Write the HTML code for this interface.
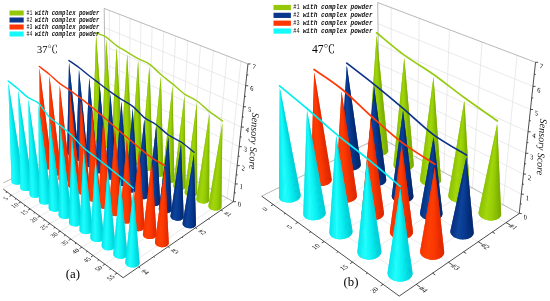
<!DOCTYPE html>
<html><head><meta charset="utf-8"><style>
html,body{margin:0;padding:0;background:#fff;}
svg{display:block;}
.tl{font-family:"Liberation Serif",serif;fill:#000;}
.ln{font-family:"Liberation Mono",monospace;fill:#111;}
.lt{font-family:"Liberation Mono",monospace;font-style:italic;font-weight:bold;fill:#111;}
.tt{font-family:"Liberation Serif","Noto Serif CJK SC",serif;fill:#000;}
.ss{font-family:"Liberation Serif",serif;font-style:italic;fill:#111;}
</style></head><body>
<svg width="550" height="301" viewBox="0 0 550 301">
<defs><clipPath id="ca"><rect x="3.3" y="0" width="259" height="301"/></clipPath></defs>
<rect width="550" height="301" fill="#fff"/>
<g clip-path="url(#ca)">
<polygon points="105.71,130.95 233.33,201.67 247.96,63.92 104.19,8.44" fill="#fff"/>
<g stroke="#dcdcdc" stroke-width="0.6"><line x1="110.26" y1="133.47" x2="109.22" y2="10.39" /><line x1="119.54" y1="138.61" x2="119.49" y2="14.35" /><line x1="129.05" y1="143.88" x2="130.06" y2="18.43" /><line x1="138.81" y1="149.29" x2="140.94" y2="22.63" /><line x1="148.82" y1="154.84" x2="152.14" y2="26.95" /><line x1="159.11" y1="160.54" x2="163.67" y2="31.4" /><line x1="169.67" y1="166.39" x2="175.56" y2="35.98" /><line x1="180.53" y1="172.41" x2="187.81" y2="40.71" /><line x1="191.69" y1="178.6" x2="200.44" y2="45.58" /><line x1="203.17" y1="184.96" x2="213.48" y2="50.61" /><line x1="214.97" y1="191.5" x2="226.94" y2="55.81" /><line x1="227.12" y1="198.23" x2="240.84" y2="61.17" /><line x1="105.51" y1="114.93" x2="235.21" y2="183.95" /><line x1="105.31" y1="98.45" x2="237.16" y2="165.63" /><line x1="105.1" y1="81.49" x2="239.17" y2="146.69" /><line x1="104.88" y1="64.03" x2="241.25" y2="127.08" /><line x1="104.66" y1="46.06" x2="243.41" y2="106.77" /><line x1="104.42" y1="27.53" x2="245.65" y2="85.74" /><line x1="110.26" y1="133.47" x2="2.68" y2="188.69" /><line x1="119.54" y1="138.61" x2="11.57" y2="195.27" /><line x1="129.05" y1="143.88" x2="20.73" y2="202.03" /><line x1="138.81" y1="149.29" x2="30.16" y2="209" /><line x1="148.82" y1="154.84" x2="39.87" y2="216.18" /><line x1="159.11" y1="160.54" x2="49.88" y2="223.57" /><line x1="169.67" y1="166.39" x2="60.19" y2="231.19" /><line x1="180.53" y1="172.41" x2="70.83" y2="239.05" /><line x1="191.69" y1="178.6" x2="81.8" y2="247.17" /><line x1="203.17" y1="184.96" x2="93.13" y2="255.54" /><line x1="214.97" y1="191.5" x2="104.84" y2="264.19" /><line x1="227.12" y1="198.23" x2="116.93" y2="273.13" /><line x1="93.6" y1="137.1" x2="221.14" y2="210.08" /><line x1="68.32" y1="149.93" x2="195.51" y2="227.77" /><line x1="41.56" y1="163.52" x2="168.08" y2="246.69" /><line x1="13.17" y1="177.93" x2="138.66" y2="266.99" /></g>
<g stroke="#9a9a9a" stroke-width="0.7"><line x1="104.19" y1="8.44" x2="247.96" y2="63.92" /><line x1="104.19" y1="8.44" x2="105.71" y2="130.95" /><line x1="105.71" y1="130.95" x2="-1.68" y2="185.47" /><line x1="105.71" y1="130.95" x2="233.33" y2="201.67" /></g>
<g stroke="#222" stroke-width="0.8" fill="none"><line x1="233.33" y1="201.67" x2="247.96" y2="63.92" /><line x1="-1.68" y1="185.47" x2="123.13" y2="277.71" /><line x1="233.33" y1="201.67" x2="123.13" y2="277.71" /><line x1="233.33" y1="201.67" x2="235.93" y2="201.67"/><line x1="234.26" y1="192.88" x2="235.76" y2="192.88"/><line x1="235.21" y1="183.95" x2="237.81" y2="183.95"/><line x1="236.18" y1="174.87" x2="237.68" y2="174.87"/><line x1="237.16" y1="165.63" x2="239.76" y2="165.63"/><line x1="238.16" y1="156.24" x2="239.66" y2="156.24"/><line x1="239.17" y1="146.69" x2="241.77" y2="146.69"/><line x1="240.2" y1="136.97" x2="241.7" y2="136.97"/><line x1="241.25" y1="127.08" x2="243.85" y2="127.08"/><line x1="242.32" y1="117.02" x2="243.82" y2="117.02"/><line x1="243.41" y1="106.77" x2="246.01" y2="106.77"/><line x1="244.52" y1="96.35" x2="246.02" y2="96.35"/><line x1="245.65" y1="85.74" x2="248.25" y2="85.74"/><line x1="246.79" y1="74.93" x2="248.29" y2="74.93"/><line x1="247.96" y1="63.92" x2="250.56" y2="63.92"/><line x1="2.68" y1="188.69" x2="0.55" y2="189.78" /><line x1="7.09" y1="191.96" x2="5.82" y2="192.62" /><line x1="11.57" y1="195.27" x2="9.44" y2="196.39" /><line x1="16.12" y1="198.63" x2="14.84" y2="199.31" /><line x1="20.73" y1="202.03" x2="18.59" y2="203.18" /><line x1="25.41" y1="205.49" x2="24.12" y2="206.19" /><line x1="30.16" y1="209" x2="28.01" y2="210.18" /><line x1="34.98" y1="212.56" x2="33.69" y2="213.28" /><line x1="39.87" y1="216.18" x2="37.71" y2="217.4" /><line x1="44.83" y1="219.85" x2="43.54" y2="220.59" /><line x1="49.88" y1="223.57" x2="47.7" y2="224.82" /><line x1="54.99" y1="227.35" x2="53.69" y2="228.12" /><line x1="60.19" y1="231.19" x2="58.01" y2="232.48" /><line x1="65.47" y1="235.09" x2="64.16" y2="235.88" /><line x1="70.83" y1="239.05" x2="68.64" y2="240.38" /><line x1="76.27" y1="243.08" x2="74.96" y2="243.89" /><line x1="81.8" y1="247.17" x2="79.6" y2="248.54" /><line x1="87.42" y1="251.32" x2="86.1" y2="252.15" /><line x1="93.13" y1="255.54" x2="90.93" y2="256.95" /><line x1="98.94" y1="259.83" x2="97.61" y2="260.69" /><line x1="104.84" y1="264.19" x2="102.62" y2="265.65" /><line x1="110.83" y1="268.62" x2="109.51" y2="269.51" /><line x1="116.93" y1="273.13" x2="114.71" y2="274.63" /><line x1="221.14" y1="210.08" x2="222.77" y2="211.02" /><line x1="208.54" y1="218.78" x2="209.54" y2="219.37" /><line x1="195.51" y1="227.77" x2="197.15" y2="228.77" /><line x1="182.03" y1="237.07" x2="183.04" y2="237.7" /><line x1="168.08" y1="246.69" x2="169.72" y2="247.77" /><line x1="153.64" y1="256.66" x2="154.64" y2="257.35" /><line x1="138.66" y1="266.99" x2="140.29" y2="268.15" /></g>
<text class="tl" transform="matrix(0.87,0.48,-0.11,0.99,239.53,204.07)" text-anchor="middle" dy="0.35em" font-size="7">0</text><text class="tl" transform="matrix(0.88,0.47,-0.11,0.99,241.41,186.35)" text-anchor="middle" dy="0.35em" font-size="7">1</text><text class="tl" transform="matrix(0.89,0.45,-0.11,0.99,243.36,168.03)" text-anchor="middle" dy="0.35em" font-size="7">2</text><text class="tl" transform="matrix(0.9,0.44,-0.11,0.99,245.37,149.09)" text-anchor="middle" dy="0.35em" font-size="7">3</text><text class="tl" transform="matrix(0.91,0.42,-0.11,0.99,247.45,129.48)" text-anchor="middle" dy="0.35em" font-size="7">4</text><text class="tl" transform="matrix(0.92,0.4,-0.11,0.99,249.61,109.17)" text-anchor="middle" dy="0.35em" font-size="7">5</text><text class="tl" transform="matrix(0.92,0.38,-0.11,0.99,251.85,88.14)" text-anchor="middle" dy="0.35em" font-size="7">6</text><text class="tl" transform="matrix(0.93,0.36,-0.11,0.99,254.16,66.32)" text-anchor="middle" dy="0.35em" font-size="7">7</text><text class="ss" transform="translate(252.2,112.6) rotate(93.1)" font-size="10">Sensory Score</text><text class="tl" transform="matrix(0.89,-0.46,0.8,0.6,5.46,198.48)" x="0" y="0" dy="0.35em" text-anchor="middle" font-size="6.5">5</text><text class="tl" transform="matrix(0.88,-0.47,0.8,0.6,14.59,205.33)" x="0" y="0" dy="0.35em" text-anchor="middle" font-size="6.5">10</text><text class="tl" transform="matrix(0.88,-0.48,0.8,0.6,23.98,212.4)" x="0" y="0" dy="0.35em" text-anchor="middle" font-size="6.5">15</text><text class="tl" transform="matrix(0.87,-0.49,0.8,0.6,33.66,219.67)" x="0" y="0" dy="0.35em" text-anchor="middle" font-size="6.5">20</text><text class="tl" transform="matrix(0.87,-0.5,0.8,0.6,43.64,227.17)" x="0" y="0" dy="0.35em" text-anchor="middle" font-size="6.5">25</text><text class="tl" transform="matrix(0.86,-0.51,0.8,0.6,53.93,234.9)" x="0" y="0" dy="0.35em" text-anchor="middle" font-size="6.5">30</text><text class="tl" transform="matrix(0.85,-0.52,0.8,0.6,64.54,242.87)" x="0" y="0" dy="0.35em" text-anchor="middle" font-size="6.5">35</text><text class="tl" transform="matrix(0.85,-0.53,0.8,0.6,75.49,251.1)" x="0" y="0" dy="0.35em" text-anchor="middle" font-size="6.5">40</text><text class="tl" transform="matrix(0.84,-0.54,0.8,0.6,86.8,259.6)" x="0" y="0" dy="0.35em" text-anchor="middle" font-size="6.5">45</text><text class="tl" transform="matrix(0.83,-0.55,0.8,0.6,98.49,268.38)" x="0" y="0" dy="0.35em" text-anchor="middle" font-size="6.5">50</text><text class="tl" transform="matrix(0.83,-0.56,0.8,0.6,110.56,277.45)" x="0" y="0" dy="0.35em" text-anchor="middle" font-size="6.5">55</text><text class="tl" transform="matrix(0.87,0.5,-0.82,0.57,225.17,212.39)" x="0" y="0" dy="0.35em" text-anchor="start" font-size="6.5">#1</text><text class="tl" transform="matrix(0.85,0.52,-0.82,0.57,199.55,230.24)" x="0" y="0" dy="0.35em" text-anchor="start" font-size="6.5">#2</text><text class="tl" transform="matrix(0.84,0.55,-0.82,0.57,172.12,249.35)" x="0" y="0" dy="0.35em" text-anchor="start" font-size="6.5">#3</text><text class="tl" transform="matrix(0.82,0.58,-0.82,0.57,142.69,269.86)" x="0" y="0" dy="0.35em" text-anchor="start" font-size="6.5">#4</text>
<polygon points="92.62,139.65 96.11,34.91 103.62,139.35 103.65,139.74 103.58,140.13 103.41,140.52 103.16,140.89 102.82,141.24 102.4,141.56 101.9,141.85 101.34,142.11 100.72,142.32 100.06,142.49 99.36,142.61 98.65,142.68 97.92,142.7 97.2,142.67 96.49,142.59 95.81,142.45 95.18,142.27 94.59,142.05 94.07,141.78 93.61,141.48 93.24,141.15 92.95,140.8 92.75,140.42 92.64,140.04" fill="#96cc06"/>
<polygon points="96.11,34.91 101.9,141.85 101.34,142.11" fill="#81b303"/>
<polygon points="96.11,34.91 101.34,142.11 100.72,142.32" fill="#87b904"/>
<polygon points="96.11,34.91 100.72,142.32 100.06,142.49" fill="#8cc004"/>
<polygon points="96.11,34.91 100.06,142.49 99.36,142.61" fill="#92c705"/>
<polygon points="96.11,34.91 99.36,142.61 98.65,142.68" fill="#97cd07"/>
<polygon points="96.11,34.91 98.65,142.68 97.92,142.7" fill="#9bd008"/>
<polygon points="96.11,34.91 97.92,142.7 97.2,142.67" fill="#9ed30a"/>
<polygon points="96.11,34.91 97.2,142.67 96.49,142.59" fill="#a2d60c"/>
<polygon points="96.11,34.91 96.49,142.59 95.81,142.45" fill="#a5d90d"/>
<polygon points="96.11,34.91 95.81,142.45 95.18,142.27" fill="#a2d70d"/>
<polygon points="96.11,34.91 95.18,142.27 94.59,142.05" fill="#9dd20b"/>
<polygon points="96.11,34.91 94.59,142.05 94.07,141.78" fill="#98cd0a"/>
<polygon points="96.11,34.91 94.07,141.78 93.61,141.48" fill="#94ca09"/>
<polygon points="96.11,34.91 93.61,141.48 93.24,141.15" fill="#91c608"/>
<polygon points="96.11,34.91 93.24,141.15 92.95,140.8" fill="#8ec407"/>
<polygon points="96.11,34.91 92.95,140.8 92.75,140.42" fill="#8cc207"/>
<polygon points="96.11,34.91 92.75,140.42 92.64,140.04" fill="#8bc106"/>
<polygon points="96.11,34.91 92.64,140.04 92.62,139.65" fill="#8ac006"/>
<polygon points="96.11,34.91 103.62,139.35 103.65,139.74" fill="#709e00"/>
<polygon points="96.11,34.91 103.65,139.74 103.58,140.13" fill="#709e00"/>
<polygon points="96.11,34.91 103.58,140.13 103.41,140.52" fill="#71a000"/>
<polygon points="96.11,34.91 103.41,140.52 103.16,140.89" fill="#73a200"/>
<polygon points="96.11,34.91 103.16,140.89 102.82,141.24" fill="#76a501"/>
<polygon points="96.11,34.91 102.82,141.24 102.4,141.56" fill="#79a901"/>
<polygon points="96.11,34.91 102.4,141.56 101.9,141.85" fill="#7dae02"/>
<polygon points="101.79,144.94 106.2,39.06 112.97,145.04 112.91,145.44 112.75,145.83 112.5,146.21 112.16,146.57 111.74,146.9 111.25,147.2 110.68,147.46 110.06,147.68 109.39,147.86 108.69,147.98 107.97,148.05 107.23,148.07 106.5,148.04 105.78,147.95 105.09,147.82 104.44,147.63 103.84,147.4 103.3,147.13 102.84,146.82 102.45,146.48 102.15,146.12 101.94,145.73 101.82,145.34" fill="#96cc06"/>
<polygon points="106.2,39.06 111.25,147.2 110.68,147.46" fill="#81b303"/>
<polygon points="106.2,39.06 110.68,147.46 110.06,147.68" fill="#86b903"/>
<polygon points="106.2,39.06 110.06,147.68 109.39,147.86" fill="#8cbf04"/>
<polygon points="106.2,39.06 109.39,147.86 108.69,147.98" fill="#91c605"/>
<polygon points="106.2,39.06 108.69,147.98 107.97,148.05" fill="#97cd06"/>
<polygon points="106.2,39.06 107.97,148.05 107.23,148.07" fill="#9ad008"/>
<polygon points="106.2,39.06 107.23,148.07 106.5,148.04" fill="#9ed30a"/>
<polygon points="106.2,39.06 106.5,148.04 105.78,147.95" fill="#a1d60c"/>
<polygon points="106.2,39.06 105.78,147.95 105.09,147.82" fill="#a5d90d"/>
<polygon points="106.2,39.06 105.09,147.82 104.44,147.63" fill="#a3d70d"/>
<polygon points="106.2,39.06 104.44,147.63 103.84,147.4" fill="#9ed20c"/>
<polygon points="106.2,39.06 103.84,147.4 103.3,147.13" fill="#99ce0a"/>
<polygon points="106.2,39.06 103.3,147.13 102.84,146.82" fill="#95ca09"/>
<polygon points="106.2,39.06 102.84,146.82 102.45,146.48" fill="#91c708"/>
<polygon points="106.2,39.06 102.45,146.48 102.15,146.12" fill="#8ec407"/>
<polygon points="106.2,39.06 102.15,146.12 101.94,145.73" fill="#8cc207"/>
<polygon points="106.2,39.06 101.94,145.73 101.82,145.34" fill="#8bc106"/>
<polygon points="106.2,39.06 101.82,145.34 101.79,144.94" fill="#8ac006"/>
<polygon points="106.2,39.06 112.97,145.04 112.91,145.44" fill="#709e00"/>
<polygon points="106.2,39.06 112.91,145.44 112.75,145.83" fill="#719f00"/>
<polygon points="106.2,39.06 112.75,145.83 112.5,146.21" fill="#73a200"/>
<polygon points="106.2,39.06 112.5,146.21 112.16,146.57" fill="#75a501"/>
<polygon points="106.2,39.06 112.16,146.57 111.74,146.9" fill="#79a801"/>
<polygon points="106.2,39.06 111.74,146.9 111.25,147.2" fill="#7dad02"/>
<polygon points="111.21,150.36 116.59,47.54 122.54,150.47 122.48,150.88 122.33,151.28 122.09,151.67 121.75,152.04 121.33,152.38 120.84,152.69 120.27,152.96 119.65,153.18 118.97,153.36 118.26,153.49 117.53,153.56 116.78,153.58 116.04,153.55 115.31,153.46 114.61,153.32 113.95,153.13 113.33,152.89 112.78,152.61 112.31,152.29 111.91,151.95 111.59,151.57 111.37,151.18 111.24,150.77" fill="#96cc06"/>
<polygon points="116.59,47.54 120.84,152.69 120.27,152.96" fill="#81b203"/>
<polygon points="116.59,47.54 120.27,152.96 119.65,153.18" fill="#86b803"/>
<polygon points="116.59,47.54 119.65,153.18 118.97,153.36" fill="#8bbf04"/>
<polygon points="116.59,47.54 118.97,153.36 118.26,153.49" fill="#91c605"/>
<polygon points="116.59,47.54 118.26,153.49 117.53,153.56" fill="#97cc06"/>
<polygon points="116.59,47.54 117.53,153.56 116.78,153.58" fill="#9acf08"/>
<polygon points="116.59,47.54 116.78,153.58 116.04,153.55" fill="#9dd30a"/>
<polygon points="116.59,47.54 116.04,153.55 115.31,153.46" fill="#a1d60b"/>
<polygon points="116.59,47.54 115.31,153.46 114.61,153.32" fill="#a4d90d"/>
<polygon points="116.59,47.54 114.61,153.32 113.95,153.13" fill="#a3d70d"/>
<polygon points="116.59,47.54 113.95,153.13 113.33,152.89" fill="#9ed30c"/>
<polygon points="116.59,47.54 113.33,152.89 112.78,152.61" fill="#99ce0a"/>
<polygon points="116.59,47.54 112.78,152.61 112.31,152.29" fill="#95ca09"/>
<polygon points="116.59,47.54 112.31,152.29 111.91,151.95" fill="#91c708"/>
<polygon points="116.59,47.54 111.91,151.95 111.59,151.57" fill="#8ec407"/>
<polygon points="116.59,47.54 111.59,151.57 111.37,151.18" fill="#8cc207"/>
<polygon points="116.59,47.54 111.37,151.18 111.24,150.77" fill="#8bc106"/>
<polygon points="116.59,47.54 111.24,150.77 111.21,150.36" fill="#8ac006"/>
<polygon points="116.59,47.54 122.54,150.47 122.48,150.88" fill="#709e00"/>
<polygon points="116.59,47.54 122.48,150.88 122.33,151.28" fill="#719f00"/>
<polygon points="116.59,47.54 122.33,151.28 122.09,151.67" fill="#73a100"/>
<polygon points="116.59,47.54 122.09,151.67 121.75,152.04" fill="#75a401"/>
<polygon points="116.59,47.54 121.75,152.04 121.33,152.38" fill="#78a801"/>
<polygon points="116.59,47.54 121.33,152.38 120.84,152.69" fill="#7cad02"/>
<polygon points="120.87,155.93 127.22,54.02 132.36,156.05 132.31,156.47 132.17,156.88 131.93,157.28 131.6,157.66 131.18,158.01 130.68,158.32 130.12,158.6 129.49,158.83 128.81,159.01 128.09,159.14 127.35,159.22 126.59,159.24 125.84,159.2 125.1,159.11 124.38,158.97 123.71,158.77 123.08,158.53 122.52,158.24 122.02,157.92 121.61,157.56 121.28,157.17 121.05,156.77 120.91,156.36" fill="#96cc06"/>
<polygon points="127.22,54.02 130.68,158.32 130.12,158.6" fill="#80b203"/>
<polygon points="127.22,54.02 130.12,158.6 129.49,158.83" fill="#85b803"/>
<polygon points="127.22,54.02 129.49,158.83 128.81,159.01" fill="#8bbe04"/>
<polygon points="127.22,54.02 128.81,159.01 128.09,159.14" fill="#90c505"/>
<polygon points="127.22,54.02 128.09,159.14 127.35,159.22" fill="#96cc06"/>
<polygon points="127.22,54.02 127.35,159.22 126.59,159.24" fill="#9acf08"/>
<polygon points="127.22,54.02 126.59,159.24 125.84,159.2" fill="#9dd20a"/>
<polygon points="127.22,54.02 125.84,159.2 125.1,159.11" fill="#a1d50b"/>
<polygon points="127.22,54.02 125.1,159.11 124.38,158.97" fill="#a4d80d"/>
<polygon points="127.22,54.02 124.38,158.97 123.71,158.77" fill="#a4d80d"/>
<polygon points="127.22,54.02 123.71,158.77 123.08,158.53" fill="#9fd30c"/>
<polygon points="127.22,54.02 123.08,158.53 122.52,158.24" fill="#9acf0a"/>
<polygon points="127.22,54.02 122.52,158.24 122.02,157.92" fill="#95cb09"/>
<polygon points="127.22,54.02 122.02,157.92 121.61,157.56" fill="#92c708"/>
<polygon points="127.22,54.02 121.61,157.56 121.28,157.17" fill="#8fc407"/>
<polygon points="127.22,54.02 121.28,157.17 121.05,156.77" fill="#8cc207"/>
<polygon points="127.22,54.02 121.05,156.77 120.91,156.36" fill="#8bc106"/>
<polygon points="127.22,54.02 120.91,156.36 120.87,155.93" fill="#8ac006"/>
<polygon points="127.22,54.02 132.36,156.05 132.31,156.47" fill="#709e00"/>
<polygon points="127.22,54.02 132.31,156.47 132.17,156.88" fill="#719f00"/>
<polygon points="127.22,54.02 132.17,156.88 131.93,157.28" fill="#73a100"/>
<polygon points="127.22,54.02 131.93,157.28 131.6,157.66" fill="#75a401"/>
<polygon points="127.22,54.02 131.6,157.66 131.18,158.01" fill="#78a801"/>
<polygon points="127.22,54.02 131.18,158.01 130.68,158.32" fill="#7cac02"/>
<polygon points="130.79,161.65 138.13,60.63 142.44,161.78 142.4,162.21 142.27,162.63 142.03,163.04 141.71,163.43 141.29,163.79 140.8,164.11 140.23,164.39 139.59,164.63 138.91,164.82 138.19,164.95 137.44,165.03 136.67,165.05 135.9,165.01 135.15,164.92 134.42,164.77 133.73,164.57 133.09,164.32 132.51,164.02 132.01,163.69 131.58,163.32 131.24,162.93 130.99,162.51 130.84,162.09" fill="#96cc06"/>
<polygon points="138.13,60.63 140.8,164.11 140.23,164.39" fill="#80b102"/>
<polygon points="138.13,60.63 140.23,164.39 139.59,164.63" fill="#85b703"/>
<polygon points="138.13,60.63 139.59,164.63 138.91,164.82" fill="#8abd04"/>
<polygon points="138.13,60.63 138.91,164.82 138.19,164.95" fill="#90c405"/>
<polygon points="138.13,60.63 138.19,164.95 137.44,165.03" fill="#96cc06"/>
<polygon points="138.13,60.63 137.44,165.03 136.67,165.05" fill="#99cf08"/>
<polygon points="138.13,60.63 136.67,165.05 135.9,165.01" fill="#9dd209"/>
<polygon points="138.13,60.63 135.9,165.01 135.15,164.92" fill="#a0d50b"/>
<polygon points="138.13,60.63 135.15,164.92 134.42,164.77" fill="#a4d80d"/>
<polygon points="138.13,60.63 134.42,164.77 133.73,164.57" fill="#a4d80e"/>
<polygon points="138.13,60.63 133.73,164.57 133.09,164.32" fill="#9fd40c"/>
<polygon points="138.13,60.63 133.09,164.32 132.51,164.02" fill="#9acf0b"/>
<polygon points="138.13,60.63 132.51,164.02 132.01,163.69" fill="#96cb09"/>
<polygon points="138.13,60.63 132.01,163.69 131.58,163.32" fill="#92c708"/>
<polygon points="138.13,60.63 131.58,163.32 131.24,162.93" fill="#8fc507"/>
<polygon points="138.13,60.63 131.24,162.93 130.99,162.51" fill="#8dc207"/>
<polygon points="138.13,60.63 130.99,162.51 130.84,162.09" fill="#8bc106"/>
<polygon points="138.13,60.63 130.84,162.09 130.79,161.65" fill="#8ac006"/>
<polygon points="138.13,60.63 142.44,161.78 142.4,162.21" fill="#709e00"/>
<polygon points="138.13,60.63 142.4,162.21 142.27,162.63" fill="#719f00"/>
<polygon points="138.13,60.63 142.27,162.63 142.03,163.04" fill="#72a100"/>
<polygon points="138.13,60.63 142.03,163.04 141.71,163.43" fill="#75a401"/>
<polygon points="138.13,60.63 141.71,163.43 141.29,163.79" fill="#78a701"/>
<polygon points="138.13,60.63 141.29,163.79 140.8,164.11" fill="#7bac02"/>
<polygon points="140.98,167.53 149.37,66.11 152.8,167.66 152.77,168.1 152.64,168.54 152.41,168.96 152.09,169.35 151.68,169.72 151.18,170.05 150.61,170.34 149.98,170.59 149.29,170.78 148.56,170.91 147.8,170.99 147.02,171.02 146.24,170.98 145.48,170.88 144.73,170.73 144.03,170.52 143.37,170.26 142.78,169.96 142.26,169.62 141.82,169.24 141.46,168.84 141.2,168.41 141.04,167.97" fill="#96cc06"/>
<polygon points="149.37,66.11 151.18,170.05 150.61,170.34" fill="#7fb002"/>
<polygon points="149.37,66.11 150.61,170.34 149.98,170.59" fill="#84b603"/>
<polygon points="149.37,66.11 149.98,170.59 149.29,170.78" fill="#89bd04"/>
<polygon points="149.37,66.11 149.29,170.78 148.56,170.91" fill="#8fc405"/>
<polygon points="149.37,66.11 148.56,170.91 147.8,170.99" fill="#95cb06"/>
<polygon points="149.37,66.11 147.8,170.99 147.02,171.02" fill="#99cf07"/>
<polygon points="149.37,66.11 147.02,171.02 146.24,170.98" fill="#9cd209"/>
<polygon points="149.37,66.11 146.24,170.98 145.48,170.88" fill="#a0d50b"/>
<polygon points="149.37,66.11 145.48,170.88 144.73,170.73" fill="#a3d80d"/>
<polygon points="149.37,66.11 144.73,170.73 144.03,170.52" fill="#a5d90e"/>
<polygon points="149.37,66.11 144.03,170.52 143.37,170.26" fill="#a0d40c"/>
<polygon points="149.37,66.11 143.37,170.26 142.78,169.96" fill="#9bcf0b"/>
<polygon points="149.37,66.11 142.78,169.96 142.26,169.62" fill="#96cb09"/>
<polygon points="149.37,66.11 142.26,169.62 141.82,169.24" fill="#92c808"/>
<polygon points="149.37,66.11 141.82,169.24 141.46,168.84" fill="#8fc507"/>
<polygon points="149.37,66.11 141.46,168.84 141.2,168.41" fill="#8dc307"/>
<polygon points="149.37,66.11 141.2,168.41 141.04,167.97" fill="#8bc106"/>
<polygon points="149.37,66.11 141.04,167.97 140.98,167.53" fill="#8ac006"/>
<polygon points="149.37,66.11 152.8,167.66 152.77,168.1" fill="#709e00"/>
<polygon points="149.37,66.11 152.77,168.1 152.64,168.54" fill="#719f00"/>
<polygon points="149.37,66.11 152.64,168.54 152.41,168.96" fill="#72a100"/>
<polygon points="149.37,66.11 152.41,168.96 152.09,169.35" fill="#74a301"/>
<polygon points="149.37,66.11 152.09,169.35 151.68,169.72" fill="#77a701"/>
<polygon points="149.37,66.11 151.68,169.72 151.18,170.05" fill="#7bab02"/>
<polygon points="151.45,173.57 151.48,173.11 160.77,76.51 163.44,173.7 163.42,174.16 163.3,174.61 163.08,175.04 162.77,175.45 162.36,175.82 161.86,176.16 161.29,176.46 160.65,176.71 159.96,176.91 159.22,177.05 158.45,177.13 157.66,177.15 156.87,177.11 156.09,177.01 155.33,176.85 154.61,176.64 153.94,176.38 153.33,176.07 152.8,175.71 152.34,175.33 151.97,174.91 151.7,174.47 151.52,174.02" fill="#96cc06"/>
<polygon points="160.77,76.51 161.86,176.16 161.29,176.46" fill="#7fb002"/>
<polygon points="160.77,76.51 161.29,176.46 160.65,176.71" fill="#84b603"/>
<polygon points="160.77,76.51 160.65,176.71 159.96,176.91" fill="#89bc04"/>
<polygon points="160.77,76.51 159.96,176.91 159.22,177.05" fill="#8fc305"/>
<polygon points="160.77,76.51 159.22,177.05 158.45,177.13" fill="#95ca06"/>
<polygon points="160.77,76.51 158.45,177.13 157.66,177.15" fill="#99ce07"/>
<polygon points="160.77,76.51 157.66,177.15 156.87,177.11" fill="#9cd109"/>
<polygon points="160.77,76.51 156.87,177.11 156.09,177.01" fill="#a0d40b"/>
<polygon points="160.77,76.51 156.09,177.01 155.33,176.85" fill="#a3d70d"/>
<polygon points="160.77,76.51 155.33,176.85 154.61,176.64" fill="#a5d90e"/>
<polygon points="160.77,76.51 154.61,176.64 153.94,176.38" fill="#a0d40c"/>
<polygon points="160.77,76.51 153.94,176.38 153.33,176.07" fill="#9bd00b"/>
<polygon points="160.77,76.51 153.33,176.07 152.8,175.71" fill="#97cc0a"/>
<polygon points="160.77,76.51 152.8,175.71 152.34,175.33" fill="#93c808"/>
<polygon points="160.77,76.51 152.34,175.33 151.97,174.91" fill="#90c508"/>
<polygon points="160.77,76.51 151.97,174.91 151.7,174.47" fill="#8dc307"/>
<polygon points="160.77,76.51 151.7,174.47 151.52,174.02" fill="#8bc106"/>
<polygon points="160.77,76.51 151.52,174.02 151.45,173.57" fill="#8ac006"/>
<polygon points="160.77,76.51 151.45,173.57 151.48,173.11" fill="#8ac006"/>
<polygon points="160.77,76.51 163.44,173.7 163.42,174.16" fill="#709e00"/>
<polygon points="160.77,76.51 163.42,174.16 163.3,174.61" fill="#719f00"/>
<polygon points="160.77,76.51 163.3,174.61 163.08,175.04" fill="#72a000"/>
<polygon points="160.77,76.51 163.08,175.04 162.77,175.45" fill="#74a301"/>
<polygon points="160.77,76.51 162.77,175.45 162.36,175.82" fill="#77a601"/>
<polygon points="160.77,76.51 162.36,175.82 161.86,176.16" fill="#7bab02"/>
<polygon points="162.21,179.77 162.23,179.31 172.46,85.93 174.38,179.92 174.38,180.38 174.27,180.84 174.05,181.29 173.74,181.71 173.33,182.1 172.84,182.45 172.26,182.75 171.62,183.01 170.92,183.21 170.18,183.35 169.4,183.44 168.6,183.46 167.8,183.42 167,183.31 166.23,183.15 165.5,182.93 164.81,182.66 164.18,182.34 163.63,181.98 163.16,181.58 162.77,181.15 162.49,180.7 162.3,180.24" fill="#96cc06"/>
<polygon points="172.46,85.93 172.84,182.45 172.26,182.75" fill="#7eaf02"/>
<polygon points="172.46,85.93 172.26,182.75 171.62,183.01" fill="#83b503"/>
<polygon points="172.46,85.93 171.62,183.01 170.92,183.21" fill="#88bb04"/>
<polygon points="172.46,85.93 170.92,183.21 170.18,183.35" fill="#8ec205"/>
<polygon points="172.46,85.93 170.18,183.35 169.4,183.44" fill="#94c906"/>
<polygon points="172.46,85.93 169.4,183.44 168.6,183.46" fill="#98ce07"/>
<polygon points="172.46,85.93 168.6,183.46 167.8,183.42" fill="#9cd109"/>
<polygon points="172.46,85.93 167.8,183.42 167,183.31" fill="#9fd40b"/>
<polygon points="172.46,85.93 167,183.31 166.23,183.15" fill="#a3d70c"/>
<polygon points="172.46,85.93 166.23,183.15 165.5,182.93" fill="#a6da0e"/>
<polygon points="172.46,85.93 165.5,182.93 164.81,182.66" fill="#a1d50c"/>
<polygon points="172.46,85.93 164.81,182.66 164.18,182.34" fill="#9cd00b"/>
<polygon points="172.46,85.93 164.18,182.34 163.63,181.98" fill="#97cc0a"/>
<polygon points="172.46,85.93 163.63,181.98 163.16,181.58" fill="#93c809"/>
<polygon points="172.46,85.93 163.16,181.58 162.77,181.15" fill="#90c508"/>
<polygon points="172.46,85.93 162.77,181.15 162.49,180.7" fill="#8dc307"/>
<polygon points="172.46,85.93 162.49,180.7 162.3,180.24" fill="#8bc106"/>
<polygon points="172.46,85.93 162.3,180.24 162.21,179.77" fill="#8ac006"/>
<polygon points="172.46,85.93 162.21,179.77 162.23,179.31" fill="#8ac006"/>
<polygon points="172.46,85.93 174.38,179.92 174.38,180.38" fill="#709e00"/>
<polygon points="172.46,85.93 174.38,180.38 174.27,180.84" fill="#709f00"/>
<polygon points="172.46,85.93 174.27,180.84 174.05,181.29" fill="#72a000"/>
<polygon points="172.46,85.93 174.05,181.29 173.74,181.71" fill="#74a301"/>
<polygon points="172.46,85.93 173.74,181.71 173.33,182.1" fill="#77a601"/>
<polygon points="172.46,85.93 173.33,182.1 172.84,182.45" fill="#7aaa02"/>
<polygon points="173.28,186.16 173.29,185.68 184.41,96.05 185.63,186.31 185.64,186.79 185.54,187.26 185.33,187.72 185.02,188.15 184.62,188.55 184.13,188.91 183.55,189.22 182.91,189.48 182.2,189.69 181.45,189.84 180.66,189.92 179.85,189.94 179.04,189.9 178.23,189.8 177.44,189.63 176.69,189.41 175.99,189.13 175.34,188.8 174.77,188.42 174.28,188.01 173.88,187.57 173.58,187.11 173.38,186.64" fill="#96cc06"/>
<polygon points="184.41,96.05 184.13,188.91 183.55,189.22" fill="#7eaf02"/>
<polygon points="184.41,96.05 183.55,189.22 182.91,189.48" fill="#83b403"/>
<polygon points="184.41,96.05 182.91,189.48 182.2,189.69" fill="#88bb04"/>
<polygon points="184.41,96.05 182.2,189.69 181.45,189.84" fill="#8dc105"/>
<polygon points="184.41,96.05 181.45,189.84 180.66,189.92" fill="#93c906"/>
<polygon points="184.41,96.05 180.66,189.92 179.85,189.94" fill="#98ce07"/>
<polygon points="184.41,96.05 179.85,189.94 179.04,189.9" fill="#9bd109"/>
<polygon points="184.41,96.05 179.04,189.9 178.23,189.8" fill="#9fd40a"/>
<polygon points="184.41,96.05 178.23,189.8 177.44,189.63" fill="#a2d70c"/>
<polygon points="184.41,96.05 177.44,189.63 176.69,189.41" fill="#a6da0e"/>
<polygon points="184.41,96.05 176.69,189.41 175.99,189.13" fill="#a1d50d"/>
<polygon points="184.41,96.05 175.99,189.13 175.34,188.8" fill="#9cd10b"/>
<polygon points="184.41,96.05 175.34,188.8 174.77,188.42" fill="#97cc0a"/>
<polygon points="184.41,96.05 174.77,188.42 174.28,188.01" fill="#93c909"/>
<polygon points="184.41,96.05 174.28,188.01 173.88,187.57" fill="#90c608"/>
<polygon points="184.41,96.05 173.88,187.57 173.58,187.11" fill="#8dc307"/>
<polygon points="184.41,96.05 173.58,187.11 173.38,186.64" fill="#8cc106"/>
<polygon points="184.41,96.05 173.38,186.64 173.28,186.16" fill="#8ac006"/>
<polygon points="184.41,96.05 173.28,186.16 173.29,185.68" fill="#8ac006"/>
<polygon points="184.41,96.05 185.63,186.31 185.64,186.79" fill="#709e00"/>
<polygon points="184.41,96.05 185.64,186.79 185.54,187.26" fill="#709e00"/>
<polygon points="184.41,96.05 185.54,187.26 185.33,187.72" fill="#72a000"/>
<polygon points="184.41,96.05 185.33,187.72 185.02,188.15" fill="#74a201"/>
<polygon points="184.41,96.05 185.02,188.15 184.62,188.55" fill="#76a601"/>
<polygon points="184.41,96.05 184.62,188.55 184.13,188.91" fill="#7aaa02"/>
<polygon points="184.66,192.23 196.86,103.03 197.23,193.38 197.14,193.86 196.94,194.33 196.64,194.77 196.24,195.18 195.75,195.55 195.17,195.88 194.52,196.15 193.81,196.36 193.05,196.51 192.25,196.6 191.43,196.62 190.6,196.58 189.78,196.47 188.97,196.3 188.21,196.06 187.49,195.78 186.83,195.44 186.24,195.05 185.73,194.63 185.31,194.18 184.99,193.71 184.78,193.22 184.67,192.72" fill="#96cc06"/>
<polygon points="196.86,103.03 195.75,195.55 195.17,195.88" fill="#7dae02"/>
<polygon points="196.86,103.03 195.17,195.88 194.52,196.15" fill="#82b403"/>
<polygon points="196.86,103.03 194.52,196.15 193.81,196.36" fill="#87ba04"/>
<polygon points="196.86,103.03 193.81,196.36 193.05,196.51" fill="#8dc105"/>
<polygon points="196.86,103.03 193.05,196.51 192.25,196.6" fill="#93c805"/>
<polygon points="196.86,103.03 192.25,196.6 191.43,196.62" fill="#98cd07"/>
<polygon points="196.86,103.03 191.43,196.62 190.6,196.58" fill="#9bd009"/>
<polygon points="196.86,103.03 190.6,196.58 189.78,196.47" fill="#9fd30a"/>
<polygon points="196.86,103.03 189.78,196.47 188.97,196.3" fill="#a2d60c"/>
<polygon points="196.86,103.03 188.97,196.3 188.21,196.06" fill="#a5d90e"/>
<polygon points="196.86,103.03 188.21,196.06 187.49,195.78" fill="#a2d60d"/>
<polygon points="196.86,103.03 187.49,195.78 186.83,195.44" fill="#9dd10b"/>
<polygon points="196.86,103.03 186.83,195.44 186.24,195.05" fill="#98cd0a"/>
<polygon points="196.86,103.03 186.24,195.05 185.73,194.63" fill="#94c909"/>
<polygon points="196.86,103.03 185.73,194.63 185.31,194.18" fill="#90c608"/>
<polygon points="196.86,103.03 185.31,194.18 184.99,193.71" fill="#8ec307"/>
<polygon points="196.86,103.03 184.99,193.71 184.78,193.22" fill="#8cc206"/>
<polygon points="196.86,103.03 184.78,193.22 184.67,192.72" fill="#8ac006"/>
<polygon points="196.86,103.03 184.67,192.72 184.66,192.23" fill="#8ac006"/>
<polygon points="196.86,103.03 197.23,193.38 197.14,193.86" fill="#709e00"/>
<polygon points="196.86,103.03 197.14,193.86 196.94,194.33" fill="#71a000"/>
<polygon points="196.86,103.03 196.94,194.33 196.64,194.77" fill="#73a201"/>
<polygon points="196.86,103.03 196.64,194.77 196.24,195.18" fill="#76a501"/>
<polygon points="196.86,103.03 196.24,195.18 195.75,195.55" fill="#79a901"/>
<polygon points="196.37,198.97 209.4,113.66 209.15,200.16 209.07,200.66 208.88,201.14 208.59,201.59 208.19,202.02 207.7,202.4 207.13,202.73 206.48,203.01 205.76,203.23 204.99,203.38 204.18,203.47 203.35,203.49 202.5,203.45 201.67,203.34 200.85,203.16 200.06,202.92 199.32,202.62 198.64,202.27 198.04,201.88 197.51,201.45 197.08,200.98 196.74,200.49 196.51,199.99 196.39,199.48" fill="#96cc06"/>
<polygon points="209.4,113.66 207.7,202.4 207.13,202.73" fill="#7eb002"/>
<polygon points="209.4,113.66 207.13,202.73 206.48,203.01" fill="#83b503"/>
<polygon points="209.4,113.66 206.48,203.01 205.76,203.23" fill="#88bb04"/>
<polygon points="209.4,113.66 205.76,203.23 204.99,203.38" fill="#8dc205"/>
<polygon points="209.4,113.66 204.99,203.38 204.18,203.47" fill="#93c906"/>
<polygon points="209.4,113.66 204.18,203.47 203.35,203.49" fill="#98ce07"/>
<polygon points="209.4,113.66 203.35,203.49 202.5,203.45" fill="#9bd109"/>
<polygon points="209.4,113.66 202.5,203.45 201.67,203.34" fill="#9fd40a"/>
<polygon points="209.4,113.66 201.67,203.34 200.85,203.16" fill="#a2d70c"/>
<polygon points="209.4,113.66 200.85,203.16 200.06,202.92" fill="#a5d90e"/>
<polygon points="209.4,113.66 200.06,202.92 199.32,202.62" fill="#a2d60d"/>
<polygon points="209.4,113.66 199.32,202.62 198.64,202.27" fill="#9dd10b"/>
<polygon points="209.4,113.66 198.64,202.27 198.04,201.88" fill="#98cd0a"/>
<polygon points="209.4,113.66 198.04,201.88 197.51,201.45" fill="#94c909"/>
<polygon points="209.4,113.66 197.51,201.45 197.08,200.98" fill="#91c608"/>
<polygon points="209.4,113.66 197.08,200.98 196.74,200.49" fill="#8ec407"/>
<polygon points="209.4,113.66 196.74,200.49 196.51,199.99" fill="#8cc207"/>
<polygon points="209.4,113.66 196.51,199.99 196.39,199.48" fill="#8bc106"/>
<polygon points="209.4,113.66 196.39,199.48 196.37,198.97" fill="#8ac006"/>
<polygon points="209.4,113.66 209.15,200.16 209.07,200.66" fill="#72a100"/>
<polygon points="209.4,113.66 209.07,200.66 208.88,201.14" fill="#73a200"/>
<polygon points="209.4,113.66 208.88,201.14 208.59,201.59" fill="#75a401"/>
<polygon points="209.4,113.66 208.59,201.59 208.19,202.02" fill="#77a701"/>
<polygon points="209.4,113.66 208.19,202.02 207.7,202.4" fill="#7bab02"/>
<polygon points="208.42,205.91 208.5,205.4 222.38,123.04 221.43,207.14 221.37,207.65 221.19,208.15 220.9,208.62 220.51,209.05 220.02,209.44 219.44,209.79 218.79,210.07 218.06,210.3 217.29,210.46 216.47,210.55 215.62,210.57 214.77,210.52 213.91,210.41 213.07,210.23 212.27,209.98 211.51,209.67 210.82,209.31 210.19,208.91 209.65,208.46 209.19,207.98 208.84,207.48 208.59,206.96 208.45,206.44" fill="#96cc06"/>
<polygon points="222.38,123.04 220.02,209.44 219.44,209.79" fill="#82b403"/>
<polygon points="222.38,123.04 219.44,209.79 218.79,210.07" fill="#86b904"/>
<polygon points="222.38,123.04 218.79,210.07 218.06,210.3" fill="#8bbf04"/>
<polygon points="222.38,123.04 218.06,210.3 217.29,210.46" fill="#90c505"/>
<polygon points="222.38,123.04 217.29,210.46 216.47,210.55" fill="#95cb06"/>
<polygon points="222.38,123.04 216.47,210.55 215.62,210.57" fill="#99cf07"/>
<polygon points="222.38,123.04 215.62,210.57 214.77,210.52" fill="#9cd109"/>
<polygon points="222.38,123.04 214.77,210.52 213.91,210.41" fill="#9fd40b"/>
<polygon points="222.38,123.04 213.91,210.41 213.07,210.23" fill="#a3d70c"/>
<polygon points="222.38,123.04 213.07,210.23 212.27,209.98" fill="#a6da0e"/>
<polygon points="222.38,123.04 212.27,209.98 211.51,209.67" fill="#a1d60d"/>
<polygon points="222.38,123.04 211.51,209.67 210.82,209.31" fill="#9cd10b"/>
<polygon points="222.38,123.04 210.82,209.31 210.19,208.91" fill="#98cd0a"/>
<polygon points="222.38,123.04 210.19,208.91 209.65,208.46" fill="#94c909"/>
<polygon points="222.38,123.04 209.65,208.46 209.19,207.98" fill="#91c608"/>
<polygon points="222.38,123.04 209.19,207.98 208.84,207.48" fill="#8ec407"/>
<polygon points="222.38,123.04 208.84,207.48 208.59,206.96" fill="#8cc207"/>
<polygon points="222.38,123.04 208.59,206.96 208.45,206.44" fill="#8bc106"/>
<polygon points="222.38,123.04 208.45,206.44 208.42,205.91" fill="#8ac006"/>
<polygon points="222.38,123.04 208.42,205.91 208.5,205.4" fill="#8ac006"/>
<polygon points="222.38,123.04 221.43,207.14 221.37,207.65" fill="#77a601"/>
<polygon points="222.38,123.04 221.37,207.65 221.19,208.15" fill="#78a701"/>
<polygon points="222.38,123.04 221.19,208.15 220.9,208.62" fill="#79a901"/>
<polygon points="222.38,123.04 220.9,208.62 220.51,209.05" fill="#7bac02"/>
<polygon points="222.38,123.04 220.51,209.05 220.02,209.44" fill="#7eaf02"/>
<path d="M96.08,32.99 C97.76,33.68 102.76,35.03 106.18,37.13 C109.6,39.23 113.07,43.11 116.58,45.6 C120.09,48.09 123.64,49.89 127.23,52.07 C130.83,54.24 134.47,56.65 138.16,58.66 C141.86,60.67 145.64,61.48 149.42,64.12 C153.2,66.76 156.98,71.21 160.84,74.51 C164.69,77.81 168.61,80.67 172.55,83.93 C176.5,87.18 180.45,91.2 184.52,94.04 C188.59,96.89 192.82,98.07 196.99,101 C201.16,103.93 205.3,108.3 209.56,111.63 C213.82,114.96 220.4,119.44 222.56,121" fill="none" stroke="#96cc14" stroke-width="1.45" stroke-linejoin="round" stroke-linecap="round"/>
<polygon points="67.16,153.05 69.02,62.52 78.48,152.33 78.49,152.74 78.39,153.15 78.2,153.56 77.92,153.95 77.54,154.32 77.09,154.67 76.56,154.98 75.97,155.25 75.32,155.47 74.63,155.65 73.91,155.78 73.17,155.85 72.42,155.87 71.68,155.84 70.96,155.75 70.27,155.61 69.63,155.42 69.04,155.18 68.52,154.9 68.07,154.58 67.71,154.23 67.43,153.85 67.25,153.45" fill="#083a90"/>
<polygon points="69.02,62.52 76.56,154.98 75.97,155.25" fill="#052e79"/>
<polygon points="69.02,62.52 75.97,155.25 75.32,155.47" fill="#06317f"/>
<polygon points="69.02,62.52 75.32,155.47 74.63,155.65" fill="#073586"/>
<polygon points="69.02,62.52 74.63,155.65 73.91,155.78" fill="#08388d"/>
<polygon points="69.02,62.52 73.91,155.78 73.17,155.85" fill="#093c92"/>
<polygon points="69.02,62.52 73.17,155.85 72.42,155.87" fill="#0b3f95"/>
<polygon points="69.02,62.52 72.42,155.87 71.68,155.84" fill="#0c4299"/>
<polygon points="69.02,62.52 71.68,155.84 70.96,155.75" fill="#0e459c"/>
<polygon points="69.02,62.52 70.96,155.75 70.27,155.61" fill="#1048a0"/>
<polygon points="69.02,62.52 70.27,155.61 69.63,155.42" fill="#0f449a"/>
<polygon points="69.02,62.52 69.63,155.42 69.04,155.18" fill="#0d3f95"/>
<polygon points="69.02,62.52 69.04,155.18 68.52,154.9" fill="#0c3b8f"/>
<polygon points="69.02,62.52 68.52,154.9 68.07,154.58" fill="#0b388b"/>
<polygon points="69.02,62.52 68.07,154.58 67.71,154.23" fill="#0a3587"/>
<polygon points="69.02,62.52 67.71,154.23 67.43,153.85" fill="#093384"/>
<polygon points="69.02,62.52 67.43,153.85 67.25,153.45" fill="#083182"/>
<polygon points="69.02,62.52 67.25,153.45 67.16,153.05" fill="#083080"/>
<polygon points="69.02,62.52 78.48,152.33 78.49,152.74" fill="#022262"/>
<polygon points="69.02,62.52 78.49,152.74 78.39,153.15" fill="#022262"/>
<polygon points="69.02,62.52 78.39,153.15 78.2,153.56" fill="#022364"/>
<polygon points="69.02,62.52 78.2,153.56 77.92,153.95" fill="#032466"/>
<polygon points="69.02,62.52 77.92,153.95 77.54,154.32" fill="#03266a"/>
<polygon points="69.02,62.52 77.54,154.32 77.09,154.67" fill="#04286e"/>
<polygon points="69.02,62.52 77.09,154.67 76.56,154.98" fill="#042b73"/>
<polygon points="76.27,158.67 76.27,158.25 78.97,69.41 87.74,157.94 87.75,158.36 87.66,158.79 87.47,159.2 87.19,159.61 86.83,159.99 86.37,160.34 85.85,160.66 85.25,160.93 84.6,161.17 83.9,161.35 83.17,161.48 82.42,161.56 81.66,161.58 80.91,161.54 80.18,161.45 79.48,161.3 78.82,161.11 78.22,160.86 77.69,160.57 77.23,160.24 76.85,159.88 76.56,159.5 76.37,159.09" fill="#083a90"/>
<polygon points="78.97,69.41 85.85,160.66 85.25,160.93" fill="#052d78"/>
<polygon points="78.97,69.41 85.25,160.93 84.6,161.17" fill="#06317e"/>
<polygon points="78.97,69.41 84.6,161.17 83.9,161.35" fill="#073485"/>
<polygon points="78.97,69.41 83.9,161.35 83.17,161.48" fill="#08388c"/>
<polygon points="78.97,69.41 83.17,161.48 82.42,161.56" fill="#093b92"/>
<polygon points="78.97,69.41 82.42,161.56 81.66,161.58" fill="#0b3f95"/>
<polygon points="78.97,69.41 81.66,161.58 80.91,161.54" fill="#0c4299"/>
<polygon points="78.97,69.41 80.91,161.54 80.18,161.45" fill="#0e459c"/>
<polygon points="78.97,69.41 80.18,161.45 79.48,161.3" fill="#10489f"/>
<polygon points="78.97,69.41 79.48,161.3 78.82,161.11" fill="#0f449b"/>
<polygon points="78.97,69.41 78.82,161.11 78.22,160.86" fill="#0d4095"/>
<polygon points="78.97,69.41 78.22,160.86 77.69,160.57" fill="#0c3c90"/>
<polygon points="78.97,69.41 77.69,160.57 77.23,160.24" fill="#0b388b"/>
<polygon points="78.97,69.41 77.23,160.24 76.85,159.88" fill="#0a3587"/>
<polygon points="78.97,69.41 76.85,159.88 76.56,159.5" fill="#093384"/>
<polygon points="78.97,69.41 76.56,159.5 76.37,159.09" fill="#083182"/>
<polygon points="78.97,69.41 76.37,159.09 76.27,158.67" fill="#083080"/>
<polygon points="78.97,69.41 76.27,158.67 76.27,158.25" fill="#083080"/>
<polygon points="78.97,69.41 87.74,157.94 87.75,158.36" fill="#022262"/>
<polygon points="78.97,69.41 87.75,158.36 87.66,158.79" fill="#022262"/>
<polygon points="78.97,69.41 87.66,158.79 87.47,159.2" fill="#022364"/>
<polygon points="78.97,69.41 87.47,159.2 87.19,159.61" fill="#032466"/>
<polygon points="78.97,69.41 87.19,159.61 86.83,159.99" fill="#032669"/>
<polygon points="78.97,69.41 86.83,159.99 86.37,160.34" fill="#03286d"/>
<polygon points="78.97,69.41 86.37,160.34 85.85,160.66" fill="#042b72"/>
<polygon points="85.61,164.01 89.21,77.71 97.24,163.7 97.26,164.14 97.18,164.57 97,165 96.72,165.41 96.36,165.8 95.91,166.16 95.38,166.49 94.78,166.77 94.12,167.01 93.42,167.2 92.68,167.33 91.93,167.41 91.16,167.43 90.4,167.4 89.65,167.3 88.94,167.15 88.27,166.95 87.65,166.7 87.1,166.4 86.63,166.06 86.24,165.69 85.94,165.3 85.73,164.88 85.62,164.45" fill="#083a90"/>
<polygon points="89.21,77.71 95.38,166.49 94.78,166.77" fill="#052d78"/>
<polygon points="89.21,77.71 94.78,166.77 94.12,167.01" fill="#06307e"/>
<polygon points="89.21,77.71 94.12,167.01 93.42,167.2" fill="#063484"/>
<polygon points="89.21,77.71 93.42,167.2 92.68,167.33" fill="#07388c"/>
<polygon points="89.21,77.71 92.68,167.33 91.93,167.41" fill="#093b91"/>
<polygon points="89.21,77.71 91.93,167.41 91.16,167.43" fill="#0a3e95"/>
<polygon points="89.21,77.71 91.16,167.43 90.4,167.4" fill="#0c4198"/>
<polygon points="89.21,77.71 90.4,167.4 89.65,167.3" fill="#0e449c"/>
<polygon points="89.21,77.71 89.65,167.3 88.94,167.15" fill="#10479f"/>
<polygon points="89.21,77.71 88.94,167.15 88.27,166.95" fill="#0f459b"/>
<polygon points="89.21,77.71 88.27,166.95 87.65,166.7" fill="#0d4095"/>
<polygon points="89.21,77.71 87.65,166.7 87.1,166.4" fill="#0c3c90"/>
<polygon points="89.21,77.71 87.1,166.4 86.63,166.06" fill="#0b398b"/>
<polygon points="89.21,77.71 86.63,166.06 86.24,165.69" fill="#0a3688"/>
<polygon points="89.21,77.71 86.24,165.69 85.94,165.3" fill="#093384"/>
<polygon points="89.21,77.71 85.94,165.3 85.73,164.88" fill="#093282"/>
<polygon points="89.21,77.71 85.73,164.88 85.62,164.45" fill="#083081"/>
<polygon points="89.21,77.71 85.62,164.45 85.61,164.01" fill="#083080"/>
<polygon points="89.21,77.71 97.24,163.7 97.26,164.14" fill="#022262"/>
<polygon points="89.21,77.71 97.26,164.14 97.18,164.57" fill="#022262"/>
<polygon points="89.21,77.71 97.18,164.57 97,165" fill="#022364"/>
<polygon points="89.21,77.71 97,165 96.72,165.41" fill="#032466"/>
<polygon points="89.21,77.71 96.72,165.41 96.36,165.8" fill="#032669"/>
<polygon points="89.21,77.71 96.36,165.8 95.91,166.16" fill="#03286d"/>
<polygon points="89.21,77.71 95.91,166.16 95.38,166.49" fill="#042a72"/>
<polygon points="95.22,169.94 99.68,85.66 107,169.62 107.03,170.07 106.95,170.51 106.78,170.95 106.51,171.38 106.15,171.78 105.7,172.15 105.17,172.48 104.57,172.77 103.91,173.02 103.2,173.21 102.46,173.35 101.69,173.43 100.91,173.45 100.14,173.41 99.38,173.31 98.65,173.16 97.97,172.95 97.34,172.69 96.78,172.39 96.29,172.04 95.89,171.66 95.57,171.25 95.35,170.83 95.23,170.38" fill="#083a90"/>
<polygon points="99.68,85.66 105.17,172.48 104.57,172.77" fill="#052d77"/>
<polygon points="99.68,85.66 104.57,172.77 103.91,173.02" fill="#06307d"/>
<polygon points="99.68,85.66 103.91,173.02 103.2,173.21" fill="#063484"/>
<polygon points="99.68,85.66 103.2,173.21 102.46,173.35" fill="#07378b"/>
<polygon points="99.68,85.66 102.46,173.35 101.69,173.43" fill="#093b91"/>
<polygon points="99.68,85.66 101.69,173.43 100.91,173.45" fill="#0a3e95"/>
<polygon points="99.68,85.66 100.91,173.45 100.14,173.41" fill="#0c4198"/>
<polygon points="99.68,85.66 100.14,173.41 99.38,173.31" fill="#0e449b"/>
<polygon points="99.68,85.66 99.38,173.31 98.65,173.16" fill="#0f479f"/>
<polygon points="99.68,85.66 98.65,173.16 97.97,172.95" fill="#0f459c"/>
<polygon points="99.68,85.66 97.97,172.95 97.34,172.69" fill="#0e4196"/>
<polygon points="99.68,85.66 97.34,172.69 96.78,172.39" fill="#0c3c91"/>
<polygon points="99.68,85.66 96.78,172.39 96.29,172.04" fill="#0b398c"/>
<polygon points="99.68,85.66 96.29,172.04 95.89,171.66" fill="#0a3688"/>
<polygon points="99.68,85.66 95.89,171.66 95.57,171.25" fill="#093385"/>
<polygon points="99.68,85.66 95.57,171.25 95.35,170.83" fill="#093282"/>
<polygon points="99.68,85.66 95.35,170.83 95.23,170.38" fill="#083181"/>
<polygon points="99.68,85.66 95.23,170.38 95.22,169.94" fill="#083080"/>
<polygon points="99.68,85.66 107,169.62 107.03,170.07" fill="#022262"/>
<polygon points="99.68,85.66 107.03,170.07 106.95,170.51" fill="#022262"/>
<polygon points="99.68,85.66 106.95,170.51 106.78,170.95" fill="#022364"/>
<polygon points="99.68,85.66 106.78,170.95 106.51,171.38" fill="#022466"/>
<polygon points="99.68,85.66 106.51,171.38 106.15,171.78" fill="#032669"/>
<polygon points="99.68,85.66 106.15,171.78 105.7,172.15" fill="#03286d"/>
<polygon points="99.68,85.66 105.7,172.15 105.17,172.48" fill="#042a71"/>
<polygon points="105.08,176.02 110.41,93.77 117.07,176.16 117,176.62 116.84,177.07 116.57,177.51 116.22,177.92 115.77,178.3 115.24,178.64 114.64,178.94 113.97,179.19 113.26,179.39 112.51,179.53 111.73,179.61 110.94,179.64 110.15,179.6 109.38,179.5 108.64,179.34 107.94,179.12 107.3,178.86 106.72,178.54 106.22,178.19 105.8,177.8 105.47,177.38 105.24,176.94 105.11,176.48" fill="#083a90"/>
<polygon points="110.41,93.77 115.24,178.64 114.64,178.94" fill="#052d76"/>
<polygon points="110.41,93.77 114.64,178.94 113.97,179.19" fill="#05307d"/>
<polygon points="110.41,93.77 113.97,179.19 113.26,179.39" fill="#063383"/>
<polygon points="110.41,93.77 113.26,179.39 112.51,179.53" fill="#07378a"/>
<polygon points="110.41,93.77 112.51,179.53 111.73,179.61" fill="#083b91"/>
<polygon points="110.41,93.77 111.73,179.61 110.94,179.64" fill="#0a3e94"/>
<polygon points="110.41,93.77 110.94,179.64 110.15,179.6" fill="#0c4198"/>
<polygon points="110.41,93.77 110.15,179.6 109.38,179.5" fill="#0e449b"/>
<polygon points="110.41,93.77 109.38,179.5 108.64,179.34" fill="#0f479f"/>
<polygon points="110.41,93.77 108.64,179.34 107.94,179.12" fill="#0f459d"/>
<polygon points="110.41,93.77 107.94,179.12 107.3,178.86" fill="#0e4197"/>
<polygon points="110.41,93.77 107.3,178.86 106.72,178.54" fill="#0c3d91"/>
<polygon points="110.41,93.77 106.72,178.54 106.22,178.19" fill="#0b398c"/>
<polygon points="110.41,93.77 106.22,178.19 105.8,177.8" fill="#0a3688"/>
<polygon points="110.41,93.77 105.8,177.8 105.47,177.38" fill="#093485"/>
<polygon points="110.41,93.77 105.47,177.38 105.24,176.94" fill="#093282"/>
<polygon points="110.41,93.77 105.24,176.94 105.11,176.48" fill="#083181"/>
<polygon points="110.41,93.77 105.11,176.48 105.08,176.02" fill="#083080"/>
<polygon points="110.41,93.77 117.07,176.16 117,176.62" fill="#022262"/>
<polygon points="110.41,93.77 117,176.62 116.84,177.07" fill="#022363"/>
<polygon points="110.41,93.77 116.84,177.07 116.57,177.51" fill="#022465"/>
<polygon points="110.41,93.77 116.57,177.51 116.22,177.92" fill="#032568"/>
<polygon points="110.41,93.77 116.22,177.92 115.77,178.3" fill="#03276c"/>
<polygon points="110.41,93.77 115.77,178.3 115.24,178.64" fill="#042a71"/>
<polygon points="115.23,182.28 121.41,101.31 127.39,182.43 127.33,182.9 127.18,183.36 126.92,183.81 126.56,184.23 126.12,184.62 125.59,184.98 124.98,185.28 124.32,185.54 123.6,185.75 122.84,185.89 122.05,185.97 121.25,186 120.45,185.96 119.66,185.85 118.91,185.69 118.2,185.47 117.54,185.19 116.94,184.87 116.43,184.51 115.99,184.1 115.65,183.67 115.41,183.22 115.27,182.75" fill="#083a90"/>
<polygon points="121.41,101.31 125.59,184.98 124.98,185.28" fill="#052c76"/>
<polygon points="121.41,101.31 124.98,185.28 124.32,185.54" fill="#05307c"/>
<polygon points="121.41,101.31 124.32,185.54 123.6,185.75" fill="#063382"/>
<polygon points="121.41,101.31 123.6,185.75 122.84,185.89" fill="#073789"/>
<polygon points="121.41,101.31 122.84,185.89 122.05,185.97" fill="#083a90"/>
<polygon points="121.41,101.31 122.05,185.97 121.25,186" fill="#0a3d94"/>
<polygon points="121.41,101.31 121.25,186 120.45,185.96" fill="#0c4097"/>
<polygon points="121.41,101.31 120.45,185.96 119.66,185.85" fill="#0d439b"/>
<polygon points="121.41,101.31 119.66,185.85 118.91,185.69" fill="#0f469e"/>
<polygon points="121.41,101.31 118.91,185.69 118.2,185.47" fill="#0f469d"/>
<polygon points="121.41,101.31 118.2,185.47 117.54,185.19" fill="#0e4197"/>
<polygon points="121.41,101.31 117.54,185.19 116.94,184.87" fill="#0c3d92"/>
<polygon points="121.41,101.31 116.94,184.87 116.43,184.51" fill="#0b3a8d"/>
<polygon points="121.41,101.31 116.43,184.51 115.99,184.1" fill="#0a3689"/>
<polygon points="121.41,101.31 115.99,184.1 115.65,183.67" fill="#093485"/>
<polygon points="121.41,101.31 115.65,183.67 115.41,183.22" fill="#093283"/>
<polygon points="121.41,101.31 115.41,183.22 115.27,182.75" fill="#083181"/>
<polygon points="121.41,101.31 115.27,182.75 115.23,182.28" fill="#083080"/>
<polygon points="121.41,101.31 127.39,182.43 127.33,182.9" fill="#022262"/>
<polygon points="121.41,101.31 127.33,182.9 127.18,183.36" fill="#022363"/>
<polygon points="121.41,101.31 127.18,183.36 126.92,183.81" fill="#022465"/>
<polygon points="121.41,101.31 126.92,183.81 126.56,184.23" fill="#032568"/>
<polygon points="121.41,101.31 126.56,184.23 126.12,184.62" fill="#03276c"/>
<polygon points="121.41,101.31 126.12,184.62 125.59,184.98" fill="#042a71"/>
<polygon points="125.66,188.72 132.71,108.38 138,188.87 137.96,189.36 137.81,189.83 137.56,190.29 137.21,190.73 136.76,191.13 136.23,191.49 135.63,191.81 134.96,192.07 134.23,192.28 133.46,192.43 132.66,192.52 131.85,192.54 131.04,192.5 130.24,192.39 129.47,192.22 128.74,191.99 128.07,191.71 127.46,191.38 126.92,191 126.48,190.59 126.12,190.15 125.86,189.68 125.71,189.2" fill="#083a90"/>
<polygon points="132.71,108.38 136.23,191.49 135.63,191.81" fill="#052c75"/>
<polygon points="132.71,108.38 135.63,191.81 134.96,192.07" fill="#052f7b"/>
<polygon points="132.71,108.38 134.96,192.07 134.23,192.28" fill="#063382"/>
<polygon points="132.71,108.38 134.23,192.28 133.46,192.43" fill="#073689"/>
<polygon points="132.71,108.38 133.46,192.43 132.66,192.52" fill="#083a90"/>
<polygon points="132.71,108.38 132.66,192.52 131.85,192.54" fill="#0a3d93"/>
<polygon points="132.71,108.38 131.85,192.54 131.04,192.5" fill="#0b4097"/>
<polygon points="132.71,108.38 131.04,192.5 130.24,192.39" fill="#0d439a"/>
<polygon points="132.71,108.38 130.24,192.39 129.47,192.22" fill="#0f469e"/>
<polygon points="132.71,108.38 129.47,192.22 128.74,191.99" fill="#0f469e"/>
<polygon points="132.71,108.38 128.74,191.99 128.07,191.71" fill="#0e4298"/>
<polygon points="132.71,108.38 128.07,191.71 127.46,191.38" fill="#0d3e92"/>
<polygon points="132.71,108.38 127.46,191.38 126.92,191" fill="#0b3a8d"/>
<polygon points="132.71,108.38 126.92,191 126.48,190.59" fill="#0a3789"/>
<polygon points="132.71,108.38 126.48,190.59 126.12,190.15" fill="#093486"/>
<polygon points="132.71,108.38 126.12,190.15 125.86,189.68" fill="#093283"/>
<polygon points="132.71,108.38 125.86,189.68 125.71,189.2" fill="#083181"/>
<polygon points="132.71,108.38 125.71,189.2 125.66,188.72" fill="#083080"/>
<polygon points="132.71,108.38 138,188.87 137.96,189.36" fill="#022262"/>
<polygon points="132.71,108.38 137.96,189.36 137.81,189.83" fill="#022363"/>
<polygon points="132.71,108.38 137.81,189.83 137.56,190.29" fill="#022465"/>
<polygon points="132.71,108.38 137.56,190.29 137.21,190.73" fill="#032568"/>
<polygon points="132.71,108.38 137.21,190.73 136.76,191.13" fill="#03276b"/>
<polygon points="132.71,108.38 136.76,191.13 136.23,191.49" fill="#042970"/>
<polygon points="136.39,195.34 136.44,194.84 144.26,119.58 148.92,195.5 148.89,196 148.75,196.49 148.51,196.96 148.16,197.41 147.72,197.82 147.19,198.2 146.58,198.52 145.91,198.79 145.17,199.01 144.4,199.16 143.59,199.25 142.77,199.27 141.94,199.23 141.13,199.12 140.34,198.94 139.6,198.71 138.91,198.42 138.28,198.08 137.73,197.69 137.26,197.27 136.89,196.81 136.62,196.33 136.45,195.84" fill="#083a90"/>
<polygon points="144.26,119.58 147.19,198.2 146.58,198.52" fill="#042c75"/>
<polygon points="144.26,119.58 146.58,198.52 145.91,198.79" fill="#052f7b"/>
<polygon points="144.26,119.58 145.91,198.79 145.17,199.01" fill="#063281"/>
<polygon points="144.26,119.58 145.17,199.01 144.4,199.16" fill="#073688"/>
<polygon points="144.26,119.58 144.4,199.16 143.59,199.25" fill="#083a8f"/>
<polygon points="144.26,119.58 143.59,199.25 142.77,199.27" fill="#0a3d93"/>
<polygon points="144.26,119.58 142.77,199.27 141.94,199.23" fill="#0b4097"/>
<polygon points="144.26,119.58 141.94,199.23 141.13,199.12" fill="#0d439a"/>
<polygon points="144.26,119.58 141.13,199.12 140.34,198.94" fill="#0f469e"/>
<polygon points="144.26,119.58 140.34,198.94 139.6,198.71" fill="#10479e"/>
<polygon points="144.26,119.58 139.6,198.71 138.91,198.42" fill="#0e4298"/>
<polygon points="144.26,119.58 138.91,198.42 138.28,198.08" fill="#0d3e93"/>
<polygon points="144.26,119.58 138.28,198.08 137.73,197.69" fill="#0b3a8e"/>
<polygon points="144.26,119.58 137.73,197.69 137.26,197.27" fill="#0a3789"/>
<polygon points="144.26,119.58 137.26,197.27 136.89,196.81" fill="#093486"/>
<polygon points="144.26,119.58 136.89,196.81 136.62,196.33" fill="#093283"/>
<polygon points="144.26,119.58 136.62,196.33 136.45,195.84" fill="#083181"/>
<polygon points="144.26,119.58 136.45,195.84 136.39,195.34" fill="#083080"/>
<polygon points="144.26,119.58 136.39,195.34 136.44,194.84" fill="#083080"/>
<polygon points="144.26,119.58 148.92,195.5 148.89,196" fill="#022262"/>
<polygon points="144.26,119.58 148.89,196 148.75,196.49" fill="#022263"/>
<polygon points="144.26,119.58 148.75,196.49 148.51,196.96" fill="#022365"/>
<polygon points="144.26,119.58 148.51,196.96 148.16,197.41" fill="#032567"/>
<polygon points="144.26,119.58 148.16,197.41 147.72,197.82" fill="#03276b"/>
<polygon points="144.26,119.58 147.72,197.82 147.19,198.2" fill="#04296f"/>
<polygon points="147.44,202.15 147.47,201.64 156.19,126.77 160.16,202.33 160.14,202.84 160.01,203.34 159.78,203.83 159.44,204.29 159,204.72 158.47,205.1 157.86,205.43 157.18,205.71 156.44,205.93 155.65,206.09 154.84,206.18 154,206.2 153.16,206.16 152.34,206.04 151.53,205.87 150.77,205.62 150.06,205.33 149.42,204.97 148.85,204.58 148.37,204.14 147.98,203.67 147.69,203.18 147.51,202.67" fill="#083a90"/>
<polygon points="156.19,126.77 158.47,205.1 157.86,205.43" fill="#042b74"/>
<polygon points="156.19,126.77 157.86,205.43 157.18,205.71" fill="#052e7a"/>
<polygon points="156.19,126.77 157.18,205.71 156.44,205.93" fill="#063280"/>
<polygon points="156.19,126.77 156.44,205.93 155.65,206.09" fill="#073587"/>
<polygon points="156.19,126.77 155.65,206.09 154.84,206.18" fill="#08398e"/>
<polygon points="156.19,126.77 154.84,206.18 154,206.2" fill="#093c93"/>
<polygon points="156.19,126.77 154,206.2 153.16,206.16" fill="#0b3f96"/>
<polygon points="156.19,126.77 153.16,206.16 152.34,206.04" fill="#0d439a"/>
<polygon points="156.19,126.77 152.34,206.04 151.53,205.87" fill="#0f469d"/>
<polygon points="156.19,126.77 151.53,205.87 150.77,205.62" fill="#10479f"/>
<polygon points="156.19,126.77 150.77,205.62 150.06,205.33" fill="#0e4399"/>
<polygon points="156.19,126.77 150.06,205.33 149.42,204.97" fill="#0d3e93"/>
<polygon points="156.19,126.77 149.42,204.97 148.85,204.58" fill="#0c3b8e"/>
<polygon points="156.19,126.77 148.85,204.58 148.37,204.14" fill="#0a378a"/>
<polygon points="156.19,126.77 148.37,204.14 147.98,203.67" fill="#0a3586"/>
<polygon points="156.19,126.77 147.98,203.67 147.69,203.18" fill="#093383"/>
<polygon points="156.19,126.77 147.69,203.18 147.51,202.67" fill="#083181"/>
<polygon points="156.19,126.77 147.51,202.67 147.44,202.15" fill="#083080"/>
<polygon points="156.19,126.77 147.44,202.15 147.47,201.64" fill="#083080"/>
<polygon points="156.19,126.77 160.16,202.33 160.14,202.84" fill="#022262"/>
<polygon points="156.19,126.77 160.14,202.84 160.01,203.34" fill="#022263"/>
<polygon points="156.19,126.77 160.01,203.34 159.78,203.83" fill="#022364"/>
<polygon points="156.19,126.77 159.78,203.83 159.44,204.29" fill="#032567"/>
<polygon points="156.19,126.77 159.44,204.29 159,204.72" fill="#03266b"/>
<polygon points="156.19,126.77 159,204.72 158.47,205.1" fill="#04296f"/>
<polygon points="158.81,209.17 158.84,208.64 168.37,136.99 171.74,209.35 171.73,209.88 171.61,210.4 171.38,210.9 171.05,211.37 170.61,211.81 170.08,212.21 169.47,212.55 168.79,212.84 168.04,213.07 167.25,213.23 166.42,213.32 165.57,213.34 164.72,213.3 163.88,213.18 163.06,212.99 162.28,212.75 161.55,212.44 160.89,212.07 160.3,211.66 159.8,211.21 159.4,210.73 159.1,210.22 158.9,209.7" fill="#083a90"/>
<polygon points="168.37,136.99 170.08,212.21 169.47,212.55" fill="#042b73"/>
<polygon points="168.37,136.99 169.47,212.55 168.79,212.84" fill="#052e79"/>
<polygon points="168.37,136.99 168.79,212.84 168.04,213.07" fill="#063180"/>
<polygon points="168.37,136.99 168.04,213.07 167.25,213.23" fill="#073586"/>
<polygon points="168.37,136.99 167.25,213.23 166.42,213.32" fill="#08398e"/>
<polygon points="168.37,136.99 166.42,213.32 165.57,213.34" fill="#093c92"/>
<polygon points="168.37,136.99 165.57,213.34 164.72,213.3" fill="#0b3f96"/>
<polygon points="168.37,136.99 164.72,213.3 163.88,213.18" fill="#0d4299"/>
<polygon points="168.37,136.99 163.88,213.18 163.06,212.99" fill="#0e459d"/>
<polygon points="168.37,136.99 163.06,212.99 162.28,212.75" fill="#1048a0"/>
<polygon points="168.37,136.99 162.28,212.75 161.55,212.44" fill="#0e439a"/>
<polygon points="168.37,136.99 161.55,212.44 160.89,212.07" fill="#0d3f94"/>
<polygon points="168.37,136.99 160.89,212.07 160.3,211.66" fill="#0c3b8f"/>
<polygon points="168.37,136.99 160.3,211.66 159.8,211.21" fill="#0b388a"/>
<polygon points="168.37,136.99 159.8,211.21 159.4,210.73" fill="#0a3587"/>
<polygon points="168.37,136.99 159.4,210.73 159.1,210.22" fill="#093384"/>
<polygon points="168.37,136.99 159.1,210.22 158.9,209.7" fill="#083182"/>
<polygon points="168.37,136.99 158.9,209.7 158.81,209.17" fill="#083080"/>
<polygon points="168.37,136.99 158.81,209.17 158.84,208.64" fill="#083080"/>
<polygon points="168.37,136.99 171.74,209.35 171.73,209.88" fill="#022262"/>
<polygon points="168.37,136.99 171.73,209.88 171.61,210.4" fill="#022263"/>
<polygon points="168.37,136.99 171.61,210.4 171.38,210.9" fill="#022364"/>
<polygon points="168.37,136.99 171.38,210.9 171.05,211.37" fill="#032467"/>
<polygon points="168.37,136.99 171.05,211.37 170.61,211.81" fill="#03266a"/>
<polygon points="168.37,136.99 170.61,211.81 170.08,212.21" fill="#04286e"/>
<polygon points="170.53,216.4 170.54,215.86 181.03,144.04 183.67,216.59 183.67,217.14 183.56,217.67 183.34,218.19 183.01,218.67 182.58,219.12 182.05,219.53 181.44,219.89 180.75,220.18 180,220.41 179.2,220.58 178.36,220.68 177.5,220.7 176.63,220.65 175.77,220.53 174.93,220.34 174.14,220.08 173.39,219.76 172.71,219.39 172.1,218.97 171.59,218.5 171.16,218.01 170.84,217.48 170.63,216.95" fill="#083a90"/>
<polygon points="181.03,144.04 182.05,219.53 181.44,219.89" fill="#042b73"/>
<polygon points="181.03,144.04 181.44,219.89 180.75,220.18" fill="#052e79"/>
<polygon points="181.03,144.04 180.75,220.18 180,220.41" fill="#06317f"/>
<polygon points="181.03,144.04 180,220.41 179.2,220.58" fill="#073586"/>
<polygon points="181.03,144.04 179.2,220.58 178.36,220.68" fill="#08388d"/>
<polygon points="181.03,144.04 178.36,220.68 177.5,220.7" fill="#093c92"/>
<polygon points="181.03,144.04 177.5,220.7 176.63,220.65" fill="#0b3f95"/>
<polygon points="181.03,144.04 176.63,220.65 175.77,220.53" fill="#0c4299"/>
<polygon points="181.03,144.04 175.77,220.53 174.93,220.34" fill="#0e459c"/>
<polygon points="181.03,144.04 174.93,220.34 174.14,220.08" fill="#1048a0"/>
<polygon points="181.03,144.04 174.14,220.08 173.39,219.76" fill="#0f449a"/>
<polygon points="181.03,144.04 173.39,219.76 172.71,219.39" fill="#0d3f94"/>
<polygon points="181.03,144.04 172.71,219.39 172.1,218.97" fill="#0c3b8f"/>
<polygon points="181.03,144.04 172.1,218.97 171.59,218.5" fill="#0b388b"/>
<polygon points="181.03,144.04 171.59,218.5 171.16,218.01" fill="#0a3587"/>
<polygon points="181.03,144.04 171.16,218.01 170.84,217.48" fill="#093384"/>
<polygon points="181.03,144.04 170.84,217.48 170.63,216.95" fill="#083182"/>
<polygon points="181.03,144.04 170.63,216.95 170.53,216.4" fill="#083080"/>
<polygon points="181.03,144.04 170.53,216.4 170.54,215.86" fill="#083080"/>
<polygon points="181.03,144.04 183.67,216.59 183.67,217.14" fill="#022262"/>
<polygon points="181.03,144.04 183.67,217.14 183.56,217.67" fill="#022262"/>
<polygon points="181.03,144.04 183.56,217.67 183.34,218.19" fill="#022364"/>
<polygon points="181.03,144.04 183.34,218.19 183.01,218.67" fill="#032466"/>
<polygon points="181.03,144.04 183.01,218.67 182.58,219.12" fill="#03266a"/>
<polygon points="181.03,144.04 182.58,219.12 182.05,219.53" fill="#04286e"/>
<polygon points="182.61,223.29 193.9,154.32 195.96,224.05 195.97,224.62 195.87,225.17 195.66,225.7 195.34,226.2 194.91,226.66 194.39,227.08 193.78,227.45 193.08,227.75 192.33,227.99 191.51,228.16 190.66,228.26 189.79,228.28 188.91,228.23 188.03,228.11 187.18,227.91 186.36,227.65 185.59,227.32 184.89,226.93 184.27,226.5 183.73,226.02 183.29,225.51 182.95,224.97 182.72,224.41 182.61,223.85" fill="#083a90"/>
<polygon points="193.9,154.32 194.39,227.08 193.78,227.45" fill="#042a72"/>
<polygon points="193.9,154.32 193.78,227.45 193.08,227.75" fill="#052d78"/>
<polygon points="193.9,154.32 193.08,227.75 192.33,227.99" fill="#06317e"/>
<polygon points="193.9,154.32 192.33,227.99 191.51,228.16" fill="#073485"/>
<polygon points="193.9,154.32 191.51,228.16 190.66,228.26" fill="#07388c"/>
<polygon points="193.9,154.32 190.66,228.26 189.79,228.28" fill="#093b92"/>
<polygon points="193.9,154.32 189.79,228.28 188.91,228.23" fill="#0b3e95"/>
<polygon points="193.9,154.32 188.91,228.23 188.03,228.11" fill="#0c4299"/>
<polygon points="193.9,154.32 188.03,228.11 187.18,227.91" fill="#0e459c"/>
<polygon points="193.9,154.32 187.18,227.91 186.36,227.65" fill="#10479f"/>
<polygon points="193.9,154.32 186.36,227.65 185.59,227.32" fill="#0f449b"/>
<polygon points="193.9,154.32 185.59,227.32 184.89,226.93" fill="#0d4095"/>
<polygon points="193.9,154.32 184.89,226.93 184.27,226.5" fill="#0c3c90"/>
<polygon points="193.9,154.32 184.27,226.5 183.73,226.02" fill="#0b388b"/>
<polygon points="193.9,154.32 183.73,226.02 183.29,225.51" fill="#0a3587"/>
<polygon points="193.9,154.32 183.29,225.51 182.95,224.97" fill="#093384"/>
<polygon points="193.9,154.32 182.95,224.97 182.72,224.41" fill="#083182"/>
<polygon points="193.9,154.32 182.72,224.41 182.61,223.85" fill="#083080"/>
<polygon points="193.9,154.32 182.61,223.85 182.61,223.29" fill="#083080"/>
<polygon points="193.9,154.32 195.96,224.05 195.97,224.62" fill="#022262"/>
<polygon points="193.9,154.32 195.97,224.62 195.87,225.17" fill="#022262"/>
<polygon points="193.9,154.32 195.87,225.17 195.66,225.7" fill="#022364"/>
<polygon points="193.9,154.32 195.66,225.7 195.34,226.2" fill="#032466"/>
<polygon points="193.9,154.32 195.34,226.2 194.91,226.66" fill="#032669"/>
<polygon points="193.9,154.32 194.91,226.66 194.39,227.08" fill="#03286d"/>
<path d="M68.94,60.61 C70.6,61.76 75.54,64.96 78.91,67.49 C82.28,70.02 85.7,73.08 89.16,75.78 C92.61,78.49 96.1,81.05 99.64,83.72 C103.18,86.4 106.76,89.22 110.39,91.83 C114.02,94.43 117.69,96.92 121.41,99.35 C125.13,101.78 128.92,103.36 132.74,106.4 C136.55,109.45 140.38,114.54 144.3,117.6 C148.22,120.66 152.23,121.88 156.26,124.78 C160.28,127.67 164.3,132.11 168.45,134.98 C172.6,137.86 176.88,139.13 181.14,142.02 C185.4,144.9 191.88,150.58 194.03,152.3" fill="none" stroke="#0a328a" stroke-width="1.45" stroke-linejoin="round" stroke-linecap="round"/>
<polygon points="39.44,68.28 51.86,166.07 51.83,166.51 51.71,166.95 51.49,167.38 51.17,167.8 50.76,168.19 50.28,168.55 49.72,168.88 49.09,169.17 48.41,169.41 47.69,169.6 46.94,169.73 46.17,169.81 45.4,169.83 44.64,169.79 43.91,169.7 43.21,169.55 42.56,169.34 41.97,169.09 41.45,168.79 41.01,168.45 40.66,168.08 40.39,167.68 40.23,167.26 40.17,166.82" fill="#fa3802"/>
<polygon points="39.44,68.28 49.72,168.88 49.09,169.17" fill="#e72e01"/>
<polygon points="39.44,68.28 49.09,169.17 48.41,169.41" fill="#ec3101"/>
<polygon points="39.44,68.28 48.41,169.41 47.69,169.6" fill="#f13302"/>
<polygon points="39.44,68.28 47.69,169.6 46.94,169.73" fill="#f73602"/>
<polygon points="39.44,68.28 46.94,169.73 46.17,169.81" fill="#fa3902"/>
<polygon points="39.44,68.28 46.17,169.81 45.4,169.83" fill="#fb3b03"/>
<polygon points="39.44,68.28 45.4,169.83 44.64,169.79" fill="#fd3d04"/>
<polygon points="39.44,68.28 44.64,169.79 43.91,169.7" fill="#fe3f05"/>
<polygon points="39.44,68.28 43.91,169.7 43.21,169.55" fill="#fe4106"/>
<polygon points="39.44,68.28 43.21,169.55 42.56,169.34" fill="#fe4106"/>
<polygon points="39.44,68.28 42.56,169.34 41.97,169.09" fill="#fc3f06"/>
<polygon points="39.44,68.28 41.97,169.09 41.45,168.79" fill="#fb3d05"/>
<polygon points="39.44,68.28 41.45,168.79 41.01,168.45" fill="#f93c05"/>
<polygon points="39.44,68.28 41.01,168.45 40.66,168.08" fill="#f83a05"/>
<polygon points="39.44,68.28 40.66,168.08 40.39,167.68" fill="#f73a05"/>
<polygon points="39.44,68.28 40.39,167.68 40.23,167.26" fill="#f73904"/>
<polygon points="39.44,68.28 40.23,167.26 40.17,166.82" fill="#f63804"/>
<polygon points="39.44,68.28 51.86,166.07 51.83,166.51" fill="#d42400"/>
<polygon points="39.44,68.28 51.83,166.51 51.71,166.95" fill="#d52400"/>
<polygon points="39.44,68.28 51.71,166.95 51.49,167.38" fill="#d62500"/>
<polygon points="39.44,68.28 51.49,167.38 51.17,167.8" fill="#d82600"/>
<polygon points="39.44,68.28 51.17,167.8 50.76,168.19" fill="#db2800"/>
<polygon points="39.44,68.28 50.76,168.19 50.28,168.55" fill="#de2901"/>
<polygon points="39.44,68.28 50.28,168.55 49.72,168.88" fill="#e22b01"/>
<polygon points="49.18,172.81 49.41,76.06 61.02,172.04 61.01,172.49 60.89,172.94 60.67,173.38 60.36,173.81 59.96,174.21 59.47,174.59 58.91,174.92 58.28,175.22 57.59,175.46 56.87,175.66 56.11,175.8 55.33,175.88 54.55,175.9 53.78,175.86 53.03,175.76 52.32,175.61 51.66,175.4 51.05,175.14 50.52,174.83 50.07,174.48 49.7,174.1 49.43,173.68 49.26,173.25" fill="#fa3802"/>
<polygon points="49.41,76.06 58.91,174.92 58.28,175.22" fill="#e72e01"/>
<polygon points="49.41,76.06 58.28,175.22 57.59,175.46" fill="#ed3101"/>
<polygon points="49.41,76.06 57.59,175.46 56.87,175.66" fill="#f23402"/>
<polygon points="49.41,76.06 56.87,175.66 56.11,175.8" fill="#f83702"/>
<polygon points="49.41,76.06 56.11,175.8 55.33,175.88" fill="#fb3a03"/>
<polygon points="49.41,76.06 55.33,175.88 54.55,175.9" fill="#fc3c04"/>
<polygon points="49.41,76.06 54.55,175.9 53.78,175.86" fill="#fd3e04"/>
<polygon points="49.41,76.06 53.78,175.86 53.03,175.76" fill="#fe4005"/>
<polygon points="49.41,76.06 53.03,175.76 52.32,175.61" fill="#ff4206"/>
<polygon points="49.41,76.06 52.32,175.61 51.66,175.4" fill="#fd3f06"/>
<polygon points="49.41,76.06 51.66,175.4 51.05,175.14" fill="#fb3d05"/>
<polygon points="49.41,76.06 51.05,175.14 50.52,174.83" fill="#f93b05"/>
<polygon points="49.41,76.06 50.52,174.83 50.07,174.48" fill="#f73a05"/>
<polygon points="49.41,76.06 50.07,174.48 49.7,174.1" fill="#f63804"/>
<polygon points="49.41,76.06 49.7,174.1 49.43,173.68" fill="#f53704"/>
<polygon points="49.41,76.06 49.43,173.68 49.26,173.25" fill="#f53704"/>
<polygon points="49.41,76.06 49.26,173.25 49.18,172.81" fill="#f43604"/>
<polygon points="49.41,76.06 61.02,172.04 61.01,172.49" fill="#d42400"/>
<polygon points="49.41,76.06 61.01,172.49 60.89,172.94" fill="#d52400"/>
<polygon points="49.41,76.06 60.89,172.94 60.67,173.38" fill="#d62500"/>
<polygon points="49.41,76.06 60.67,173.38 60.36,173.81" fill="#d82600"/>
<polygon points="49.41,76.06 60.36,173.81 59.96,174.21" fill="#db2800"/>
<polygon points="49.41,76.06 59.96,174.21 59.47,174.59" fill="#de2a01"/>
<polygon points="49.41,76.06 59.47,174.59 58.91,174.92" fill="#e32c01"/>
<polygon points="58.45,178.96 59.7,85.15 70.44,178.17 70.43,178.63 70.33,179.1 70.12,179.55 69.81,179.99 69.41,180.41 68.92,180.79 68.36,181.14 67.73,181.44 67.04,181.69 66.3,181.89 65.53,182.03 64.75,182.11 63.96,182.14 63.17,182.1 62.41,181.99 61.69,181.83 61.01,181.62 60.39,181.35 59.85,181.03 59.38,180.68 59,180.28 58.72,179.86 58.53,179.41" fill="#fa3802"/>
<polygon points="59.7,85.15 68.36,181.14 67.73,181.44" fill="#e72e01"/>
<polygon points="59.7,85.15 67.73,181.44 67.04,181.69" fill="#ec3101"/>
<polygon points="59.7,85.15 67.04,181.69 66.3,181.89" fill="#f23402"/>
<polygon points="59.7,85.15 66.3,181.89 65.53,182.03" fill="#f83702"/>
<polygon points="59.7,85.15 65.53,182.03 64.75,182.11" fill="#fb3903"/>
<polygon points="59.7,85.15 64.75,182.11 63.96,182.14" fill="#fc3c03"/>
<polygon points="59.7,85.15 63.96,182.14 63.17,182.1" fill="#fd3e04"/>
<polygon points="59.7,85.15 63.17,182.1 62.41,181.99" fill="#fe4005"/>
<polygon points="59.7,85.15 62.41,181.99 61.69,181.83" fill="#ff4206"/>
<polygon points="59.7,85.15 61.69,181.83 61.01,181.62" fill="#fd4006"/>
<polygon points="59.7,85.15 61.01,181.62 60.39,181.35" fill="#fb3e05"/>
<polygon points="59.7,85.15 60.39,181.35 59.85,181.03" fill="#f93c05"/>
<polygon points="59.7,85.15 59.85,181.03 59.38,180.68" fill="#f83a05"/>
<polygon points="59.7,85.15 59.38,180.68 59,180.28" fill="#f63804"/>
<polygon points="59.7,85.15 59,180.28 58.72,179.86" fill="#f53704"/>
<polygon points="59.7,85.15 58.72,179.86 58.53,179.41" fill="#f53704"/>
<polygon points="59.7,85.15 58.53,179.41 58.45,178.96" fill="#f43604"/>
<polygon points="59.7,85.15 70.44,178.17 70.43,178.63" fill="#d42400"/>
<polygon points="59.7,85.15 70.43,178.63 70.33,179.1" fill="#d42400"/>
<polygon points="59.7,85.15 70.33,179.1 70.12,179.55" fill="#d62500"/>
<polygon points="59.7,85.15 70.12,179.55 69.81,179.99" fill="#d82600"/>
<polygon points="59.7,85.15 69.81,179.99 69.41,180.41" fill="#db2700"/>
<polygon points="59.7,85.15 69.41,180.41 68.92,180.79" fill="#de2901"/>
<polygon points="59.7,85.15 68.92,180.79 68.36,181.14" fill="#e22c01"/>
<polygon points="67.97,185.28 67.98,184.8 70.13,92.19 80.12,184.48 80.13,184.95 80.03,185.43 79.82,185.9 79.52,186.35 79.12,186.77 78.64,187.17 78.07,187.52 77.44,187.83 76.74,188.09 76,188.3 75.23,188.44 74.43,188.53 73.63,188.55 72.83,188.51 72.06,188.4 71.32,188.24 70.63,188.02 70,187.74 69.44,187.41 68.96,187.05 68.56,186.64 68.27,186.21 68.07,185.75" fill="#fa3802"/>
<polygon points="70.13,92.19 78.07,187.52 77.44,187.83" fill="#e72e01"/>
<polygon points="70.13,92.19 77.44,187.83 76.74,188.09" fill="#ec3001"/>
<polygon points="70.13,92.19 76.74,188.09 76,188.3" fill="#f13302"/>
<polygon points="70.13,92.19 76,188.3 75.23,188.44" fill="#f73702"/>
<polygon points="70.13,92.19 75.23,188.44 74.43,188.53" fill="#fb3902"/>
<polygon points="70.13,92.19 74.43,188.53 73.63,188.55" fill="#fc3b03"/>
<polygon points="70.13,92.19 73.63,188.55 72.83,188.51" fill="#fd3e04"/>
<polygon points="70.13,92.19 72.83,188.51 72.06,188.4" fill="#fe4005"/>
<polygon points="70.13,92.19 72.06,188.4 71.32,188.24" fill="#ff4206"/>
<polygon points="70.13,92.19 71.32,188.24 70.63,188.02" fill="#fd4006"/>
<polygon points="70.13,92.19 70.63,188.02 70,187.74" fill="#fb3e05"/>
<polygon points="70.13,92.19 70,187.74 69.44,187.41" fill="#f93c05"/>
<polygon points="70.13,92.19 69.44,187.41 68.96,187.05" fill="#f83a05"/>
<polygon points="70.13,92.19 68.96,187.05 68.56,186.64" fill="#f63904"/>
<polygon points="70.13,92.19 68.56,186.64 68.27,186.21" fill="#f53704"/>
<polygon points="70.13,92.19 68.27,186.21 68.07,185.75" fill="#f53704"/>
<polygon points="70.13,92.19 68.07,185.75 67.97,185.28" fill="#f43604"/>
<polygon points="70.13,92.19 67.97,185.28 67.98,184.8" fill="#f43604"/>
<polygon points="70.13,92.19 80.12,184.48 80.13,184.95" fill="#d42400"/>
<polygon points="70.13,92.19 80.13,184.95 80.03,185.43" fill="#d42400"/>
<polygon points="70.13,92.19 80.03,185.43 79.82,185.9" fill="#d62500"/>
<polygon points="70.13,92.19 79.82,185.9 79.52,186.35" fill="#d82600"/>
<polygon points="70.13,92.19 79.52,186.35 79.12,186.77" fill="#da2700"/>
<polygon points="70.13,92.19 79.12,186.77 78.64,187.17" fill="#de2901"/>
<polygon points="70.13,92.19 78.64,187.17 78.07,187.52" fill="#e22b01"/>
<polygon points="77.77,191.29 80.89,100.23 90.09,190.96 90.1,191.45 90.01,191.94 89.81,192.42 89.51,192.88 89.12,193.32 88.63,193.73 88.07,194.09 87.43,194.41 86.73,194.68 85.98,194.89 85.2,195.04 84.39,195.13 83.58,195.15 82.77,195.1 81.98,195 81.23,194.83 80.52,194.6 79.88,194.31 79.3,193.98 78.81,193.6 78.4,193.18 78.09,192.74 77.88,192.27 77.77,191.78" fill="#fa3802"/>
<polygon points="80.89,100.23 88.07,194.09 87.43,194.41" fill="#e62e01"/>
<polygon points="80.89,100.23 87.43,194.41 86.73,194.68" fill="#eb3001"/>
<polygon points="80.89,100.23 86.73,194.68 85.98,194.89" fill="#f13302"/>
<polygon points="80.89,100.23 85.98,194.89 85.2,195.04" fill="#f73602"/>
<polygon points="80.89,100.23 85.2,195.04 84.39,195.13" fill="#fa3902"/>
<polygon points="80.89,100.23 84.39,195.13 83.58,195.15" fill="#fc3b03"/>
<polygon points="80.89,100.23 83.58,195.15 82.77,195.1" fill="#fd3d04"/>
<polygon points="80.89,100.23 82.77,195.1 81.98,195" fill="#fe4005"/>
<polygon points="80.89,100.23 81.98,195 81.23,194.83" fill="#ff4206"/>
<polygon points="80.89,100.23 81.23,194.83 80.52,194.6" fill="#fd4006"/>
<polygon points="80.89,100.23 80.52,194.6 79.88,194.31" fill="#fb3e05"/>
<polygon points="80.89,100.23 79.88,194.31 79.3,193.98" fill="#f93c05"/>
<polygon points="80.89,100.23 79.3,193.98 78.81,193.6" fill="#f83a05"/>
<polygon points="80.89,100.23 78.81,193.6 78.4,193.18" fill="#f63904"/>
<polygon points="80.89,100.23 78.4,193.18 78.09,192.74" fill="#f53804"/>
<polygon points="80.89,100.23 78.09,192.74 77.88,192.27" fill="#f53704"/>
<polygon points="80.89,100.23 77.88,192.27 77.77,191.78" fill="#f43604"/>
<polygon points="80.89,100.23 77.77,191.78 77.77,191.29" fill="#f43604"/>
<polygon points="80.89,100.23 90.09,190.96 90.1,191.45" fill="#d42400"/>
<polygon points="80.89,100.23 90.1,191.45 90.01,191.94" fill="#d42400"/>
<polygon points="80.89,100.23 90.01,191.94 89.81,192.42" fill="#d52500"/>
<polygon points="80.89,100.23 89.81,192.42 89.51,192.88" fill="#d72600"/>
<polygon points="80.89,100.23 89.51,192.88 89.12,193.32" fill="#da2700"/>
<polygon points="80.89,100.23 89.12,193.32 88.63,193.73" fill="#dd2900"/>
<polygon points="80.89,100.23 88.63,193.73 88.07,194.09" fill="#e12b01"/>
<polygon points="87.84,197.97 91.95,108.97 100.33,197.63 100.36,198.14 100.28,198.64 100.09,199.14 99.79,199.61 99.4,200.06 98.92,200.48 98.35,200.85 97.71,201.18 97.01,201.46 96.26,201.67 95.46,201.83 94.65,201.92 93.82,201.94 93,201.89 92.2,201.78 91.43,201.61 90.71,201.37 90.04,201.08 89.45,200.73 88.94,200.34 88.52,199.92 88.19,199.46 87.97,198.97 87.85,198.48" fill="#fa3802"/>
<polygon points="91.95,108.97 98.35,200.85 97.71,201.18" fill="#e62d01"/>
<polygon points="91.95,108.97 97.71,201.18 97.01,201.46" fill="#eb3001"/>
<polygon points="91.95,108.97 97.01,201.46 96.26,201.67" fill="#f03301"/>
<polygon points="91.95,108.97 96.26,201.67 95.46,201.83" fill="#f63602"/>
<polygon points="91.95,108.97 95.46,201.83 94.65,201.92" fill="#fa3902"/>
<polygon points="91.95,108.97 94.65,201.92 93.82,201.94" fill="#fb3b03"/>
<polygon points="91.95,108.97 93.82,201.94 93,201.89" fill="#fd3d04"/>
<polygon points="91.95,108.97 93,201.89 92.2,201.78" fill="#fe3f05"/>
<polygon points="91.95,108.97 92.2,201.78 91.43,201.61" fill="#ff4106"/>
<polygon points="91.95,108.97 91.43,201.61 90.71,201.37" fill="#fd4006"/>
<polygon points="91.95,108.97 90.71,201.37 90.04,201.08" fill="#fb3e05"/>
<polygon points="91.95,108.97 90.04,201.08 89.45,200.73" fill="#fa3c05"/>
<polygon points="91.95,108.97 89.45,200.73 88.94,200.34" fill="#f83a05"/>
<polygon points="91.95,108.97 88.94,200.34 88.52,199.92" fill="#f73904"/>
<polygon points="91.95,108.97 88.52,199.92 88.19,199.46" fill="#f63804"/>
<polygon points="91.95,108.97 88.19,199.46 87.97,198.97" fill="#f53704"/>
<polygon points="91.95,108.97 87.97,198.97 87.85,198.48" fill="#f43604"/>
<polygon points="91.95,108.97 87.85,198.48 87.84,197.97" fill="#f43604"/>
<polygon points="91.95,108.97 100.33,197.63 100.36,198.14" fill="#d42400"/>
<polygon points="91.95,108.97 100.36,198.14 100.28,198.64" fill="#d42400"/>
<polygon points="91.95,108.97 100.28,198.64 100.09,199.14" fill="#d52500"/>
<polygon points="91.95,108.97 100.09,199.14 99.79,199.61" fill="#d72600"/>
<polygon points="91.95,108.97 99.79,199.61 99.4,200.06" fill="#da2700"/>
<polygon points="91.95,108.97 99.4,200.06 98.92,200.48" fill="#dd2900"/>
<polygon points="91.95,108.97 98.92,200.48 98.35,200.85" fill="#e12b01"/>
<polygon points="98.21,204.85 103.31,118.6 110.88,204.5 110.92,205.02 110.85,205.54 110.67,206.05 110.38,206.54 109.99,207 109.51,207.43 108.94,207.82 108.3,208.15 107.59,208.44 106.83,208.66 106.03,208.82 105.2,208.91 104.37,208.93 103.53,208.88 102.71,208.77 101.93,208.59 101.19,208.35 100.51,208.04 99.9,207.69 99.38,207.29 98.94,206.85 98.6,206.37 98.36,205.88 98.23,205.36" fill="#fa3802"/>
<polygon points="103.31,118.6 108.94,207.82 108.3,208.15" fill="#e52d01"/>
<polygon points="103.31,118.6 108.3,208.15 107.59,208.44" fill="#ea3001"/>
<polygon points="103.31,118.6 107.59,208.44 106.83,208.66" fill="#f03301"/>
<polygon points="103.31,118.6 106.83,208.66 106.03,208.82" fill="#f63602"/>
<polygon points="103.31,118.6 106.03,208.82 105.2,208.91" fill="#fa3902"/>
<polygon points="103.31,118.6 105.2,208.91 104.37,208.93" fill="#fb3b03"/>
<polygon points="103.31,118.6 104.37,208.93 103.53,208.88" fill="#fc3d04"/>
<polygon points="103.31,118.6 103.53,208.88 102.71,208.77" fill="#fe3f05"/>
<polygon points="103.31,118.6 102.71,208.77 101.93,208.59" fill="#ff4106"/>
<polygon points="103.31,118.6 101.93,208.59 101.19,208.35" fill="#fe4106"/>
<polygon points="103.31,118.6 101.19,208.35 100.51,208.04" fill="#fc3e05"/>
<polygon points="103.31,118.6 100.51,208.04 99.9,207.69" fill="#fa3c05"/>
<polygon points="103.31,118.6 99.9,207.69 99.38,207.29" fill="#f83b05"/>
<polygon points="103.31,118.6 99.38,207.29 98.94,206.85" fill="#f73904"/>
<polygon points="103.31,118.6 98.94,206.85 98.6,206.37" fill="#f63804"/>
<polygon points="103.31,118.6 98.6,206.37 98.36,205.88" fill="#f53704"/>
<polygon points="103.31,118.6 98.36,205.88 98.23,205.36" fill="#f43604"/>
<polygon points="103.31,118.6 98.23,205.36 98.21,204.85" fill="#f43604"/>
<polygon points="103.31,118.6 110.88,204.5 110.92,205.02" fill="#d42400"/>
<polygon points="103.31,118.6 110.92,205.02 110.85,205.54" fill="#d42400"/>
<polygon points="103.31,118.6 110.85,205.54 110.67,206.05" fill="#d52500"/>
<polygon points="103.31,118.6 110.67,206.05 110.38,206.54" fill="#d72600"/>
<polygon points="103.31,118.6 110.38,206.54 109.99,207" fill="#d92700"/>
<polygon points="103.31,118.6 109.99,207 109.51,207.43" fill="#dd2900"/>
<polygon points="103.31,118.6 109.51,207.43 108.94,207.82" fill="#e12b01"/>
<polygon points="108.88,211.92 114.97,128.84 121.8,212.11 121.73,212.64 121.56,213.17 121.28,213.67 120.9,214.15 120.42,214.59 119.85,214.99 119.21,215.33 118.49,215.62 117.72,215.85 116.91,216.01 116.08,216.11 115.23,216.13 114.38,216.08 113.55,215.96 112.75,215.78 111.99,215.53 111.29,215.22 110.67,214.85 110.12,214.44 109.67,213.98 109.31,213.5 109.06,212.98 108.92,212.46" fill="#fa3802"/>
<polygon points="114.97,128.84 119.85,214.99 119.21,215.33" fill="#e52d01"/>
<polygon points="114.97,128.84 119.21,215.33 118.49,215.62" fill="#ea2f01"/>
<polygon points="114.97,128.84 118.49,215.62 117.72,215.85" fill="#ef3201"/>
<polygon points="114.97,128.84 117.72,215.85 116.91,216.01" fill="#f53502"/>
<polygon points="114.97,128.84 116.91,216.01 116.08,216.11" fill="#fa3802"/>
<polygon points="114.97,128.84 116.08,216.11 115.23,216.13" fill="#fb3b03"/>
<polygon points="114.97,128.84 115.23,216.13 114.38,216.08" fill="#fc3d04"/>
<polygon points="114.97,128.84 114.38,216.08 113.55,215.96" fill="#fd3f05"/>
<polygon points="114.97,128.84 113.55,215.96 112.75,215.78" fill="#fe4106"/>
<polygon points="114.97,128.84 112.75,215.78 111.99,215.53" fill="#fe4106"/>
<polygon points="114.97,128.84 111.99,215.53 111.29,215.22" fill="#fc3f05"/>
<polygon points="114.97,128.84 111.29,215.22 110.67,214.85" fill="#fa3d05"/>
<polygon points="114.97,128.84 110.67,214.85 110.12,214.44" fill="#f83b05"/>
<polygon points="114.97,128.84 110.12,214.44 109.67,213.98" fill="#f73905"/>
<polygon points="114.97,128.84 109.67,213.98 109.31,213.5" fill="#f63804"/>
<polygon points="114.97,128.84 109.31,213.5 109.06,212.98" fill="#f53704"/>
<polygon points="114.97,128.84 109.06,212.98 108.92,212.46" fill="#f43604"/>
<polygon points="114.97,128.84 108.92,212.46 108.88,211.92" fill="#f43604"/>
<polygon points="114.97,128.84 121.8,212.11 121.73,212.64" fill="#d42400"/>
<polygon points="114.97,128.84 121.73,212.64 121.56,213.17" fill="#d52500"/>
<polygon points="114.97,128.84 121.56,213.17 121.28,213.67" fill="#d72500"/>
<polygon points="114.97,128.84 121.28,213.67 120.9,214.15" fill="#d92700"/>
<polygon points="114.97,128.84 120.9,214.15 120.42,214.59" fill="#dc2800"/>
<polygon points="114.97,128.84 120.42,214.59 119.85,214.99" fill="#e02a01"/>
<polygon points="119.88,219.22 126.93,139.26 133,219.41 132.95,219.96 132.79,220.5 132.51,221.02 132.14,221.51 131.66,221.97 131.09,222.37 130.44,222.73 129.73,223.03 128.95,223.27 128.13,223.43 127.28,223.53 126.42,223.55 125.56,223.5 124.71,223.38 123.89,223.19 123.12,222.93 122.4,222.61 121.76,222.23 121.2,221.81 120.72,221.34 120.35,220.84 120.08,220.31 119.93,219.77" fill="#fa3802"/>
<polygon points="126.93,139.26 131.09,222.37 130.44,222.73" fill="#e42d01"/>
<polygon points="126.93,139.26 130.44,222.73 129.73,223.03" fill="#e92f01"/>
<polygon points="126.93,139.26 129.73,223.03 128.95,223.27" fill="#ef3201"/>
<polygon points="126.93,139.26 128.95,223.27 128.13,223.43" fill="#f43502"/>
<polygon points="126.93,139.26 128.13,223.43 127.28,223.53" fill="#fa3802"/>
<polygon points="126.93,139.26 127.28,223.53 126.42,223.55" fill="#fb3a03"/>
<polygon points="126.93,139.26 126.42,223.55 125.56,223.5" fill="#fc3c04"/>
<polygon points="126.93,139.26 125.56,223.5 124.71,223.38" fill="#fd3f05"/>
<polygon points="126.93,139.26 124.71,223.38 123.89,223.19" fill="#fe4106"/>
<polygon points="126.93,139.26 123.89,223.19 123.12,222.93" fill="#fe4106"/>
<polygon points="126.93,139.26 123.12,222.93 122.4,222.61" fill="#fc3f05"/>
<polygon points="126.93,139.26 122.4,222.61 121.76,222.23" fill="#fa3d05"/>
<polygon points="126.93,139.26 121.76,222.23 121.2,221.81" fill="#f83b05"/>
<polygon points="126.93,139.26 121.2,221.81 120.72,221.34" fill="#f73905"/>
<polygon points="126.93,139.26 120.72,221.34 120.35,220.84" fill="#f63804"/>
<polygon points="126.93,139.26 120.35,220.84 120.08,220.31" fill="#f53704"/>
<polygon points="126.93,139.26 120.08,220.31 119.93,219.77" fill="#f43604"/>
<polygon points="126.93,139.26 119.93,219.77 119.88,219.22" fill="#f43604"/>
<polygon points="126.93,139.26 133,219.41 132.95,219.96" fill="#d42400"/>
<polygon points="126.93,139.26 132.95,219.96 132.79,220.5" fill="#d52500"/>
<polygon points="126.93,139.26 132.79,220.5 132.51,221.02" fill="#d72500"/>
<polygon points="126.93,139.26 132.51,221.02 132.14,221.51" fill="#d92700"/>
<polygon points="126.93,139.26 132.14,221.51 131.66,221.97" fill="#dc2800"/>
<polygon points="126.93,139.26 131.66,221.97 131.09,222.37" fill="#e02a01"/>
<polygon points="131.21,226.73 131.27,226.17 139.21,149.58 144.55,226.94 144.51,227.51 144.36,228.06 144.09,228.6 143.72,229.1 143.25,229.57 142.68,229.99 142.03,230.36 141.31,230.67 140.52,230.91 139.69,231.08 138.83,231.18 137.96,231.2 137.08,231.15 136.22,231.03 135.38,230.83 134.59,230.56 133.86,230.23 133.19,229.84 132.61,229.4 132.12,228.92 131.73,228.4 131.45,227.86 131.27,227.3" fill="#fa3802"/>
<polygon points="139.21,149.58 142.68,229.99 142.03,230.36" fill="#e42c01"/>
<polygon points="139.21,149.58 142.03,230.36 141.31,230.67" fill="#e92f01"/>
<polygon points="139.21,149.58 141.31,230.67 140.52,230.91" fill="#ee3201"/>
<polygon points="139.21,149.58 140.52,230.91 139.69,231.08" fill="#f43502"/>
<polygon points="139.21,149.58 139.69,231.08 138.83,231.18" fill="#fa3802"/>
<polygon points="139.21,149.58 138.83,231.18 137.96,231.2" fill="#fb3a03"/>
<polygon points="139.21,149.58 137.96,231.2 137.08,231.15" fill="#fc3c04"/>
<polygon points="139.21,149.58 137.08,231.15 136.22,231.03" fill="#fd3e05"/>
<polygon points="139.21,149.58 136.22,231.03 135.38,230.83" fill="#fe4105"/>
<polygon points="139.21,149.58 135.38,230.83 134.59,230.56" fill="#fe4106"/>
<polygon points="139.21,149.58 134.59,230.56 133.86,230.23" fill="#fc3f06"/>
<polygon points="139.21,149.58 133.86,230.23 133.19,229.84" fill="#fa3d05"/>
<polygon points="139.21,149.58 133.19,229.84 132.61,229.4" fill="#f93b05"/>
<polygon points="139.21,149.58 132.61,229.4 132.12,228.92" fill="#f73905"/>
<polygon points="139.21,149.58 132.12,228.92 131.73,228.4" fill="#f63804"/>
<polygon points="139.21,149.58 131.73,228.4 131.45,227.86" fill="#f53704"/>
<polygon points="139.21,149.58 131.45,227.86 131.27,227.3" fill="#f43604"/>
<polygon points="139.21,149.58 131.27,227.3 131.21,226.73" fill="#f43604"/>
<polygon points="139.21,149.58 131.21,226.73 131.27,226.17" fill="#f43604"/>
<polygon points="139.21,149.58 144.55,226.94 144.51,227.51" fill="#d42400"/>
<polygon points="139.21,149.58 144.51,227.51 144.36,228.06" fill="#d52400"/>
<polygon points="139.21,149.58 144.36,228.06 144.09,228.6" fill="#d62500"/>
<polygon points="139.21,149.58 144.09,228.6 143.72,229.1" fill="#d92600"/>
<polygon points="139.21,149.58 143.72,229.1 143.25,229.57" fill="#dc2800"/>
<polygon points="139.21,149.58 143.25,229.57 142.68,229.99" fill="#df2a01"/>
<polygon points="142.9,234.48 142.95,233.9 151.83,159.77 156.46,234.7 156.43,235.28 156.29,235.86 156.03,236.41 155.67,236.93 155.2,237.41 154.63,237.85 153.98,238.23 153.25,238.54 152.46,238.79 151.62,238.97 150.75,239.07 149.86,239.09 148.97,239.04 148.08,238.91 147.23,238.71 146.42,238.43 145.67,238.09 144.99,237.69 144.38,237.24 143.88,236.74 143.47,236.2 143.17,235.64 142.98,235.07" fill="#fa3802"/>
<polygon points="151.83,159.77 154.63,237.85 153.98,238.23" fill="#e32c01"/>
<polygon points="151.83,159.77 153.98,238.23 153.25,238.54" fill="#e82e01"/>
<polygon points="151.83,159.77 153.25,238.54 152.46,238.79" fill="#ed3101"/>
<polygon points="151.83,159.77 152.46,238.79 151.62,238.97" fill="#f33402"/>
<polygon points="151.83,159.77 151.62,238.97 150.75,239.07" fill="#f93702"/>
<polygon points="151.83,159.77 150.75,239.07 149.86,239.09" fill="#fb3a03"/>
<polygon points="151.83,159.77 149.86,239.09 148.97,239.04" fill="#fc3c04"/>
<polygon points="151.83,159.77 148.97,239.04 148.08,238.91" fill="#fd3e04"/>
<polygon points="151.83,159.77 148.08,238.91 147.23,238.71" fill="#fe4005"/>
<polygon points="151.83,159.77 147.23,238.71 146.42,238.43" fill="#ff4206"/>
<polygon points="151.83,159.77 146.42,238.43 145.67,238.09" fill="#fc3f06"/>
<polygon points="151.83,159.77 145.67,238.09 144.99,237.69" fill="#fb3d05"/>
<polygon points="151.83,159.77 144.99,237.69 144.38,237.24" fill="#f93b05"/>
<polygon points="151.83,159.77 144.38,237.24 143.88,236.74" fill="#f73a05"/>
<polygon points="151.83,159.77 143.88,236.74 143.47,236.2" fill="#f63804"/>
<polygon points="151.83,159.77 143.47,236.2 143.17,235.64" fill="#f53704"/>
<polygon points="151.83,159.77 143.17,235.64 142.98,235.07" fill="#f43604"/>
<polygon points="151.83,159.77 142.98,235.07 142.9,234.48" fill="#f43604"/>
<polygon points="151.83,159.77 142.9,234.48 142.95,233.9" fill="#f43604"/>
<polygon points="151.83,159.77 156.46,234.7 156.43,235.28" fill="#d42400"/>
<polygon points="151.83,159.77 156.43,235.28 156.29,235.86" fill="#d52400"/>
<polygon points="151.83,159.77 156.29,235.86 156.03,236.41" fill="#d62500"/>
<polygon points="151.83,159.77 156.03,236.41 155.67,236.93" fill="#d82600"/>
<polygon points="151.83,159.77 155.67,236.93 155.2,237.41" fill="#db2800"/>
<polygon points="151.83,159.77 155.2,237.41 154.63,237.85" fill="#df2a01"/>
<polygon points="154.96,242.48 154.99,241.88 164.92,167.55 168.75,242.71 168.73,243.31 168.6,243.9 168.35,244.47 167.99,245.01 167.53,245.51 166.96,245.95 166.31,246.34 165.58,246.67 164.78,246.93 163.93,247.11 163.05,247.21 162.14,247.24 161.23,247.18 160.33,247.05 159.46,246.84 158.63,246.55 157.86,246.2 157.15,245.79 156.53,245.32 156,244.8 155.58,244.25 155.26,243.68 155.05,243.08" fill="#fa3802"/>
<polygon points="164.92,167.55 166.96,245.95 166.31,246.34" fill="#e32c01"/>
<polygon points="164.92,167.55 166.31,246.34 165.58,246.67" fill="#e72e01"/>
<polygon points="164.92,167.55 165.58,246.67 164.78,246.93" fill="#ed3101"/>
<polygon points="164.92,167.55 164.78,246.93 163.93,247.11" fill="#f23402"/>
<polygon points="164.92,167.55 163.93,247.11 163.05,247.21" fill="#f83702"/>
<polygon points="164.92,167.55 163.05,247.21 162.14,247.24" fill="#fb3a03"/>
<polygon points="164.92,167.55 162.14,247.24 161.23,247.18" fill="#fc3c03"/>
<polygon points="164.92,167.55 161.23,247.18 160.33,247.05" fill="#fd3e04"/>
<polygon points="164.92,167.55 160.33,247.05 159.46,246.84" fill="#fe4005"/>
<polygon points="164.92,167.55 159.46,246.84 158.63,246.55" fill="#ff4206"/>
<polygon points="164.92,167.55 158.63,246.55 157.86,246.2" fill="#fd4006"/>
<polygon points="164.92,167.55 157.86,246.2 157.15,245.79" fill="#fb3d05"/>
<polygon points="164.92,167.55 157.15,245.79 156.53,245.32" fill="#f93b05"/>
<polygon points="164.92,167.55 156.53,245.32 156,244.8" fill="#f73a05"/>
<polygon points="164.92,167.55 156,244.8 155.58,244.25" fill="#f63804"/>
<polygon points="164.92,167.55 155.58,244.25 155.26,243.68" fill="#f53704"/>
<polygon points="164.92,167.55 155.26,243.68 155.05,243.08" fill="#f53704"/>
<polygon points="164.92,167.55 155.05,243.08 154.96,242.48" fill="#f43604"/>
<polygon points="164.92,167.55 154.96,242.48 154.99,241.88" fill="#f43604"/>
<polygon points="164.92,167.55 168.75,242.71 168.73,243.31" fill="#d42400"/>
<polygon points="164.92,167.55 168.73,243.31 168.6,243.9" fill="#d52400"/>
<polygon points="164.92,167.55 168.6,243.9 168.35,244.47" fill="#d62500"/>
<polygon points="164.92,167.55 168.35,244.47 167.99,245.01" fill="#d82600"/>
<polygon points="164.92,167.55 167.99,245.01 167.53,245.51" fill="#db2800"/>
<polygon points="164.92,167.55 167.53,245.51 166.96,245.95" fill="#de2901"/>
<path d="M39.32,66.51 C40.98,67.81 45.92,71.47 49.31,74.28 C52.69,77.09 56.15,80.68 59.61,83.37 C63.06,86.05 66.52,87.88 70.06,90.39 C73.59,92.9 77.19,95.62 80.83,98.41 C84.47,101.21 88.16,104.09 91.91,107.15 C95.65,110.21 99.44,113.46 103.29,116.77 C107.13,120.07 111.02,123.56 114.97,127 C118.91,130.44 122.9,133.96 126.94,137.42 C130.99,140.87 135.09,144.32 139.24,147.73 C143.4,151.15 147.59,154.92 151.88,157.91 C156.18,160.9 162.81,164.38 164.99,165.67" fill="none" stroke="#ff3808" stroke-width="1.45" stroke-linejoin="round" stroke-linecap="round"/>
<polygon points="8.3,82.55 23.55,180.2 23.6,180.65 23.55,181.12 23.39,181.59 23.13,182.05 22.78,182.49 22.34,182.91 21.82,183.29 21.22,183.64 20.55,183.95 19.84,184.2 19.08,184.4 18.3,184.55 17.51,184.63 16.71,184.65 15.94,184.61 15.18,184.51 14.48,184.35 13.82,184.13 13.23,183.86 12.72,183.54 12.28,183.18 11.94,182.78 11.7,182.35 11.56,181.91 11.52,181.44" fill="#0af0f2"/>
<polygon points="8.3,82.55 21.22,183.64 20.55,183.95" fill="#04d5dd"/>
<polygon points="8.3,82.55 20.55,183.95 19.84,184.2" fill="#06dbe1"/>
<polygon points="8.3,82.55 19.84,184.2 19.08,184.4" fill="#07e0e6"/>
<polygon points="8.3,82.55 19.08,184.4 18.3,184.55" fill="#08e6ea"/>
<polygon points="8.3,82.55 18.3,184.55 17.51,184.63" fill="#09edef"/>
<polygon points="8.3,82.55 17.51,184.63 16.71,184.65" fill="#0cf1f3"/>
<polygon points="8.3,82.55 16.71,184.65 15.94,184.61" fill="#12f4f5"/>
<polygon points="8.3,82.55 15.94,184.61 15.18,184.51" fill="#17f6f7"/>
<polygon points="8.3,82.55 15.18,184.51 14.48,184.35" fill="#1bf9fa"/>
<polygon points="8.3,82.55 14.48,184.35 13.82,184.13" fill="#20fbfb"/>
<polygon points="8.3,82.55 13.82,184.13 13.23,183.86" fill="#24fdfd"/>
<polygon points="8.3,82.55 13.23,183.86 12.72,183.54" fill="#27ffff"/>
<polygon points="8.3,82.55 12.72,183.54 12.28,183.18" fill="#25fdfd"/>
<polygon points="8.3,82.55 12.28,183.18 11.94,182.78" fill="#23fafb"/>
<polygon points="8.3,82.55 11.94,182.78 11.7,182.35" fill="#21f8fa"/>
<polygon points="8.3,82.55 11.7,182.35 11.56,181.91" fill="#1ff7f9"/>
<polygon points="8.3,82.55 11.56,181.91 11.52,181.44" fill="#1ff6f8"/>
<polygon points="8.3,82.55 23.55,180.2 23.6,180.65" fill="#00c0cc"/>
<polygon points="8.3,82.55 23.6,180.65 23.55,181.12" fill="#00c0cc"/>
<polygon points="8.3,82.55 23.55,181.12 23.39,181.59" fill="#00c1cd"/>
<polygon points="8.3,82.55 23.39,181.59 23.13,182.05" fill="#01c3ce"/>
<polygon points="8.3,82.55 23.13,182.05 22.78,182.49" fill="#01c5d0"/>
<polygon points="8.3,82.55 22.78,182.49 22.34,182.91" fill="#02c8d2"/>
<polygon points="8.3,82.55 22.34,182.91 21.82,183.29" fill="#02ccd5"/>
<polygon points="8.3,82.55 21.82,183.29 21.22,183.64" fill="#03d0d9"/>
<polygon points="18.16,90.41 32.59,186.54 32.65,187.01 32.61,187.49 32.46,187.97 32.21,188.44 31.86,188.9 31.42,189.33 30.89,189.72 30.29,190.08 29.62,190.4 28.9,190.66 28.14,190.86 27.35,191.01 26.55,191.1 25.74,191.12 24.95,191.08 24.19,190.97 23.47,190.8 22.8,190.58 22.19,190.3 21.66,189.97 21.22,189.6 20.87,189.19 20.61,188.75 20.46,188.29 20.41,187.82" fill="#0af0f2"/>
<polygon points="18.16,90.41 30.29,190.08 29.62,190.4" fill="#05d6de"/>
<polygon points="18.16,90.41 29.62,190.4 28.9,190.66" fill="#06dce2"/>
<polygon points="18.16,90.41 28.9,190.66 28.14,190.86" fill="#07e2e7"/>
<polygon points="18.16,90.41 28.14,190.86 27.35,191.01" fill="#08e9ec"/>
<polygon points="18.16,90.41 27.35,191.01 26.55,191.1" fill="#0aeff1"/>
<polygon points="18.16,90.41 26.55,191.1 25.74,191.12" fill="#0ff2f4"/>
<polygon points="18.16,90.41 25.74,191.12 24.95,191.08" fill="#14f5f7"/>
<polygon points="18.16,90.41 24.95,191.08 24.19,190.97" fill="#1af8f9"/>
<polygon points="18.16,90.41 24.19,190.97 23.47,190.8" fill="#1ffafb"/>
<polygon points="18.16,90.41 23.47,190.8 22.8,190.58" fill="#24fdfd"/>
<polygon points="18.16,90.41 22.8,190.58 22.19,190.3" fill="#28ffff"/>
<polygon points="18.16,90.41 22.19,190.3 21.66,189.97" fill="#24fbfc"/>
<polygon points="18.16,90.41 21.66,189.97 21.22,189.6" fill="#20f8f9"/>
<polygon points="18.16,90.41 21.22,189.6 20.87,189.19" fill="#1df5f7"/>
<polygon points="18.16,90.41 20.87,189.19 20.61,188.75" fill="#1bf3f6"/>
<polygon points="18.16,90.41 20.61,188.75 20.46,188.29" fill="#19f2f5"/>
<polygon points="18.16,90.41 20.46,188.29 20.41,187.82" fill="#19f1f4"/>
<polygon points="18.16,90.41 32.59,186.54 32.65,187.01" fill="#00c0cc"/>
<polygon points="18.16,90.41 32.65,187.01 32.61,187.49" fill="#00c0cc"/>
<polygon points="18.16,90.41 32.61,187.49 32.46,187.97" fill="#00c1cd"/>
<polygon points="18.16,90.41 32.46,187.97 32.21,188.44" fill="#01c3ce"/>
<polygon points="18.16,90.41 32.21,188.44 31.86,188.9" fill="#01c5d0"/>
<polygon points="18.16,90.41 31.86,188.9 31.42,189.33" fill="#02c8d3"/>
<polygon points="18.16,90.41 31.42,189.33 30.89,189.72" fill="#03ccd6"/>
<polygon points="18.16,90.41 30.89,189.72 30.29,190.08" fill="#04d1d9"/>
<polygon points="28.36,99.33 41.96,193.55 41.92,194.05 41.78,194.54 41.54,195.02 41.19,195.49 40.76,195.93 40.23,196.34 39.63,196.71 38.96,197.03 38.23,197.3 37.46,197.51 36.66,197.66 35.85,197.75 35.03,197.77 34.23,197.73 33.45,197.62 32.71,197.45 32.03,197.22 31.41,196.93 30.87,196.59 30.41,196.21 30.05,195.79 29.78,195.34 29.62,194.87 29.56,194.38" fill="#0af0f2"/>
<polygon points="28.36,99.33 39.63,196.71 38.96,197.03" fill="#05d8df"/>
<polygon points="28.36,99.33 38.96,197.03 38.23,197.3" fill="#06dee4"/>
<polygon points="28.36,99.33 38.23,197.3 37.46,197.51" fill="#08e4e9"/>
<polygon points="28.36,99.33 37.46,197.51 36.66,197.66" fill="#09ebee"/>
<polygon points="28.36,99.33 36.66,197.66 35.85,197.75" fill="#0cf1f3"/>
<polygon points="28.36,99.33 35.85,197.75 35.03,197.77" fill="#12f4f5"/>
<polygon points="28.36,99.33 35.03,197.77 34.23,197.73" fill="#18f7f8"/>
<polygon points="28.36,99.33 34.23,197.73 33.45,197.62" fill="#1efafb"/>
<polygon points="28.36,99.33 33.45,197.62 32.71,197.45" fill="#23fdfd"/>
<polygon points="28.36,99.33 32.71,197.45 32.03,197.22" fill="#27ffff"/>
<polygon points="28.36,99.33 32.03,197.22 31.41,196.93" fill="#22fafb"/>
<polygon points="28.36,99.33 31.41,196.93 30.87,196.59" fill="#1ef6f8"/>
<polygon points="28.36,99.33 30.87,196.59 30.41,196.21" fill="#1af2f5"/>
<polygon points="28.36,99.33 30.41,196.21 30.05,195.79" fill="#17eff3"/>
<polygon points="28.36,99.33 30.05,195.79 29.78,195.34" fill="#14edf1"/>
<polygon points="28.36,99.33 29.78,195.34 29.62,194.87" fill="#13ecf0"/>
<polygon points="28.36,99.33 29.62,194.87 29.56,194.38" fill="#12ebef"/>
<polygon points="28.36,99.33 41.96,193.55 41.92,194.05" fill="#00c0cc"/>
<polygon points="28.36,99.33 41.92,194.05 41.78,194.54" fill="#00c1cd"/>
<polygon points="28.36,99.33 41.78,194.54 41.54,195.02" fill="#01c3ce"/>
<polygon points="28.36,99.33 41.54,195.02 41.19,195.49" fill="#01c5d0"/>
<polygon points="28.36,99.33 41.19,195.49 40.76,195.93" fill="#02c9d3"/>
<polygon points="28.36,99.33 40.76,195.93 40.23,196.34" fill="#03cdd6"/>
<polygon points="28.36,99.33 40.23,196.34 39.63,196.71" fill="#04d2da"/>
<polygon points="38.56,104.89 51.54,200.28 51.51,200.79 51.38,201.3 51.14,201.79 50.8,202.27 50.37,202.73 49.84,203.15 49.24,203.53 48.56,203.86 47.83,204.14 47.05,204.35 46.25,204.51 45.42,204.6 44.59,204.62 43.78,204.57 42.98,204.46 42.23,204.29 41.53,204.05 40.9,203.75 40.34,203.41 39.87,203.01 39.49,202.58 39.21,202.12 39.04,201.63 38.97,201.13" fill="#0af0f2"/>
<polygon points="38.56,104.89 49.24,203.53 48.56,203.86" fill="#05d8df"/>
<polygon points="38.56,104.89 48.56,203.86 47.83,204.14" fill="#06dfe4"/>
<polygon points="38.56,104.89 47.83,204.14 47.05,204.35" fill="#08e6ea"/>
<polygon points="38.56,104.89 47.05,204.35 46.25,204.51" fill="#09edf0"/>
<polygon points="38.56,104.89 46.25,204.51 45.42,204.6" fill="#0ef2f4"/>
<polygon points="38.56,104.89 45.42,204.6 44.59,204.62" fill="#14f5f6"/>
<polygon points="38.56,104.89 44.59,204.62 43.78,204.57" fill="#1bf8f9"/>
<polygon points="38.56,104.89 43.78,204.57 42.98,204.46" fill="#21fbfc"/>
<polygon points="38.56,104.89 42.98,204.46 42.23,204.29" fill="#27fefe"/>
<polygon points="38.56,104.89 42.23,204.29 41.53,204.05" fill="#23fbfc"/>
<polygon points="38.56,104.89 41.53,204.05 40.9,203.75" fill="#1ef6f8"/>
<polygon points="38.56,104.89 40.9,203.75 40.34,203.41" fill="#19f1f4"/>
<polygon points="38.56,104.89 40.34,203.41 39.87,203.01" fill="#15edf1"/>
<polygon points="38.56,104.89 39.87,203.01 39.49,202.58" fill="#11eaef"/>
<polygon points="38.56,104.89 39.49,202.58 39.21,202.12" fill="#0ee8ed"/>
<polygon points="38.56,104.89 39.21,202.12 39.04,201.63" fill="#0de6eb"/>
<polygon points="38.56,104.89 39.04,201.63 38.97,201.13" fill="#0ce5eb"/>
<polygon points="38.56,104.89 51.54,200.28 51.51,200.79" fill="#00c0cc"/>
<polygon points="38.56,104.89 51.51,200.79 51.38,201.3" fill="#00c1cd"/>
<polygon points="38.56,104.89 51.38,201.3 51.14,201.79" fill="#01c3ce"/>
<polygon points="38.56,104.89 51.14,201.79 50.8,202.27" fill="#01c5d0"/>
<polygon points="38.56,104.89 50.8,202.27 50.37,202.73" fill="#02c9d3"/>
<polygon points="38.56,104.89 50.37,202.73 49.84,203.15" fill="#03cdd7"/>
<polygon points="38.56,104.89 49.84,203.15 49.24,203.53" fill="#04d3db"/>
<polygon points="48.66,208.07 49.61,118.89 61.4,207.21 61.39,207.73 61.26,208.25 61.03,208.77 60.69,209.26 60.26,209.73 59.74,210.16 59.13,210.55 58.45,210.89 57.72,211.17 56.93,211.4 56.11,211.56 55.28,211.65 54.44,211.67 53.61,211.62 52.8,211.51 52.03,211.33 51.32,211.08 50.67,210.78 50.1,210.42 49.61,210.01 49.22,209.57 48.92,209.09 48.74,208.59" fill="#0af0f2"/>
<polygon points="49.61,118.89 59.13,210.55 58.45,210.89" fill="#05d9df"/>
<polygon points="49.61,118.89 58.45,210.89 57.72,211.17" fill="#07dfe5"/>
<polygon points="49.61,118.89 57.72,211.17 56.93,211.4" fill="#08e6ea"/>
<polygon points="49.61,118.89 56.93,211.4 56.11,211.56" fill="#0aeef0"/>
<polygon points="49.61,118.89 56.11,211.56 55.28,211.65" fill="#0ff2f4"/>
<polygon points="49.61,118.89 55.28,211.65 54.44,211.67" fill="#15f6f7"/>
<polygon points="49.61,118.89 54.44,211.67 53.61,211.62" fill="#1cf9fa"/>
<polygon points="49.61,118.89 53.61,211.62 52.8,211.51" fill="#22fcfd"/>
<polygon points="49.61,118.89 52.8,211.51 52.03,211.33" fill="#27ffff"/>
<polygon points="49.61,118.89 52.03,211.33 51.32,211.08" fill="#21f9fa"/>
<polygon points="49.61,118.89 51.32,211.08 50.67,210.78" fill="#1cf4f6"/>
<polygon points="49.61,118.89 50.67,210.78 50.1,210.42" fill="#16eff2"/>
<polygon points="49.61,118.89 50.1,210.42 49.61,210.01" fill="#12ebef"/>
<polygon points="49.61,118.89 49.61,210.01 49.22,209.57" fill="#0ee8ed"/>
<polygon points="49.61,118.89 49.22,209.57 48.92,209.09" fill="#0be5ea"/>
<polygon points="49.61,118.89 48.92,209.09 48.74,208.59" fill="#09e3e9"/>
<polygon points="49.61,118.89 48.74,208.59 48.66,208.07" fill="#08e2e8"/>
<polygon points="49.61,118.89 61.4,207.21 61.39,207.73" fill="#00c0cc"/>
<polygon points="49.61,118.89 61.39,207.73 61.26,208.25" fill="#00c1cd"/>
<polygon points="49.61,118.89 61.26,208.25 61.03,208.77" fill="#01c2ce"/>
<polygon points="49.61,118.89 61.03,208.77 60.69,209.26" fill="#01c5d0"/>
<polygon points="49.61,118.89 60.69,209.26 60.26,209.73" fill="#02c9d3"/>
<polygon points="49.61,118.89 60.26,209.73 59.74,210.16" fill="#03cdd6"/>
<polygon points="49.61,118.89 59.74,210.16 59.13,210.55" fill="#04d3db"/>
<polygon points="58.63,215.23 60.55,127.26 71.56,214.34 71.55,214.88 71.44,215.42 71.21,215.95 70.88,216.45 70.45,216.94 69.93,217.38 69.32,217.78 68.64,218.13 67.9,218.42 67.11,218.66 66.28,218.82 65.43,218.91 64.58,218.94 63.73,218.89 62.91,218.77 62.13,218.58 61.4,218.33 60.74,218.01 60.15,217.65 59.64,217.23 59.23,216.77 58.93,216.28 58.72,215.76" fill="#0af0f2"/>
<polygon points="60.55,127.26 69.32,217.78 68.64,218.13" fill="#05d8df"/>
<polygon points="60.55,127.26 68.64,218.13 67.9,218.42" fill="#06dfe4"/>
<polygon points="60.55,127.26 67.9,218.42 67.11,218.66" fill="#08e6ea"/>
<polygon points="60.55,127.26 67.11,218.66 66.28,218.82" fill="#09edf0"/>
<polygon points="60.55,127.26 66.28,218.82 65.43,218.91" fill="#0ef2f4"/>
<polygon points="60.55,127.26 65.43,218.91 64.58,218.94" fill="#15f5f7"/>
<polygon points="60.55,127.26 64.58,218.94 63.73,218.89" fill="#1bf9f9"/>
<polygon points="60.55,127.26 63.73,218.89 62.91,218.77" fill="#22fcfc"/>
<polygon points="60.55,127.26 62.91,218.77 62.13,218.58" fill="#28ffff"/>
<polygon points="60.55,127.26 62.13,218.58 61.4,218.33" fill="#22f9fb"/>
<polygon points="60.55,127.26 61.4,218.33 60.74,218.01" fill="#1cf4f6"/>
<polygon points="60.55,127.26 60.74,218.01 60.15,217.65" fill="#17f0f3"/>
<polygon points="60.55,127.26 60.15,217.65 59.64,217.23" fill="#12ebef"/>
<polygon points="60.55,127.26 59.64,217.23 59.23,216.77" fill="#0fe8ed"/>
<polygon points="60.55,127.26 59.23,216.77 58.93,216.28" fill="#0ce5eb"/>
<polygon points="60.55,127.26 58.93,216.28 58.72,215.76" fill="#0ae3e9"/>
<polygon points="60.55,127.26 58.72,215.76 58.63,215.23" fill="#08e2e8"/>
<polygon points="60.55,127.26 71.56,214.34 71.55,214.88" fill="#00c0cc"/>
<polygon points="60.55,127.26 71.55,214.88 71.44,215.42" fill="#00c1cc"/>
<polygon points="60.55,127.26 71.44,215.42 71.21,215.95" fill="#00c2ce"/>
<polygon points="60.55,127.26 71.21,215.95 70.88,216.45" fill="#01c5d0"/>
<polygon points="60.55,127.26 70.88,216.45 70.45,216.94" fill="#02c8d3"/>
<polygon points="60.55,127.26 70.45,216.94 69.93,217.38" fill="#03cdd6"/>
<polygon points="60.55,127.26 69.93,217.38 69.32,217.78" fill="#04d2da"/>
<polygon points="68.91,222.6 68.92,222.05 71.86,137.12 82.02,221.69 82.03,222.25 81.92,222.8 81.71,223.35 81.38,223.87 80.95,224.36 80.43,224.82 79.82,225.24 79.14,225.6 78.39,225.9 77.59,226.13 76.75,226.3 75.9,226.4 75.03,226.42 74.17,226.37 73.33,226.25 72.54,226.06 71.79,225.79 71.11,225.47 70.5,225.09 69.98,224.66 69.55,224.19 69.23,223.68 69.02,223.15" fill="#0af0f2"/>
<polygon points="71.86,137.12 79.82,225.24 79.14,225.6" fill="#05d7de"/>
<polygon points="71.86,137.12 79.14,225.6 78.39,225.9" fill="#06dee4"/>
<polygon points="71.86,137.12 78.39,225.9 77.59,226.13" fill="#08e5e9"/>
<polygon points="71.86,137.12 77.59,226.13 76.75,226.3" fill="#09ecef"/>
<polygon points="71.86,137.12 76.75,226.3 75.9,226.4" fill="#0df2f4"/>
<polygon points="71.86,137.12 75.9,226.4 75.03,226.42" fill="#14f5f6"/>
<polygon points="71.86,137.12 75.03,226.42 74.17,226.37" fill="#1bf8f9"/>
<polygon points="71.86,137.12 74.17,226.37 73.33,226.25" fill="#21fcfc"/>
<polygon points="71.86,137.12 73.33,226.25 72.54,226.06" fill="#27ffff"/>
<polygon points="71.86,137.12 72.54,226.06 71.79,225.79" fill="#22fafb"/>
<polygon points="71.86,137.12 71.79,225.79 71.11,225.47" fill="#1df5f7"/>
<polygon points="71.86,137.12 71.11,225.47 70.5,225.09" fill="#17f0f3"/>
<polygon points="71.86,137.12 70.5,225.09 69.98,224.66" fill="#13ecf0"/>
<polygon points="71.86,137.12 69.98,224.66 69.55,224.19" fill="#0fe8ed"/>
<polygon points="71.86,137.12 69.55,224.19 69.23,223.68" fill="#0ce6eb"/>
<polygon points="71.86,137.12 69.23,223.68 69.02,223.15" fill="#0ae4e9"/>
<polygon points="71.86,137.12 69.02,223.15 68.91,222.6" fill="#08e2e8"/>
<polygon points="71.86,137.12 68.91,222.6 68.92,222.05" fill="#08e2e8"/>
<polygon points="71.86,137.12 82.02,221.69 82.03,222.25" fill="#00c0cc"/>
<polygon points="71.86,137.12 82.03,222.25 81.92,222.8" fill="#00c0cc"/>
<polygon points="71.86,137.12 81.92,222.8 81.71,223.35" fill="#00c2ce"/>
<polygon points="71.86,137.12 81.71,223.35 81.38,223.87" fill="#01c4d0"/>
<polygon points="71.86,137.12 81.38,223.87 80.95,224.36" fill="#02c8d2"/>
<polygon points="71.86,137.12 80.95,224.36 80.43,224.82" fill="#03ccd6"/>
<polygon points="71.86,137.12 80.43,224.82 79.82,225.24" fill="#04d1da"/>
<polygon points="79.51,229.63 83.56,149.36 92.81,229.27 92.83,229.84 92.73,230.41 92.52,230.97 92.2,231.51 91.78,232.02 91.26,232.49 90.65,232.92 89.96,233.29 89.21,233.6 88.4,233.85 87.56,234.02 86.68,234.12 85.81,234.14 84.93,234.09 84.08,233.96 83.26,233.76 82.5,233.49 81.8,233.16 81.17,232.77 80.64,232.32 80.2,231.84 79.86,231.31 79.63,230.77 79.51,230.2" fill="#0af0f2"/>
<polygon points="83.56,149.36 90.65,232.92 89.96,233.29" fill="#05d7de"/>
<polygon points="83.56,149.36 89.96,233.29 89.21,233.6" fill="#06dde3"/>
<polygon points="83.56,149.36 89.21,233.6 88.4,233.85" fill="#08e4e9"/>
<polygon points="83.56,149.36 88.4,233.85 87.56,234.02" fill="#09ecef"/>
<polygon points="83.56,149.36 87.56,234.02 86.68,234.12" fill="#0df1f3"/>
<polygon points="83.56,149.36 86.68,234.12 85.81,234.14" fill="#13f5f6"/>
<polygon points="83.56,149.36 85.81,234.14 84.93,234.09" fill="#1af8f9"/>
<polygon points="83.56,149.36 84.93,234.09 84.08,233.96" fill="#20fbfc"/>
<polygon points="83.56,149.36 84.08,233.96 83.26,233.76" fill="#27fefe"/>
<polygon points="83.56,149.36 83.26,233.76 82.5,233.49" fill="#23fafb"/>
<polygon points="83.56,149.36 82.5,233.49 81.8,233.16" fill="#1df5f7"/>
<polygon points="83.56,149.36 81.8,233.16 81.17,232.77" fill="#18f0f3"/>
<polygon points="83.56,149.36 81.17,232.77 80.64,232.32" fill="#13ecf0"/>
<polygon points="83.56,149.36 80.64,232.32 80.2,231.84" fill="#0fe9ed"/>
<polygon points="83.56,149.36 80.2,231.84 79.86,231.31" fill="#0ce6eb"/>
<polygon points="83.56,149.36 79.86,231.31 79.63,230.77" fill="#0ae4e9"/>
<polygon points="83.56,149.36 79.63,230.77 79.51,230.2" fill="#08e2e8"/>
<polygon points="83.56,149.36 79.51,230.2 79.51,229.63" fill="#08e2e8"/>
<polygon points="83.56,149.36 92.81,229.27 92.83,229.84" fill="#00c0cc"/>
<polygon points="83.56,149.36 92.83,229.84 92.73,230.41" fill="#00c0cc"/>
<polygon points="83.56,149.36 92.73,230.41 92.52,230.97" fill="#00c2cd"/>
<polygon points="83.56,149.36 92.52,230.97 92.2,231.51" fill="#01c4cf"/>
<polygon points="83.56,149.36 92.2,231.51 91.78,232.02" fill="#02c8d2"/>
<polygon points="83.56,149.36 91.78,232.02 91.26,232.49" fill="#02ccd5"/>
<polygon points="83.56,149.36 91.26,232.49 90.65,232.92" fill="#04d1d9"/>
<polygon points="90.42,237.45 95.45,158.65 103.94,237.09 103.97,237.67 103.88,238.26 103.68,238.84 103.37,239.4 102.95,239.92 102.43,240.41 101.82,240.85 101.13,241.23 100.37,241.55 99.55,241.8 98.7,241.98 97.81,242.08 96.92,242.1 96.03,242.05 95.16,241.92 94.33,241.71 93.55,241.43 92.83,241.09 92.19,240.69 91.63,240.23 91.17,239.73 90.82,239.19 90.57,238.62 90.44,238.04" fill="#0af0f2"/>
<polygon points="95.45,158.65 101.82,240.85 101.13,241.23" fill="#05d6dd"/>
<polygon points="95.45,158.65 101.13,241.23 100.37,241.55" fill="#06dde3"/>
<polygon points="95.45,158.65 100.37,241.55 99.55,241.8" fill="#07e3e8"/>
<polygon points="95.45,158.65 99.55,241.8 98.7,241.98" fill="#09ebee"/>
<polygon points="95.45,158.65 98.7,241.98 97.81,242.08" fill="#0cf1f3"/>
<polygon points="95.45,158.65 97.81,242.08 96.92,242.1" fill="#13f4f6"/>
<polygon points="95.45,158.65 96.92,242.1 96.03,242.05" fill="#19f8f9"/>
<polygon points="95.45,158.65 96.03,242.05 95.16,241.92" fill="#20fbfb"/>
<polygon points="95.45,158.65 95.16,241.92 94.33,241.71" fill="#26fefe"/>
<polygon points="95.45,158.65 94.33,241.71 93.55,241.43" fill="#24fbfc"/>
<polygon points="95.45,158.65 93.55,241.43 92.83,241.09" fill="#1ef6f8"/>
<polygon points="95.45,158.65 92.83,241.09 92.19,240.69" fill="#18f1f4"/>
<polygon points="95.45,158.65 92.19,240.69 91.63,240.23" fill="#14edf0"/>
<polygon points="95.45,158.65 91.63,240.23 91.17,239.73" fill="#10e9ee"/>
<polygon points="95.45,158.65 91.17,239.73 90.82,239.19" fill="#0ce6eb"/>
<polygon points="95.45,158.65 90.82,239.19 90.57,238.62" fill="#0ae4ea"/>
<polygon points="95.45,158.65 90.57,238.62 90.44,238.04" fill="#09e3e8"/>
<polygon points="95.45,158.65 90.44,238.04 90.42,237.45" fill="#08e2e8"/>
<polygon points="95.45,158.65 103.94,237.09 103.97,237.67" fill="#00c0cc"/>
<polygon points="95.45,158.65 103.97,237.67 103.88,238.26" fill="#00c0cc"/>
<polygon points="95.45,158.65 103.88,238.26 103.68,238.84" fill="#00c2cd"/>
<polygon points="95.45,158.65 103.68,238.84 103.37,239.4" fill="#01c4cf"/>
<polygon points="95.45,158.65 103.37,239.4 102.95,239.92" fill="#01c7d2"/>
<polygon points="95.45,158.65 102.95,239.92 102.43,240.41" fill="#02cbd5"/>
<polygon points="95.45,158.65 102.43,240.41 101.82,240.85" fill="#03d0d9"/>
<polygon points="101.69,245.52 107.71,168.31 115.41,245.15 115.46,245.75 115.38,246.36 115.19,246.96 114.89,247.53 114.47,248.07 113.96,248.58 113.35,249.03 112.65,249.42 111.89,249.75 111.06,250.01 110.2,250.19 109.3,250.3 108.39,250.32 107.49,250.27 106.6,250.13 105.75,249.92 104.95,249.63 104.21,249.27 103.55,248.86 102.97,248.38 102.5,247.87 102.12,247.31 101.86,246.73 101.72,246.13" fill="#0af0f2"/>
<polygon points="107.71,168.31 113.35,249.03 112.65,249.42" fill="#04d5dd"/>
<polygon points="107.71,168.31 112.65,249.42 111.89,249.75" fill="#06dce2"/>
<polygon points="107.71,168.31 111.89,249.75 111.06,250.01" fill="#07e3e7"/>
<polygon points="107.71,168.31 111.06,250.01 110.2,250.19" fill="#09eaed"/>
<polygon points="107.71,168.31 110.2,250.19 109.3,250.3" fill="#0bf1f3"/>
<polygon points="107.71,168.31 109.3,250.3 108.39,250.32" fill="#12f4f5"/>
<polygon points="107.71,168.31 108.39,250.32 107.49,250.27" fill="#19f7f8"/>
<polygon points="107.71,168.31 107.49,250.27 106.6,250.13" fill="#1ffbfb"/>
<polygon points="107.71,168.31 106.6,250.13 105.75,249.92" fill="#25fefe"/>
<polygon points="107.71,168.31 105.75,249.92 104.95,249.63" fill="#24fcfc"/>
<polygon points="107.71,168.31 104.95,249.63 104.21,249.27" fill="#1ef6f8"/>
<polygon points="107.71,168.31 104.21,249.27 103.55,248.86" fill="#19f1f4"/>
<polygon points="107.71,168.31 103.55,248.86 102.97,248.38" fill="#14edf1"/>
<polygon points="107.71,168.31 102.97,248.38 102.5,247.87" fill="#10e9ee"/>
<polygon points="107.71,168.31 102.5,247.87 102.12,247.31" fill="#0de6eb"/>
<polygon points="107.71,168.31 102.12,247.31 101.86,246.73" fill="#0ae4ea"/>
<polygon points="107.71,168.31 101.86,246.73 101.72,246.13" fill="#09e3e9"/>
<polygon points="107.71,168.31 101.72,246.13 101.69,245.52" fill="#08e2e8"/>
<polygon points="107.71,168.31 115.41,245.15 115.46,245.75" fill="#00c0cc"/>
<polygon points="107.71,168.31 115.46,245.75 115.38,246.36" fill="#00c0cc"/>
<polygon points="107.71,168.31 115.38,246.36 115.19,246.96" fill="#00c1cd"/>
<polygon points="107.71,168.31 115.19,246.96 114.89,247.53" fill="#01c4cf"/>
<polygon points="107.71,168.31 114.89,247.53 114.47,248.07" fill="#01c7d1"/>
<polygon points="107.71,168.31 114.47,248.07 113.96,248.58" fill="#02cbd5"/>
<polygon points="107.71,168.31 113.96,248.58 113.35,249.03" fill="#03d0d8"/>
<polygon points="113.32,253.85 120.34,178.51 127.32,254.1 127.26,254.72 127.08,255.34 126.78,255.93 126.37,256.49 125.86,257.01 125.25,257.47 124.55,257.88 123.78,258.22 122.95,258.49 122.07,258.68 121.16,258.78 120.24,258.81 119.32,258.75 118.42,258.61 117.55,258.39 116.72,258.09 115.96,257.73 115.28,257.29 114.69,256.81 114.19,256.27 113.8,255.7 113.52,255.1 113.36,254.48" fill="#0af0f2"/>
<polygon points="120.34,178.51 125.25,257.47 124.55,257.88" fill="#04d5dc"/>
<polygon points="120.34,178.51 124.55,257.88 123.78,258.22" fill="#06dbe1"/>
<polygon points="120.34,178.51 123.78,258.22 122.95,258.49" fill="#07e2e7"/>
<polygon points="120.34,178.51 122.95,258.49 122.07,258.68" fill="#09e9ed"/>
<polygon points="120.34,178.51 122.07,258.68 121.16,258.78" fill="#0bf0f2"/>
<polygon points="120.34,178.51 121.16,258.78 120.24,258.81" fill="#11f4f5"/>
<polygon points="120.34,178.51 120.24,258.81 119.32,258.75" fill="#18f7f8"/>
<polygon points="120.34,178.51 119.32,258.75 118.42,258.61" fill="#1efafb"/>
<polygon points="120.34,178.51 118.42,258.61 117.55,258.39" fill="#25fdfe"/>
<polygon points="120.34,178.51 117.55,258.39 116.72,258.09" fill="#25fcfd"/>
<polygon points="120.34,178.51 116.72,258.09 115.96,257.73" fill="#1ff7f9"/>
<polygon points="120.34,178.51 115.96,257.73 115.28,257.29" fill="#1af2f5"/>
<polygon points="120.34,178.51 115.28,257.29 114.69,256.81" fill="#15eef1"/>
<polygon points="120.34,178.51 114.69,256.81 114.19,256.27" fill="#11eaee"/>
<polygon points="120.34,178.51 114.19,256.27 113.8,255.7" fill="#0de7ec"/>
<polygon points="120.34,178.51 113.8,255.7 113.52,255.1" fill="#0be4ea"/>
<polygon points="120.34,178.51 113.52,255.1 113.36,254.48" fill="#09e3e9"/>
<polygon points="120.34,178.51 113.36,254.48 113.32,253.85" fill="#08e2e8"/>
<polygon points="120.34,178.51 127.32,254.1 127.26,254.72" fill="#00c0cc"/>
<polygon points="120.34,178.51 127.26,254.72 127.08,255.34" fill="#00c1cd"/>
<polygon points="120.34,178.51 127.08,255.34 126.78,255.93" fill="#01c3cf"/>
<polygon points="120.34,178.51 126.78,255.93 126.37,256.49" fill="#01c6d1"/>
<polygon points="120.34,178.51 126.37,256.49 125.86,257.01" fill="#02cad4"/>
<polygon points="120.34,178.51 125.86,257.01 125.25,257.47" fill="#03cfd8"/>
<polygon points="125.32,262.45 125.39,261.81 133.35,189.87 139.57,262.71 139.52,263.36 139.35,263.99 139.07,264.61 138.66,265.18 138.15,265.72 137.54,266.2 136.84,266.62 136.07,266.97 135.23,267.24 134.34,267.44 133.42,267.55 132.48,267.58 131.54,267.52 130.62,267.37 129.73,267.14 128.89,266.83 128.11,266.46 127.4,266.01 126.79,265.51 126.27,264.95 125.86,264.36 125.56,263.74 125.38,263.1" fill="#0af0f2"/>
<polygon points="133.35,189.87 137.54,266.2 136.84,266.62" fill="#04d4dc"/>
<polygon points="133.35,189.87 136.84,266.62 136.07,266.97" fill="#05dae1"/>
<polygon points="133.35,189.87 136.07,266.97 135.23,267.24" fill="#07e1e6"/>
<polygon points="133.35,189.87 135.23,267.24 134.34,267.44" fill="#08e8ec"/>
<polygon points="133.35,189.87 134.34,267.44 133.42,267.55" fill="#0af0f2"/>
<polygon points="133.35,189.87 133.42,267.55 132.48,267.58" fill="#10f3f5"/>
<polygon points="133.35,189.87 132.48,267.58 131.54,267.52" fill="#17f7f8"/>
<polygon points="133.35,189.87 131.54,267.52 130.62,267.37" fill="#1efafa"/>
<polygon points="133.35,189.87 130.62,267.37 129.73,267.14" fill="#24fdfd"/>
<polygon points="133.35,189.87 129.73,267.14 128.89,266.83" fill="#26fdfd"/>
<polygon points="133.35,189.87 128.89,266.83 128.11,266.46" fill="#20f8f9"/>
<polygon points="133.35,189.87 128.11,266.46 127.4,266.01" fill="#1af2f5"/>
<polygon points="133.35,189.87 127.4,266.01 126.79,265.51" fill="#15eef2"/>
<polygon points="133.35,189.87 126.79,265.51 126.27,264.95" fill="#11eaee"/>
<polygon points="133.35,189.87 126.27,264.95 125.86,264.36" fill="#0ee7ec"/>
<polygon points="133.35,189.87 125.86,264.36 125.56,263.74" fill="#0be5ea"/>
<polygon points="133.35,189.87 125.56,263.74 125.38,263.1" fill="#09e3e9"/>
<polygon points="133.35,189.87 125.38,263.1 125.32,262.45" fill="#08e2e8"/>
<polygon points="133.35,189.87 125.32,262.45 125.39,261.81" fill="#08e2e8"/>
<polygon points="133.35,189.87 139.57,262.71 139.52,263.36" fill="#00c0cc"/>
<polygon points="133.35,189.87 139.52,263.36 139.35,263.99" fill="#00c1cd"/>
<polygon points="133.35,189.87 139.35,263.99 139.07,264.61" fill="#01c3ce"/>
<polygon points="133.35,189.87 139.07,264.61 138.66,265.18" fill="#01c6d1"/>
<polygon points="133.35,189.87 138.66,265.18 138.15,265.72" fill="#02cad4"/>
<polygon points="133.35,189.87 138.15,265.72 137.54,266.2" fill="#03cfd8"/>
<path d="M8.15,80.95 C9.8,82.25 14.68,86 18.02,88.79 C21.37,91.59 24.83,95.3 28.23,97.7 C31.63,100.11 34.9,99.99 38.45,103.25 C42,106.5 45.84,113.53 49.51,117.25 C53.18,120.98 56.75,122.58 60.47,125.61 C64.18,128.65 67.95,131.78 71.79,135.46 C75.63,139.14 79.56,144.11 83.5,147.7 C87.44,151.29 91.39,153.83 95.42,156.98 C99.45,160.14 103.54,163.32 107.69,166.63 C111.85,169.94 116.07,173.23 120.34,176.83 C124.62,180.42 131.2,186.29 133.37,188.18" fill="none" stroke="#00eef0" stroke-width="1.45" stroke-linejoin="round" stroke-linecap="round"/>
</g>
<g>
<polygon points="379.6,137.33 519.21,213.56 535.54,62.3 377.68,2.55" fill="#fff"/>
<g stroke="#dcdcdc" stroke-width="0.6"><line x1="391.66" y1="143.92" x2="391.08" y2="7.63" /><line x1="416.92" y1="157.71" x2="419.28" y2="18.3" /><line x1="443.81" y1="172.39" x2="449.51" y2="29.74" /><line x1="472.47" y1="188.04" x2="482" y2="42.04" /><line x1="503.1" y1="204.76" x2="517" y2="55.28" /><line x1="379.35" y1="119.75" x2="521.31" y2="194.16" /><line x1="379.09" y1="101.66" x2="523.47" y2="174.1" /><line x1="378.83" y1="83.02" x2="525.71" y2="153.32" /><line x1="378.55" y1="63.82" x2="528.04" y2="131.8" /><line x1="378.27" y1="44.03" x2="530.44" y2="109.48" /><line x1="377.98" y1="23.61" x2="532.94" y2="86.33" /><line x1="391.66" y1="143.92" x2="273.35" y2="204.61" /><line x1="416.92" y1="157.71" x2="297.88" y2="222.42" /><line x1="443.81" y1="172.39" x2="324.2" y2="241.54" /><line x1="472.47" y1="188.04" x2="352.52" y2="262.11" /><line x1="503.1" y1="204.76" x2="383.07" y2="284.3" /><line x1="366.36" y1="143.94" x2="506.02" y2="222.64" /><line x1="338.7" y1="157.74" x2="478.22" y2="241.76" /><line x1="309.33" y1="172.39" x2="448.38" y2="262.29" /><line x1="278.09" y1="187.98" x2="416.27" y2="284.38" /></g>
<g stroke="#9a9a9a" stroke-width="0.7"><line x1="377.68" y1="2.55" x2="535.54" y2="62.3" /><line x1="377.68" y1="2.55" x2="379.6" y2="137.33" /><line x1="379.6" y1="137.33" x2="261.71" y2="196.15" /><line x1="379.6" y1="137.33" x2="519.21" y2="213.56" /></g>
<g stroke="#222" stroke-width="0.8" fill="none"><line x1="519.21" y1="213.56" x2="535.54" y2="62.3" /><line x1="261.71" y1="196.15" x2="399.27" y2="296.07" /><line x1="519.21" y1="213.56" x2="399.27" y2="296.07" /><line x1="519.21" y1="213.56" x2="521.81" y2="213.56"/><line x1="520.25" y1="203.94" x2="521.75" y2="203.94"/><line x1="521.31" y1="194.16" x2="523.91" y2="194.16"/><line x1="522.38" y1="184.22" x2="523.88" y2="184.22"/><line x1="523.47" y1="174.1" x2="526.07" y2="174.1"/><line x1="524.58" y1="163.8" x2="526.08" y2="163.8"/><line x1="525.71" y1="153.32" x2="528.31" y2="153.32"/><line x1="526.87" y1="142.65" x2="528.37" y2="142.65"/><line x1="528.04" y1="131.8" x2="530.64" y2="131.8"/><line x1="529.23" y1="120.74" x2="530.73" y2="120.74"/><line x1="530.44" y1="109.48" x2="533.04" y2="109.48"/><line x1="531.68" y1="98.01" x2="533.18" y2="98.01"/><line x1="532.94" y1="86.33" x2="535.54" y2="86.33"/><line x1="534.23" y1="74.43" x2="535.73" y2="74.43"/><line x1="535.54" y1="62.3" x2="538.14" y2="62.3"/><line x1="273.35" y1="204.61" x2="271.01" y2="205.81" /><line x1="285.4" y1="213.36" x2="283.99" y2="214.11" /><line x1="297.88" y1="222.42" x2="295.51" y2="223.71" /><line x1="310.8" y1="231.81" x2="309.37" y2="232.61" /><line x1="324.2" y1="241.54" x2="321.8" y2="242.92" /><line x1="338.09" y1="251.63" x2="336.65" y2="252.49" /><line x1="352.52" y1="262.11" x2="350.1" y2="263.6" /><line x1="367.5" y1="272.99" x2="366.05" y2="273.92" /><line x1="383.07" y1="284.3" x2="380.64" y2="285.91" /><line x1="506.02" y1="222.64" x2="510.31" y2="225.06" /><line x1="492.36" y1="232.03" x2="495" y2="233.57" /><line x1="478.22" y1="241.76" x2="482.53" y2="244.36" /><line x1="463.57" y1="251.84" x2="466.22" y2="253.49" /><line x1="448.38" y1="262.29" x2="452.7" y2="265.08" /><line x1="432.62" y1="273.13" x2="435.28" y2="274.91" /><line x1="416.27" y1="284.38" x2="420.59" y2="287.4" /></g>
<text class="tl" transform="matrix(0.88,0.48,-0.11,0.99,525.21,217.16)" text-anchor="middle" dy="0.35em" font-size="7">0</text><text class="tl" transform="matrix(0.89,0.46,-0.11,0.99,527.31,197.76)" text-anchor="middle" dy="0.35em" font-size="7">1</text><text class="tl" transform="matrix(0.89,0.45,-0.11,0.99,529.47,177.7)" text-anchor="middle" dy="0.35em" font-size="7">2</text><text class="tl" transform="matrix(0.9,0.43,-0.11,0.99,531.71,156.92)" text-anchor="middle" dy="0.35em" font-size="7">3</text><text class="tl" transform="matrix(0.91,0.41,-0.11,0.99,534.04,135.4)" text-anchor="middle" dy="0.35em" font-size="7">4</text><text class="tl" transform="matrix(0.92,0.4,-0.11,0.99,536.44,113.08)" text-anchor="middle" dy="0.35em" font-size="7">5</text><text class="tl" transform="matrix(0.93,0.38,-0.11,0.99,538.94,89.93)" text-anchor="middle" dy="0.35em" font-size="7">6</text><text class="tl" transform="matrix(0.94,0.35,-0.11,0.99,541.54,65.9)" text-anchor="middle" dy="0.35em" font-size="7">7</text><text class="ss" transform="translate(540.2,118.6) rotate(93.5)" font-size="10">Sensory Score</text><text class="tl" transform="matrix(0.89,-0.46,0.8,0.6,264.92,208.94)" x="0" y="0" dy="0.35em" text-anchor="middle" font-size="7">0</text><text class="tl" transform="matrix(0.88,-0.48,0.8,0.6,289.35,227.06)" x="0" y="0" dy="0.35em" text-anchor="middle" font-size="7">5</text><text class="tl" transform="matrix(0.87,-0.5,0.8,0.6,315.59,246.52)" x="0" y="0" dy="0.35em" text-anchor="middle" font-size="7">10</text><text class="tl" transform="matrix(0.85,-0.53,0.8,0.6,343.84,267.47)" x="0" y="0" dy="0.35em" text-anchor="middle" font-size="7">15</text><text class="tl" transform="matrix(0.83,-0.55,0.8,0.6,374.34,290.09)" x="0" y="0" dy="0.35em" text-anchor="middle" font-size="7">20</text><text class="tl" transform="matrix(0.87,0.49,-0.82,0.57,510.11,224.94)" x="0" y="0" dy="0.35em" text-anchor="start" font-size="7.4">#1</text><text class="tl" transform="matrix(0.86,0.52,-0.82,0.57,482.33,244.24)" x="0" y="0" dy="0.35em" text-anchor="start" font-size="7.4">#2</text><text class="tl" transform="matrix(0.84,0.54,-0.82,0.57,452.5,264.96)" x="0" y="0" dy="0.35em" text-anchor="start" font-size="7.4">#3</text><text class="tl" transform="matrix(0.82,0.57,-0.82,0.57,420.39,287.26)" x="0" y="0" dy="0.35em" text-anchor="start" font-size="7.4">#4</text>
<polygon points="368.58,150.65 376.63,35.28 388.17,150.1 388.23,150.79 388.12,151.48 387.84,152.16 387.39,152.82 386.79,153.44 386.05,154.02 385.17,154.54 384.17,154.99 383.07,155.38 381.89,155.68 380.65,155.9 379.37,156.03 378.07,156.06 376.77,156.01 375.51,155.86 374.29,155.63 373.15,155.31 372.1,154.91 371.16,154.44 370.35,153.9 369.68,153.32 369.16,152.69 368.8,152.03 368.61,151.34" fill="#96cc06"/>
<polygon points="376.63,35.28 385.17,154.54 384.17,154.99" fill="#81b303"/>
<polygon points="376.63,35.28 384.17,154.99 383.07,155.38" fill="#86b904"/>
<polygon points="376.63,35.28 383.07,155.38 381.89,155.68" fill="#8cc004"/>
<polygon points="376.63,35.28 381.89,155.68 380.65,155.9" fill="#92c705"/>
<polygon points="376.63,35.28 380.65,155.9 379.37,156.03" fill="#97cd06"/>
<polygon points="376.63,35.28 379.37,156.03 378.07,156.06" fill="#9ad008"/>
<polygon points="376.63,35.28 378.07,156.06 376.77,156.01" fill="#9ed30a"/>
<polygon points="376.63,35.28 376.77,156.01 375.51,155.86" fill="#a1d60c"/>
<polygon points="376.63,35.28 375.51,155.86 374.29,155.63" fill="#a5d90d"/>
<polygon points="376.63,35.28 374.29,155.63 373.15,155.31" fill="#a2d70d"/>
<polygon points="376.63,35.28 373.15,155.31 372.1,154.91" fill="#9dd20b"/>
<polygon points="376.63,35.28 372.1,154.91 371.16,154.44" fill="#98cd0a"/>
<polygon points="376.63,35.28 371.16,154.44 370.35,153.9" fill="#94ca09"/>
<polygon points="376.63,35.28 370.35,153.9 369.68,153.32" fill="#91c608"/>
<polygon points="376.63,35.28 369.68,153.32 369.16,152.69" fill="#8ec407"/>
<polygon points="376.63,35.28 369.16,152.69 368.8,152.03" fill="#8cc207"/>
<polygon points="376.63,35.28 368.8,152.03 368.61,151.34" fill="#8bc106"/>
<polygon points="376.63,35.28 368.61,151.34 368.58,150.65" fill="#8ac006"/>
<polygon points="376.63,35.28 388.17,150.1 388.23,150.79" fill="#709e00"/>
<polygon points="376.63,35.28 388.23,150.79 388.12,151.48" fill="#709e00"/>
<polygon points="376.63,35.28 388.12,151.48 387.84,152.16" fill="#719f00"/>
<polygon points="376.63,35.28 387.84,152.16 387.39,152.82" fill="#73a200"/>
<polygon points="376.63,35.28 387.39,152.82 386.79,153.44" fill="#75a501"/>
<polygon points="376.63,35.28 386.79,153.44 386.05,154.02" fill="#79a901"/>
<polygon points="376.63,35.28 386.05,154.02 385.17,154.54" fill="#7dad02"/>
<polygon points="393.49,164.86 404.25,57.7 413.78,165.02 413.7,165.75 413.45,166.47 413.03,167.17 412.45,167.83 411.71,168.44 410.83,169 409.83,169.48 408.72,169.89 407.51,170.21 406.24,170.45 404.92,170.58 403.58,170.62 402.24,170.56 400.93,170.4 399.66,170.15 398.47,169.81 397.36,169.39 396.37,168.89 395.5,168.32 394.77,167.69 394.2,167.02 393.79,166.32 393.55,165.6" fill="#96cc06"/>
<polygon points="404.25,57.7 410.83,169 409.83,169.48" fill="#80b203"/>
<polygon points="404.25,57.7 409.83,169.48 408.72,169.89" fill="#85b803"/>
<polygon points="404.25,57.7 408.72,169.89 407.51,170.21" fill="#8bbe04"/>
<polygon points="404.25,57.7 407.51,170.21 406.24,170.45" fill="#90c505"/>
<polygon points="404.25,57.7 406.24,170.45 404.92,170.58" fill="#96cc06"/>
<polygon points="404.25,57.7 404.92,170.58 403.58,170.62" fill="#9acf08"/>
<polygon points="404.25,57.7 403.58,170.62 402.24,170.56" fill="#9dd20a"/>
<polygon points="404.25,57.7 402.24,170.56 400.93,170.4" fill="#a1d50b"/>
<polygon points="404.25,57.7 400.93,170.4 399.66,170.15" fill="#a4d80d"/>
<polygon points="404.25,57.7 399.66,170.15 398.47,169.81" fill="#a4d80d"/>
<polygon points="404.25,57.7 398.47,169.81 397.36,169.39" fill="#9ed30c"/>
<polygon points="404.25,57.7 397.36,169.39 396.37,168.89" fill="#9ace0a"/>
<polygon points="404.25,57.7 396.37,168.89 395.5,168.32" fill="#95ca09"/>
<polygon points="404.25,57.7 395.5,168.32 394.77,167.69" fill="#92c708"/>
<polygon points="404.25,57.7 394.77,167.69 394.2,167.02" fill="#8fc407"/>
<polygon points="404.25,57.7 394.2,167.02 393.79,166.32" fill="#8cc207"/>
<polygon points="404.25,57.7 393.79,166.32 393.55,165.6" fill="#8bc106"/>
<polygon points="404.25,57.7 393.55,165.6 393.49,164.86" fill="#8ac006"/>
<polygon points="404.25,57.7 413.78,165.02 413.7,165.75" fill="#709e00"/>
<polygon points="404.25,57.7 413.7,165.75 413.45,166.47" fill="#719f00"/>
<polygon points="404.25,57.7 413.45,166.47 413.03,167.17" fill="#73a100"/>
<polygon points="404.25,57.7 413.03,167.17 412.45,167.83" fill="#75a401"/>
<polygon points="404.25,57.7 412.45,167.83 411.71,168.44" fill="#78a801"/>
<polygon points="404.25,57.7 411.71,168.44 410.83,169" fill="#7cac02"/>
<polygon points="420.02,180 420.09,179.22 433.47,77.07 440.99,180.17 440.95,180.95 440.74,181.72 440.34,182.46 439.78,183.17 439.06,183.82 438.18,184.41 437.17,184.93 436.05,185.36 434.82,185.71 433.52,185.95 432.17,186.1 430.79,186.14 429.4,186.07 428.03,185.91 426.71,185.64 425.45,185.27 424.28,184.82 423.23,184.29 422.3,183.68 421.51,183.02 420.88,182.3 420.42,181.55 420.13,180.78" fill="#96cc06"/>
<polygon points="433.47,77.07 438.18,184.41 437.17,184.93" fill="#7fb002"/>
<polygon points="433.47,77.07 437.17,184.93 436.05,185.36" fill="#84b603"/>
<polygon points="433.47,77.07 436.05,185.36 434.82,185.71" fill="#89bc04"/>
<polygon points="433.47,77.07 434.82,185.71 433.52,185.95" fill="#8fc305"/>
<polygon points="433.47,77.07 433.52,185.95 432.17,186.1" fill="#95cb06"/>
<polygon points="433.47,77.07 432.17,186.1 430.79,186.14" fill="#99ce07"/>
<polygon points="433.47,77.07 430.79,186.14 429.4,186.07" fill="#9cd209"/>
<polygon points="433.47,77.07 429.4,186.07 428.03,185.91" fill="#a0d50b"/>
<polygon points="433.47,77.07 428.03,185.91 426.71,185.64" fill="#a3d80d"/>
<polygon points="433.47,77.07 426.71,185.64 425.45,185.27" fill="#a5d90e"/>
<polygon points="433.47,77.07 425.45,185.27 424.28,184.82" fill="#a0d40c"/>
<polygon points="433.47,77.07 424.28,184.82 423.23,184.29" fill="#9bcf0b"/>
<polygon points="433.47,77.07 423.23,184.29 422.3,183.68" fill="#96cb09"/>
<polygon points="433.47,77.07 422.3,183.68 421.51,183.02" fill="#92c808"/>
<polygon points="433.47,77.07 421.51,183.02 420.88,182.3" fill="#8fc507"/>
<polygon points="433.47,77.07 420.88,182.3 420.42,181.55" fill="#8dc307"/>
<polygon points="433.47,77.07 420.42,181.55 420.13,180.78" fill="#8bc106"/>
<polygon points="433.47,77.07 420.13,180.78 420.02,180" fill="#8ac006"/>
<polygon points="433.47,77.07 420.02,180 420.09,179.22" fill="#8ac006"/>
<polygon points="433.47,77.07 440.99,180.17 440.95,180.95" fill="#709e00"/>
<polygon points="433.47,77.07 440.95,180.95 440.74,181.72" fill="#719f00"/>
<polygon points="433.47,77.07 440.74,181.72 440.34,182.46" fill="#72a000"/>
<polygon points="433.47,77.07 440.34,182.46 439.78,183.17" fill="#74a301"/>
<polygon points="433.47,77.07 439.78,183.17 439.06,183.82" fill="#77a701"/>
<polygon points="433.47,77.07 439.06,183.82 438.18,184.41" fill="#7bab02"/>
<polygon points="448.34,196.15 448.36,195.32 464.37,100.43 470.03,196.34 470.04,197.17 469.87,197.99 469.51,198.79 468.97,199.54 468.26,200.24 467.39,200.87 466.38,201.42 465.24,201.89 464,202.25 462.67,202.52 461.27,202.67 459.85,202.71 458.41,202.64 456.98,202.46 455.59,202.18 454.27,201.79 453.04,201.3 451.91,200.73 450.91,200.09 450.06,199.37 449.36,198.61 448.84,197.81 448.5,196.98" fill="#96cc06"/>
<polygon points="464.37,100.43 467.39,200.87 466.38,201.42" fill="#7eaf02"/>
<polygon points="464.37,100.43 466.38,201.42 465.24,201.89" fill="#83b403"/>
<polygon points="464.37,100.43 465.24,201.89 464,202.25" fill="#88bb04"/>
<polygon points="464.37,100.43 464,202.25 462.67,202.52" fill="#8dc205"/>
<polygon points="464.37,100.43 462.67,202.52 461.27,202.67" fill="#93c906"/>
<polygon points="464.37,100.43 461.27,202.67 459.85,202.71" fill="#98ce07"/>
<polygon points="464.37,100.43 459.85,202.71 458.41,202.64" fill="#9bd109"/>
<polygon points="464.37,100.43 458.41,202.64 456.98,202.46" fill="#9fd40b"/>
<polygon points="464.37,100.43 456.98,202.46 455.59,202.18" fill="#a2d70c"/>
<polygon points="464.37,100.43 455.59,202.18 454.27,201.79" fill="#a6da0e"/>
<polygon points="464.37,100.43 454.27,201.79 453.04,201.3" fill="#a1d50d"/>
<polygon points="464.37,100.43 453.04,201.3 451.91,200.73" fill="#9cd10b"/>
<polygon points="464.37,100.43 451.91,200.73 450.91,200.09" fill="#97cc0a"/>
<polygon points="464.37,100.43 450.91,200.09 450.06,199.37" fill="#93c909"/>
<polygon points="464.37,100.43 450.06,199.37 449.36,198.61" fill="#90c508"/>
<polygon points="464.37,100.43 449.36,198.61 448.84,197.81" fill="#8dc307"/>
<polygon points="464.37,100.43 448.84,197.81 448.5,196.98" fill="#8bc106"/>
<polygon points="464.37,100.43 448.5,196.98 448.34,196.15" fill="#8ac006"/>
<polygon points="464.37,100.43 448.34,196.15 448.36,195.32" fill="#8ac006"/>
<polygon points="464.37,100.43 470.03,196.34 470.04,197.17" fill="#709e00"/>
<polygon points="464.37,100.43 470.04,197.17 469.87,197.99" fill="#709e00"/>
<polygon points="464.37,100.43 469.87,197.99 469.51,198.79" fill="#72a000"/>
<polygon points="464.37,100.43 469.51,198.79 468.97,199.54" fill="#74a201"/>
<polygon points="464.37,100.43 468.97,199.54 468.26,200.24" fill="#76a601"/>
<polygon points="464.37,100.43 468.26,200.24 467.39,200.87" fill="#7aaa02"/>
<polygon points="478.6,212.54 478.77,211.67 497.23,123.67 501.17,214.53 501.04,215.41 500.72,216.26 500.21,217.07 499.52,217.81 498.66,218.49 497.64,219.08 496.49,219.58 495.23,219.97 493.87,220.25 492.43,220.41 490.96,220.46 489.46,220.39 487.97,220.19 486.52,219.88 485.12,219.47 483.81,218.95 482.61,218.34 481.54,217.64 480.61,216.88 479.84,216.06 479.25,215.2 478.84,214.32 478.62,213.43" fill="#96cc06"/>
<polygon points="497.23,123.67 498.66,218.49 497.64,219.08" fill="#7dad02"/>
<polygon points="497.23,123.67 497.64,219.08 496.49,219.58" fill="#81b303"/>
<polygon points="497.23,123.67 496.49,219.58 495.23,219.97" fill="#86b904"/>
<polygon points="497.23,123.67 495.23,219.97 493.87,220.25" fill="#8cc004"/>
<polygon points="497.23,123.67 493.87,220.25 492.43,220.41" fill="#92c705"/>
<polygon points="497.23,123.67 492.43,220.41 490.96,220.46" fill="#97cd07"/>
<polygon points="497.23,123.67 490.96,220.46 489.46,220.39" fill="#9bd008"/>
<polygon points="497.23,123.67 489.46,220.39 487.97,220.19" fill="#9ed30a"/>
<polygon points="497.23,123.67 487.97,220.19 486.52,219.88" fill="#a2d60c"/>
<polygon points="497.23,123.67 486.52,219.88 485.12,219.47" fill="#a5d90d"/>
<polygon points="497.23,123.67 485.12,219.47 483.81,218.95" fill="#a2d70d"/>
<polygon points="497.23,123.67 483.81,218.95 482.61,218.34" fill="#9dd20b"/>
<polygon points="497.23,123.67 482.61,218.34 481.54,217.64" fill="#98cd0a"/>
<polygon points="497.23,123.67 481.54,217.64 480.61,216.88" fill="#94ca09"/>
<polygon points="497.23,123.67 480.61,216.88 479.84,216.06" fill="#91c608"/>
<polygon points="497.23,123.67 479.84,216.06 479.25,215.2" fill="#8ec407"/>
<polygon points="497.23,123.67 479.25,215.2 478.84,214.32" fill="#8cc207"/>
<polygon points="497.23,123.67 478.84,214.32 478.62,213.43" fill="#8bc106"/>
<polygon points="497.23,123.67 478.62,213.43 478.6,212.54" fill="#8ac006"/>
<polygon points="497.23,123.67 478.6,212.54 478.77,211.67" fill="#8ac006"/>
<polygon points="497.23,123.67 501.17,214.53 501.04,215.41" fill="#709e00"/>
<polygon points="497.23,123.67 501.04,215.41 500.72,216.26" fill="#719f00"/>
<polygon points="497.23,123.67 500.72,216.26 500.21,217.07" fill="#73a200"/>
<polygon points="497.23,123.67 500.21,217.07 499.52,217.81" fill="#76a501"/>
<polygon points="497.23,123.67 499.52,217.81 498.66,218.49" fill="#79a901"/>
<path d="M376.59,32.73 C381.2,36.46 394.77,48.17 404.26,55.12 C413.76,62.08 423.51,67.35 433.55,74.46 C443.59,81.57 453.86,90.03 464.51,97.79 C475.16,105.55 491.96,117.13 497.45,121" fill="none" stroke="#96cc14" stroke-width="1.7" stroke-linejoin="round" stroke-linecap="round"/>
<polygon points="340.54,165.61 340.56,164.87 346.78,65.28 360.77,164.29 360.78,165.03 360.62,165.76 360.29,166.48 359.8,167.18 359.14,167.84 358.34,168.45 357.4,169 356.35,169.49 355.19,169.9 353.95,170.22 352.66,170.45 351.33,170.59 349.99,170.62 348.66,170.57 347.37,170.41 346.13,170.16 344.97,169.82 343.92,169.39 342.98,168.89 342.18,168.33 341.53,167.7 341.03,167.03 340.7,166.33" fill="#083a90"/>
<polygon points="346.78,65.28 357.4,169 356.35,169.49" fill="#052e78"/>
<polygon points="346.78,65.28 356.35,169.49 355.19,169.9" fill="#06317e"/>
<polygon points="346.78,65.28 355.19,169.9 353.95,170.22" fill="#073485"/>
<polygon points="346.78,65.28 353.95,170.22 352.66,170.45" fill="#08388c"/>
<polygon points="346.78,65.28 352.66,170.45 351.33,170.59" fill="#093c92"/>
<polygon points="346.78,65.28 351.33,170.59 349.99,170.62" fill="#0b3f95"/>
<polygon points="346.78,65.28 349.99,170.62 348.66,170.57" fill="#0c4299"/>
<polygon points="346.78,65.28 348.66,170.57 347.37,170.41" fill="#0e459c"/>
<polygon points="346.78,65.28 347.37,170.41 346.13,170.16" fill="#1048a0"/>
<polygon points="346.78,65.28 346.13,170.16 344.97,169.82" fill="#0f449a"/>
<polygon points="346.78,65.28 344.97,169.82 343.92,169.39" fill="#0d3f95"/>
<polygon points="346.78,65.28 343.92,169.39 342.98,168.89" fill="#0c3b8f"/>
<polygon points="346.78,65.28 342.98,168.89 342.18,168.33" fill="#0b388b"/>
<polygon points="346.78,65.28 342.18,168.33 341.53,167.7" fill="#0a3587"/>
<polygon points="346.78,65.28 341.53,167.7 341.03,167.03" fill="#093384"/>
<polygon points="346.78,65.28 341.03,167.03 340.7,166.33" fill="#083182"/>
<polygon points="346.78,65.28 340.7,166.33 340.54,165.61" fill="#083080"/>
<polygon points="346.78,65.28 340.54,165.61 340.56,164.87" fill="#083080"/>
<polygon points="346.78,65.28 360.77,164.29 360.78,165.03" fill="#022262"/>
<polygon points="346.78,65.28 360.78,165.03 360.62,165.76" fill="#022262"/>
<polygon points="346.78,65.28 360.62,165.76 360.29,166.48" fill="#022364"/>
<polygon points="346.78,65.28 360.29,166.48 359.8,167.18" fill="#032466"/>
<polygon points="346.78,65.28 359.8,167.18 359.14,167.84" fill="#032669"/>
<polygon points="346.78,65.28 359.14,167.84 358.34,168.45" fill="#04286e"/>
<polygon points="346.78,65.28 358.34,168.45 357.4,169" fill="#042b73"/>
<polygon points="365.34,179.99 374.1,86.54 386.18,179.38 386.24,180.16 386.12,180.94 385.81,181.71 385.34,182.45 384.7,183.16 383.9,183.81 382.96,184.4 381.9,184.92 380.73,185.35 379.47,185.69 378.14,185.94 376.78,186.08 375.39,186.12 374.02,186.06 372.67,185.89 371.38,185.62 370.17,185.26 369.05,184.81 368.06,184.27 367.2,183.67 366.49,183.01 365.94,182.29 365.56,181.54 365.36,180.77" fill="#083a90"/>
<polygon points="374.1,86.54 382.96,184.4 381.9,184.92" fill="#052d77"/>
<polygon points="374.1,86.54 381.9,184.92 380.73,185.35" fill="#06307d"/>
<polygon points="374.1,86.54 380.73,185.35 379.47,185.69" fill="#063484"/>
<polygon points="374.1,86.54 379.47,185.69 378.14,185.94" fill="#07378b"/>
<polygon points="374.1,86.54 378.14,185.94 376.78,186.08" fill="#093b91"/>
<polygon points="374.1,86.54 376.78,186.08 375.39,186.12" fill="#0a3e95"/>
<polygon points="374.1,86.54 375.39,186.12 374.02,186.06" fill="#0c4198"/>
<polygon points="374.1,86.54 374.02,186.06 372.67,185.89" fill="#0e449c"/>
<polygon points="374.1,86.54 372.67,185.89 371.38,185.62" fill="#0f479f"/>
<polygon points="374.1,86.54 371.38,185.62 370.17,185.26" fill="#0f459c"/>
<polygon points="374.1,86.54 370.17,185.26 369.05,184.81" fill="#0d4096"/>
<polygon points="374.1,86.54 369.05,184.81 368.06,184.27" fill="#0c3c90"/>
<polygon points="374.1,86.54 368.06,184.27 367.2,183.67" fill="#0b398c"/>
<polygon points="374.1,86.54 367.2,183.67 366.49,183.01" fill="#0a3688"/>
<polygon points="374.1,86.54 366.49,183.01 365.94,182.29" fill="#093384"/>
<polygon points="374.1,86.54 365.94,182.29 365.56,181.54" fill="#093282"/>
<polygon points="374.1,86.54 365.56,181.54 365.36,180.77" fill="#083081"/>
<polygon points="374.1,86.54 365.36,180.77 365.34,179.99" fill="#083080"/>
<polygon points="374.1,86.54 386.18,179.38 386.24,180.16" fill="#022262"/>
<polygon points="374.1,86.54 386.24,180.16 386.12,180.94" fill="#022262"/>
<polygon points="374.1,86.54 386.12,180.94 385.81,181.71" fill="#022364"/>
<polygon points="374.1,86.54 385.81,181.71 385.34,182.45" fill="#022466"/>
<polygon points="374.1,86.54 385.34,182.45 384.7,183.16" fill="#032669"/>
<polygon points="374.1,86.54 384.7,183.16 383.9,183.81" fill="#03286d"/>
<polygon points="374.1,86.54 383.9,183.81 382.96,184.4" fill="#042a71"/>
<polygon points="391.78,196.12 403.02,110.56 413.41,196.31 413.32,197.15 413.06,197.97 412.61,198.76 411.99,199.51 411.2,200.21 410.26,200.84 409.19,201.39 408,201.85 406.72,202.22 405.36,202.48 403.96,202.64 402.53,202.68 401.1,202.61 399.7,202.43 398.35,202.14 397.07,201.75 395.89,201.27 394.83,200.7 393.91,200.05 393.14,199.34 392.53,198.58 392.1,197.78 391.85,196.96" fill="#083a90"/>
<polygon points="403.02,110.56 410.26,200.84 409.19,201.39" fill="#052c76"/>
<polygon points="403.02,110.56 409.19,201.39 408,201.85" fill="#052f7c"/>
<polygon points="403.02,110.56 408,201.85 406.72,202.22" fill="#063382"/>
<polygon points="403.02,110.56 406.72,202.22 405.36,202.48" fill="#073689"/>
<polygon points="403.02,110.56 405.36,202.48 403.96,202.64" fill="#083a90"/>
<polygon points="403.02,110.56 403.96,202.64 402.53,202.68" fill="#0a3d94"/>
<polygon points="403.02,110.56 402.53,202.68 401.1,202.61" fill="#0c4097"/>
<polygon points="403.02,110.56 401.1,202.61 399.7,202.43" fill="#0d439b"/>
<polygon points="403.02,110.56 399.7,202.43 398.35,202.14" fill="#0f469e"/>
<polygon points="403.02,110.56 398.35,202.14 397.07,201.75" fill="#0f469d"/>
<polygon points="403.02,110.56 397.07,201.75 395.89,201.27" fill="#0e4197"/>
<polygon points="403.02,110.56 395.89,201.27 394.83,200.7" fill="#0c3d92"/>
<polygon points="403.02,110.56 394.83,200.7 393.91,200.05" fill="#0b3a8d"/>
<polygon points="403.02,110.56 393.91,200.05 393.14,199.34" fill="#0a3689"/>
<polygon points="403.02,110.56 393.14,199.34 392.53,198.58" fill="#093485"/>
<polygon points="403.02,110.56 392.53,198.58 392.1,197.78" fill="#093283"/>
<polygon points="403.02,110.56 392.1,197.78 391.85,196.96" fill="#083181"/>
<polygon points="403.02,110.56 391.85,196.96 391.78,196.12" fill="#083080"/>
<polygon points="403.02,110.56 413.41,196.31 413.32,197.15" fill="#022262"/>
<polygon points="403.02,110.56 413.32,197.15 413.06,197.97" fill="#022363"/>
<polygon points="403.02,110.56 413.06,197.97 412.61,198.76" fill="#022465"/>
<polygon points="403.02,110.56 412.61,198.76 411.99,199.51" fill="#032568"/>
<polygon points="403.02,110.56 411.99,199.51 411.2,200.21" fill="#03276c"/>
<polygon points="403.02,110.56 411.2,200.21 410.26,200.84" fill="#042970"/>
<polygon points="420.06,213.38 420.14,212.49 433.58,137.02 442.47,213.59 442.43,214.48 442.2,215.36 441.79,216.21 441.19,217.01 440.41,217.76 439.48,218.43 438.41,219.02 437.2,219.52 435.89,219.91 434.5,220.19 433.06,220.36 431.58,220.4 430.09,220.33 428.63,220.13 427.22,219.83 425.87,219.41 424.62,218.89 423.49,218.28 422.5,217.59 421.66,216.83 420.99,216.01 420.49,215.15 420.18,214.27" fill="#083a90"/>
<polygon points="433.58,137.02 439.48,218.43 438.41,219.02" fill="#042b74"/>
<polygon points="433.58,137.02 438.41,219.02 437.2,219.52" fill="#052e7a"/>
<polygon points="433.58,137.02 437.2,219.52 435.89,219.91" fill="#063280"/>
<polygon points="433.58,137.02 435.89,219.91 434.5,220.19" fill="#073587"/>
<polygon points="433.58,137.02 434.5,220.19 433.06,220.36" fill="#08398f"/>
<polygon points="433.58,137.02 433.06,220.36 431.58,220.4" fill="#093c93"/>
<polygon points="433.58,137.02 431.58,220.4 430.09,220.33" fill="#0b4096"/>
<polygon points="433.58,137.02 430.09,220.33 428.63,220.13" fill="#0d439a"/>
<polygon points="433.58,137.02 428.63,220.13 427.22,219.83" fill="#0f469d"/>
<polygon points="433.58,137.02 427.22,219.83 425.87,219.41" fill="#10479f"/>
<polygon points="433.58,137.02 425.87,219.41 424.62,218.89" fill="#0e4399"/>
<polygon points="433.58,137.02 424.62,218.89 423.49,218.28" fill="#0d3e93"/>
<polygon points="433.58,137.02 423.49,218.28 422.5,217.59" fill="#0b3a8e"/>
<polygon points="433.58,137.02 422.5,217.59 421.66,216.83" fill="#0a378a"/>
<polygon points="433.58,137.02 421.66,216.83 420.99,216.01" fill="#093486"/>
<polygon points="433.58,137.02 420.99,216.01 420.49,215.15" fill="#093283"/>
<polygon points="433.58,137.02 420.49,215.15 420.18,214.27" fill="#083181"/>
<polygon points="433.58,137.02 420.18,214.27 420.06,213.38" fill="#083080"/>
<polygon points="433.58,137.02 420.06,213.38 420.14,212.49" fill="#083080"/>
<polygon points="433.58,137.02 442.47,213.59 442.43,214.48" fill="#022262"/>
<polygon points="433.58,137.02 442.43,214.48 442.2,215.36" fill="#022263"/>
<polygon points="433.58,137.02 442.2,215.36 441.79,216.21" fill="#022364"/>
<polygon points="433.58,137.02 441.79,216.21 441.19,217.01" fill="#032567"/>
<polygon points="433.58,137.02 441.19,217.01 440.41,217.76" fill="#03266b"/>
<polygon points="433.58,137.02 440.41,217.76 439.48,218.43" fill="#04296f"/>
<polygon points="450.39,231.88 450.41,230.92 466.37,157.2 473.63,232.11 473.64,233.07 473.46,234.01 473.08,234.92 472.51,235.79 471.75,236.59 470.83,237.31 469.75,237.94 468.53,238.48 467.2,238.9 465.77,239.2 464.28,239.37 462.75,239.42 461.21,239.34 459.68,239.13 458.19,238.8 456.77,238.35 455.45,237.8 454.24,237.14 453.17,236.4 452.25,235.58 451.5,234.7 450.94,233.78 450.56,232.84" fill="#083a90"/>
<polygon points="466.37,157.2 470.83,237.31 469.75,237.94" fill="#042b73"/>
<polygon points="466.37,157.2 469.75,237.94 468.53,238.48" fill="#052e78"/>
<polygon points="466.37,157.2 468.53,238.48 467.2,238.9" fill="#06317f"/>
<polygon points="466.37,157.2 467.2,238.9 465.77,239.2" fill="#073485"/>
<polygon points="466.37,157.2 465.77,239.2 464.28,239.37" fill="#08388d"/>
<polygon points="466.37,157.2 464.28,239.37 462.75,239.42" fill="#093c92"/>
<polygon points="466.37,157.2 462.75,239.42 461.21,239.34" fill="#0b3f95"/>
<polygon points="466.37,157.2 461.21,239.34 459.68,239.13" fill="#0c4299"/>
<polygon points="466.37,157.2 459.68,239.13 458.19,238.8" fill="#0e459c"/>
<polygon points="466.37,157.2 458.19,238.8 456.77,238.35" fill="#1048a0"/>
<polygon points="466.37,157.2 456.77,238.35 455.45,237.8" fill="#0f449a"/>
<polygon points="466.37,157.2 455.45,237.8 454.24,237.14" fill="#0d3f94"/>
<polygon points="466.37,157.2 454.24,237.14 453.17,236.4" fill="#0c3b8f"/>
<polygon points="466.37,157.2 453.17,236.4 452.25,235.58" fill="#0b388b"/>
<polygon points="466.37,157.2 452.25,235.58 451.5,234.7" fill="#0a3587"/>
<polygon points="466.37,157.2 451.5,234.7 450.94,233.78" fill="#093384"/>
<polygon points="466.37,157.2 450.94,233.78 450.56,232.84" fill="#083182"/>
<polygon points="466.37,157.2 450.56,232.84 450.39,231.88" fill="#083080"/>
<polygon points="466.37,157.2 450.39,231.88 450.41,230.92" fill="#083080"/>
<polygon points="466.37,157.2 473.63,232.11 473.64,233.07" fill="#022262"/>
<polygon points="466.37,157.2 473.64,233.07 473.46,234.01" fill="#022262"/>
<polygon points="466.37,157.2 473.46,234.01 473.08,234.92" fill="#022364"/>
<polygon points="466.37,157.2 473.08,234.92 472.51,235.79" fill="#032466"/>
<polygon points="466.37,157.2 472.51,235.79 471.75,236.59" fill="#032669"/>
<polygon points="466.37,157.2 471.75,236.59 470.83,237.31" fill="#04286e"/>
<path d="M346.7,63.16 C351.26,66.7 364.68,76.86 374.06,84.4 C383.45,91.94 393.1,99.99 403.03,108.4 C412.96,116.81 423.07,127.08 433.65,134.85 C444.23,142.61 461.03,151.63 466.5,154.99" fill="none" stroke="#0a328a" stroke-width="1.7" stroke-linejoin="round" stroke-linecap="round"/>
<polygon points="310.72,180.76 314.21,72.14 331.65,179.37 331.62,180.15 331.41,180.93 331.02,181.7 330.46,182.44 329.75,183.15 328.88,183.8 327.88,184.39 326.76,184.9 325.54,185.34 324.25,185.68 322.9,185.92 321.52,186.07 320.13,186.11 318.76,186.05 317.44,185.88 316.18,185.61 315.01,185.25 313.95,184.8 313.02,184.26 312.23,183.66 311.59,183 311.13,182.28 310.83,181.53" fill="#fa3802"/>
<polygon points="314.21,72.14 327.88,184.39 326.76,184.9" fill="#e82e01"/>
<polygon points="314.21,72.14 326.76,184.9 325.54,185.34" fill="#ed3101"/>
<polygon points="314.21,72.14 325.54,185.34 324.25,185.68" fill="#f33402"/>
<polygon points="314.21,72.14 324.25,185.68 322.9,185.92" fill="#f93702"/>
<polygon points="314.21,72.14 322.9,185.92 321.52,186.07" fill="#fb3a03"/>
<polygon points="314.21,72.14 321.52,186.07 320.13,186.11" fill="#fc3c04"/>
<polygon points="314.21,72.14 320.13,186.11 318.76,186.05" fill="#fd3e04"/>
<polygon points="314.21,72.14 318.76,186.05 317.44,185.88" fill="#fe4005"/>
<polygon points="314.21,72.14 317.44,185.88 316.18,185.61" fill="#ff4206"/>
<polygon points="314.21,72.14 316.18,185.61 315.01,185.25" fill="#fd3f06"/>
<polygon points="314.21,72.14 315.01,185.25 313.95,184.8" fill="#fb3d05"/>
<polygon points="314.21,72.14 313.95,184.8 313.02,184.26" fill="#f93b05"/>
<polygon points="314.21,72.14 313.02,184.26 312.23,183.66" fill="#f73a05"/>
<polygon points="314.21,72.14 312.23,183.66 311.59,183" fill="#f63804"/>
<polygon points="314.21,72.14 311.59,183 311.13,182.28" fill="#f53704"/>
<polygon points="314.21,72.14 311.13,182.28 310.83,181.53" fill="#f43604"/>
<polygon points="314.21,72.14 310.83,181.53 310.72,180.76" fill="#f43604"/>
<polygon points="314.21,72.14 331.65,179.37 331.62,180.15" fill="#d42400"/>
<polygon points="314.21,72.14 331.62,180.15 331.41,180.93" fill="#d52400"/>
<polygon points="314.21,72.14 331.41,180.93 331.02,181.7" fill="#d62500"/>
<polygon points="314.21,72.14 331.02,181.7 330.46,182.44" fill="#d82600"/>
<polygon points="314.21,72.14 330.46,182.44 329.75,183.15" fill="#db2800"/>
<polygon points="314.21,72.14 329.75,183.15 328.88,183.8" fill="#df2a01"/>
<polygon points="314.21,72.14 328.88,183.8 327.88,184.39" fill="#e32c01"/>
<polygon points="335.34,196.93 335.36,196.1 341.53,91.41 356.91,195.45 356.92,196.29 356.74,197.12 356.38,197.94 355.85,198.73 355.14,199.48 354.28,200.18 353.28,200.81 352.14,201.36 350.91,201.82 349.59,202.19 348.2,202.45 346.78,202.6 345.35,202.64 343.94,202.58 342.56,202.4 341.24,202.11 340.01,201.72 338.89,201.24 337.9,200.67 337.05,200.02 336.36,199.31 335.84,198.55 335.5,197.75" fill="#fa3802"/>
<polygon points="341.53,91.41 353.28,200.81 352.14,201.36" fill="#e72e01"/>
<polygon points="341.53,91.41 352.14,201.36 350.91,201.82" fill="#ec3001"/>
<polygon points="341.53,91.41 350.91,201.82 349.59,202.19" fill="#f13302"/>
<polygon points="341.53,91.41 349.59,202.19 348.2,202.45" fill="#f73702"/>
<polygon points="341.53,91.41 348.2,202.45 346.78,202.6" fill="#fb3902"/>
<polygon points="341.53,91.41 346.78,202.6 345.35,202.64" fill="#fc3b03"/>
<polygon points="341.53,91.41 345.35,202.64 343.94,202.58" fill="#fd3e04"/>
<polygon points="341.53,91.41 343.94,202.58 342.56,202.4" fill="#fe4005"/>
<polygon points="341.53,91.41 342.56,202.4 341.24,202.11" fill="#ff4206"/>
<polygon points="341.53,91.41 341.24,202.11 340.01,201.72" fill="#fd4006"/>
<polygon points="341.53,91.41 340.01,201.72 338.89,201.24" fill="#fb3e05"/>
<polygon points="341.53,91.41 338.89,201.24 337.9,200.67" fill="#f93c05"/>
<polygon points="341.53,91.41 337.9,200.67 337.05,200.02" fill="#f83a05"/>
<polygon points="341.53,91.41 337.05,200.02 336.36,199.31" fill="#f63904"/>
<polygon points="341.53,91.41 336.36,199.31 335.84,198.55" fill="#f53704"/>
<polygon points="341.53,91.41 335.84,198.55 335.5,197.75" fill="#f53704"/>
<polygon points="341.53,91.41 335.5,197.75 335.34,196.93" fill="#f43604"/>
<polygon points="341.53,91.41 335.34,196.93 335.36,196.1" fill="#f43604"/>
<polygon points="341.53,91.41 356.91,195.45 356.92,196.29" fill="#d42400"/>
<polygon points="341.53,91.41 356.92,196.29 356.74,197.12" fill="#d42400"/>
<polygon points="341.53,91.41 356.74,197.12 356.38,197.94" fill="#d62500"/>
<polygon points="341.53,91.41 356.38,197.94 355.85,198.73" fill="#d82600"/>
<polygon points="341.53,91.41 355.85,198.73 355.14,199.48" fill="#da2700"/>
<polygon points="341.53,91.41 355.14,199.48 354.28,200.18" fill="#de2901"/>
<polygon points="341.53,91.41 354.28,200.18 353.28,200.81" fill="#e22b01"/>
<polygon points="361.65,213.33 370.8,118.43 383.92,212.65 383.98,213.54 383.84,214.43 383.52,215.31 383,216.16 382.32,216.96 381.46,217.7 380.46,218.38 379.32,218.97 378.06,219.46 376.71,219.85 375.29,220.13 373.83,220.3 372.35,220.34 370.88,220.27 369.44,220.08 368.06,219.77 366.77,219.35 365.58,218.84 364.52,218.22 363.61,217.53 362.85,216.77 362.27,215.96 361.88,215.1 361.67,214.22" fill="#fa3802"/>
<polygon points="370.8,118.43 380.46,218.38 379.32,218.97" fill="#e52d01"/>
<polygon points="370.8,118.43 379.32,218.97 378.06,219.46" fill="#eb3001"/>
<polygon points="370.8,118.43 378.06,219.46 376.71,219.85" fill="#f03301"/>
<polygon points="370.8,118.43 376.71,219.85 375.29,220.13" fill="#f63602"/>
<polygon points="370.8,118.43 375.29,220.13 373.83,220.3" fill="#fa3902"/>
<polygon points="370.8,118.43 373.83,220.3 372.35,220.34" fill="#fb3b03"/>
<polygon points="370.8,118.43 372.35,220.34 370.88,220.27" fill="#fd3d04"/>
<polygon points="370.8,118.43 370.88,220.27 369.44,220.08" fill="#fe3f05"/>
<polygon points="370.8,118.43 369.44,220.08 368.06,219.77" fill="#ff4106"/>
<polygon points="370.8,118.43 368.06,219.77 366.77,219.35" fill="#fd4006"/>
<polygon points="370.8,118.43 366.77,219.35 365.58,218.84" fill="#fb3e05"/>
<polygon points="370.8,118.43 365.58,218.84 364.52,218.22" fill="#fa3c05"/>
<polygon points="370.8,118.43 364.52,218.22 363.61,217.53" fill="#f83a05"/>
<polygon points="370.8,118.43 363.61,217.53 362.85,216.77" fill="#f73904"/>
<polygon points="370.8,118.43 362.85,216.77 362.27,215.96" fill="#f63804"/>
<polygon points="370.8,118.43 362.27,215.96 361.88,215.1" fill="#f53704"/>
<polygon points="370.8,118.43 361.88,215.1 361.67,214.22" fill="#f43604"/>
<polygon points="370.8,118.43 361.67,214.22 361.65,213.33" fill="#f43604"/>
<polygon points="370.8,118.43 383.92,212.65 383.98,213.54" fill="#d42400"/>
<polygon points="370.8,118.43 383.98,213.54 383.84,214.43" fill="#d42400"/>
<polygon points="370.8,118.43 383.84,214.43 383.52,215.31" fill="#d52500"/>
<polygon points="370.8,118.43 383.52,215.31 383,216.16" fill="#d72600"/>
<polygon points="370.8,118.43 383,216.16 382.32,216.96" fill="#da2700"/>
<polygon points="370.8,118.43 382.32,216.96 381.46,217.7" fill="#dd2900"/>
<polygon points="370.8,118.43 381.46,217.7 380.46,218.38" fill="#e12b01"/>
<polygon points="389.83,231.8 389.96,230.85 401.76,145.1 412.88,231.08 412.99,232.04 412.9,232.99 412.61,233.93 412.13,234.84 411.46,235.71 410.62,236.51 409.61,237.23 408.47,237.86 407.19,238.39 405.82,238.81 404.36,239.11 402.86,239.29 401.32,239.34 399.79,239.26 398.29,239.05 396.84,238.72 395.48,238.27 394.22,237.71 393.08,237.06 392.1,236.32 391.27,235.5 390.63,234.62 390.17,233.71 389.9,232.76" fill="#fa3802"/>
<polygon points="401.76,145.1 409.61,237.23 408.47,237.86" fill="#e42d01"/>
<polygon points="401.76,145.1 408.47,237.86 407.19,238.39" fill="#e92f01"/>
<polygon points="401.76,145.1 407.19,238.39 405.82,238.81" fill="#ef3201"/>
<polygon points="401.76,145.1 405.82,238.81 404.36,239.11" fill="#f43502"/>
<polygon points="401.76,145.1 404.36,239.11 402.86,239.29" fill="#fa3802"/>
<polygon points="401.76,145.1 402.86,239.29 401.32,239.34" fill="#fb3a03"/>
<polygon points="401.76,145.1 401.32,239.34 399.79,239.26" fill="#fc3d04"/>
<polygon points="401.76,145.1 399.79,239.26 398.29,239.05" fill="#fd3f05"/>
<polygon points="401.76,145.1 398.29,239.05 396.84,238.72" fill="#fe4106"/>
<polygon points="401.76,145.1 396.84,238.72 395.48,238.27" fill="#fe4106"/>
<polygon points="401.76,145.1 395.48,238.27 394.22,237.71" fill="#fc3f05"/>
<polygon points="401.76,145.1 394.22,237.71 393.08,237.06" fill="#fa3d05"/>
<polygon points="401.76,145.1 393.08,237.06 392.1,236.32" fill="#f83b05"/>
<polygon points="401.76,145.1 392.1,236.32 391.27,235.5" fill="#f73905"/>
<polygon points="401.76,145.1 391.27,235.5 390.63,234.62" fill="#f63804"/>
<polygon points="401.76,145.1 390.63,234.62 390.17,233.71" fill="#f53704"/>
<polygon points="401.76,145.1 390.17,233.71 389.9,232.76" fill="#f43604"/>
<polygon points="401.76,145.1 389.9,232.76 389.83,231.8" fill="#f43604"/>
<polygon points="401.76,145.1 389.83,231.8 389.96,230.85" fill="#f43604"/>
<polygon points="401.76,145.1 412.88,231.08 412.99,232.04" fill="#d42400"/>
<polygon points="401.76,145.1 412.99,232.04 412.9,232.99" fill="#d42400"/>
<polygon points="401.76,145.1 412.9,232.99 412.61,233.93" fill="#d52500"/>
<polygon points="401.76,145.1 412.61,233.93 412.13,234.84" fill="#d72500"/>
<polygon points="401.76,145.1 412.13,234.84 411.46,235.71" fill="#d92700"/>
<polygon points="401.76,145.1 411.46,235.71 410.62,236.51" fill="#dc2800"/>
<polygon points="401.76,145.1 410.62,236.51 409.61,237.23" fill="#e02a01"/>
<polygon points="420.12,251.66 420.2,250.63 434.87,166.98 444.16,251.92 444.13,252.95 443.89,253.96 443.44,254.94 442.8,255.86 441.97,256.72 440.97,257.5 439.82,258.18 438.53,258.75 437.12,259.2 435.63,259.53 434.08,259.72 432.49,259.77 430.89,259.68 429.32,259.46 427.8,259.1 426.36,258.62 425.02,258.02 423.8,257.31 422.73,256.51 421.83,255.63 421.11,254.69 420.57,253.7 420.24,252.69" fill="#fa3802"/>
<polygon points="434.87,166.98 440.97,257.5 439.82,258.18" fill="#e32c01"/>
<polygon points="434.87,166.98 439.82,258.18 438.53,258.75" fill="#e82e01"/>
<polygon points="434.87,166.98 438.53,258.75 437.12,259.2" fill="#ed3101"/>
<polygon points="434.87,166.98 437.12,259.2 435.63,259.53" fill="#f33402"/>
<polygon points="434.87,166.98 435.63,259.53 434.08,259.72" fill="#f93702"/>
<polygon points="434.87,166.98 434.08,259.72 432.49,259.77" fill="#fb3a03"/>
<polygon points="434.87,166.98 432.49,259.77 430.89,259.68" fill="#fc3c04"/>
<polygon points="434.87,166.98 430.89,259.68 429.32,259.46" fill="#fd3e04"/>
<polygon points="434.87,166.98 429.32,259.46 427.8,259.1" fill="#fe4005"/>
<polygon points="434.87,166.98 427.8,259.1 426.36,258.62" fill="#ff4206"/>
<polygon points="434.87,166.98 426.36,258.62 425.02,258.02" fill="#fc3f06"/>
<polygon points="434.87,166.98 425.02,258.02 423.8,257.31" fill="#fb3d05"/>
<polygon points="434.87,166.98 423.8,257.31 422.73,256.51" fill="#f93b05"/>
<polygon points="434.87,166.98 422.73,256.51 421.83,255.63" fill="#f73a05"/>
<polygon points="434.87,166.98 421.83,255.63 421.11,254.69" fill="#f63804"/>
<polygon points="434.87,166.98 421.11,254.69 420.57,253.7" fill="#f53704"/>
<polygon points="434.87,166.98 420.57,253.7 420.24,252.69" fill="#f43604"/>
<polygon points="434.87,166.98 420.24,252.69 420.12,251.66" fill="#f43604"/>
<polygon points="434.87,166.98 420.12,251.66 420.2,250.63" fill="#f43604"/>
<polygon points="434.87,166.98 444.16,251.92 444.13,252.95" fill="#d42400"/>
<polygon points="434.87,166.98 444.13,252.95 443.89,253.96" fill="#d52400"/>
<polygon points="434.87,166.98 443.89,253.96 443.44,254.94" fill="#d62500"/>
<polygon points="434.87,166.98 443.44,254.94 442.8,255.86" fill="#d82600"/>
<polygon points="434.87,166.98 442.8,255.86 441.97,256.72" fill="#db2800"/>
<polygon points="434.87,166.98 441.97,256.72 440.97,257.5" fill="#df2a01"/>
<path d="M314.04,69.52 C318.61,72.72 331.96,81.04 341.41,88.74 C350.86,96.45 360.69,106.8 370.75,115.74 C380.81,124.68 391.07,134.32 401.77,142.4 C412.48,150.48 429.43,160.59 434.96,164.22" fill="none" stroke="#ff3808" stroke-width="1.7" stroke-linejoin="round" stroke-linecap="round"/>
<polygon points="278.96,196.9 279.74,87.61 300.55,194.61 300.65,195.43 300.56,196.26 300.29,197.09 299.85,197.91 299.22,198.7 298.44,199.45 297.5,200.15 296.43,200.77 295.24,201.32 293.95,201.79 292.59,202.15 291.18,202.41 289.75,202.57 288.32,202.61 286.91,202.54 285.55,202.36 284.27,202.08 283.09,201.69 282.03,201.21 281.1,200.64 280.32,199.99 279.71,199.28 279.28,198.52 279.03,197.72" fill="#0af0f2"/>
<polygon points="279.74,87.61 296.43,200.77 295.24,201.32" fill="#06dbe1"/>
<polygon points="279.74,87.61 295.24,201.32 293.95,201.79" fill="#07e1e7"/>
<polygon points="279.74,87.61 293.95,201.79 292.59,202.15" fill="#09e9ec"/>
<polygon points="279.74,87.61 292.59,202.15 291.18,202.41" fill="#0af0f2"/>
<polygon points="279.74,87.61 291.18,202.41 289.75,202.57" fill="#11f3f5"/>
<polygon points="279.74,87.61 289.75,202.57 288.32,202.61" fill="#18f7f8"/>
<polygon points="279.74,87.61 288.32,202.61 286.91,202.54" fill="#1efafb"/>
<polygon points="279.74,87.61 286.91,202.54 285.55,202.36" fill="#24fdfd"/>
<polygon points="279.74,87.61 285.55,202.36 284.27,202.08" fill="#25fdfd"/>
<polygon points="279.74,87.61 284.27,202.08 283.09,201.69" fill="#1ff7f9"/>
<polygon points="279.74,87.61 283.09,201.69 282.03,201.21" fill="#1af2f5"/>
<polygon points="279.74,87.61 282.03,201.21 281.1,200.64" fill="#15eef1"/>
<polygon points="279.74,87.61 281.1,200.64 280.32,199.99" fill="#11eaee"/>
<polygon points="279.74,87.61 280.32,199.99 279.71,199.28" fill="#0de7ec"/>
<polygon points="279.74,87.61 279.71,199.28 279.28,198.52" fill="#0be4ea"/>
<polygon points="279.74,87.61 279.28,198.52 279.03,197.72" fill="#09e3e9"/>
<polygon points="279.74,87.61 279.03,197.72 278.96,196.9" fill="#08e2e8"/>
<polygon points="279.74,87.61 300.55,194.61 300.65,195.43" fill="#00c0cc"/>
<polygon points="279.74,87.61 300.65,195.43 300.56,196.26" fill="#00c0cc"/>
<polygon points="279.74,87.61 300.56,196.26 300.29,197.09" fill="#00c1cd"/>
<polygon points="279.74,87.61 300.29,197.09 299.85,197.91" fill="#01c3cf"/>
<polygon points="279.74,87.61 299.85,197.91 299.22,198.7" fill="#01c6d1"/>
<polygon points="279.74,87.61 299.22,198.7 298.44,199.45" fill="#02cad4"/>
<polygon points="279.74,87.61 298.44,199.45 297.5,200.15" fill="#03cfd8"/>
<polygon points="279.74,87.61 297.5,200.15 296.43,200.77" fill="#04d4dc"/>
<polygon points="303.3,214.17 307.03,110.29 325.53,211.73 325.68,212.6 325.63,213.49 325.4,214.38 324.97,215.26 324.37,216.1 323.59,216.91 322.66,217.65 321.58,218.32 320.38,218.91 319.07,219.41 317.68,219.8 316.23,220.08 314.76,220.24 313.27,220.29 311.81,220.21 310.4,220.02 309.06,219.71 307.82,219.3 306.69,218.78 305.7,218.17 304.87,217.48 304.2,216.72 303.71,215.91 303.41,215.05" fill="#0af0f2"/>
<polygon points="307.03,110.29 321.58,218.32 320.38,218.91" fill="#05d9e0"/>
<polygon points="307.03,110.29 320.38,218.91 319.07,219.41" fill="#07e0e5"/>
<polygon points="307.03,110.29 319.07,219.41 317.68,219.8" fill="#08e7eb"/>
<polygon points="307.03,110.29 317.68,219.8 316.23,220.08" fill="#0aeff1"/>
<polygon points="307.03,110.29 316.23,220.08 314.76,220.24" fill="#10f3f4"/>
<polygon points="307.03,110.29 314.76,220.24 313.27,220.29" fill="#16f6f7"/>
<polygon points="307.03,110.29 313.27,220.29 311.81,220.21" fill="#1df9fa"/>
<polygon points="307.03,110.29 311.81,220.21 310.4,220.02" fill="#23fdfd"/>
<polygon points="307.03,110.29 310.4,220.02 309.06,219.71" fill="#27fefe"/>
<polygon points="307.03,110.29 309.06,219.71 307.82,219.3" fill="#20f8fa"/>
<polygon points="307.03,110.29 307.82,219.3 306.69,218.78" fill="#1bf3f6"/>
<polygon points="307.03,110.29 306.69,218.78 305.7,218.17" fill="#16eff2"/>
<polygon points="307.03,110.29 305.7,218.17 304.87,217.48" fill="#11ebef"/>
<polygon points="307.03,110.29 304.87,217.48 304.2,216.72" fill="#0ee7ec"/>
<polygon points="307.03,110.29 304.2,216.72 303.71,215.91" fill="#0be5ea"/>
<polygon points="307.03,110.29 303.71,215.91 303.41,215.05" fill="#09e3e9"/>
<polygon points="307.03,110.29 303.41,215.05 303.3,214.17" fill="#08e2e8"/>
<polygon points="307.03,110.29 325.53,211.73 325.68,212.6" fill="#00c0cc"/>
<polygon points="307.03,110.29 325.68,212.6 325.63,213.49" fill="#00c0cc"/>
<polygon points="307.03,110.29 325.63,213.49 325.4,214.38" fill="#00c1cd"/>
<polygon points="307.03,110.29 325.4,214.38 324.97,215.26" fill="#01c3ce"/>
<polygon points="307.03,110.29 324.97,215.26 324.37,216.1" fill="#01c5d0"/>
<polygon points="307.03,110.29 324.37,216.1 323.59,216.91" fill="#02c9d3"/>
<polygon points="307.03,110.29 323.59,216.91 322.66,217.65" fill="#03ced7"/>
<polygon points="307.03,110.29 322.66,217.65 321.58,218.32" fill="#04d3db"/>
<polygon points="329.39,232.68 329.43,231.73 336.16,135.72 352.5,231.01 352.5,231.96 352.31,232.92 351.92,233.86 351.33,234.77 350.57,235.63 349.64,236.43 348.56,237.15 347.34,237.78 346.01,238.31 344.59,238.73 343.11,239.03 341.59,239.2 340.05,239.25 338.53,239.17 337.06,238.96 335.65,238.63 334.34,238.19 333.15,237.63 332.09,236.98 331.19,236.23 330.46,235.42 329.91,234.55 329.55,233.63" fill="#0af0f2"/>
<polygon points="336.16,135.72 348.56,237.15 347.34,237.78" fill="#05d8df"/>
<polygon points="336.16,135.72 347.34,237.78 346.01,238.31" fill="#06dee4"/>
<polygon points="336.16,135.72 346.01,238.31 344.59,238.73" fill="#08e5ea"/>
<polygon points="336.16,135.72 344.59,238.73 343.11,239.03" fill="#09edf0"/>
<polygon points="336.16,135.72 343.11,239.03 341.59,239.2" fill="#0ef2f4"/>
<polygon points="336.16,135.72 341.59,239.2 340.05,239.25" fill="#15f5f7"/>
<polygon points="336.16,135.72 340.05,239.25 338.53,239.17" fill="#1bf9f9"/>
<polygon points="336.16,135.72 338.53,239.17 337.06,238.96" fill="#22fcfc"/>
<polygon points="336.16,135.72 337.06,238.96 335.65,238.63" fill="#28ffff"/>
<polygon points="336.16,135.72 335.65,238.63 334.34,238.19" fill="#22f9fb"/>
<polygon points="336.16,135.72 334.34,238.19 333.15,237.63" fill="#1cf4f6"/>
<polygon points="336.16,135.72 333.15,237.63 332.09,236.98" fill="#17eff3"/>
<polygon points="336.16,135.72 332.09,236.98 331.19,236.23" fill="#12ebef"/>
<polygon points="336.16,135.72 331.19,236.23 330.46,235.42" fill="#0fe8ed"/>
<polygon points="336.16,135.72 330.46,235.42 329.91,234.55" fill="#0ce5eb"/>
<polygon points="336.16,135.72 329.91,234.55 329.55,233.63" fill="#0ae3e9"/>
<polygon points="336.16,135.72 329.55,233.63 329.39,232.68" fill="#08e2e8"/>
<polygon points="336.16,135.72 329.39,232.68 329.43,231.73" fill="#08e2e8"/>
<polygon points="336.16,135.72 352.5,231.01 352.5,231.96" fill="#00c0cc"/>
<polygon points="336.16,135.72 352.5,231.96 352.31,232.92" fill="#00c1cc"/>
<polygon points="336.16,135.72 352.31,232.92 351.92,233.86" fill="#00c2ce"/>
<polygon points="336.16,135.72 351.92,233.86 351.33,234.77" fill="#01c5d0"/>
<polygon points="336.16,135.72 351.33,234.77 350.57,235.63" fill="#02c8d2"/>
<polygon points="336.16,135.72 350.57,235.63 349.64,236.43" fill="#03ccd6"/>
<polygon points="336.16,135.72 349.64,236.43 348.56,237.15" fill="#04d2da"/>
<polygon points="357.42,251.55 367.12,160.27 381.33,250.79 381.38,251.81 381.23,252.84 380.88,253.85 380.32,254.83 379.58,255.76 378.66,256.61 377.58,257.39 376.35,258.07 375,258.64 373.55,259.09 372.02,259.41 370.45,259.6 368.86,259.65 367.28,259.56 365.73,259.34 364.26,258.99 362.87,258.5 361.6,257.9 360.47,257.2 359.49,256.4 358.69,255.52 358.07,254.58 357.65,253.6 357.44,252.58" fill="#0af0f2"/>
<polygon points="367.12,160.27 377.58,257.39 376.35,258.07" fill="#05d6de"/>
<polygon points="367.12,160.27 376.35,258.07 375,258.64" fill="#06dde3"/>
<polygon points="367.12,160.27 375,258.64 373.55,259.09" fill="#07e4e8"/>
<polygon points="367.12,160.27 373.55,259.09 372.02,259.41" fill="#09ebee"/>
<polygon points="367.12,160.27 372.02,259.41 370.45,259.6" fill="#0cf1f3"/>
<polygon points="367.12,160.27 370.45,259.6 368.86,259.65" fill="#13f4f6"/>
<polygon points="367.12,160.27 368.86,259.65 367.28,259.56" fill="#1af8f9"/>
<polygon points="367.12,160.27 367.28,259.56 365.73,259.34" fill="#20fbfc"/>
<polygon points="367.12,160.27 365.73,259.34 364.26,258.99" fill="#26fefe"/>
<polygon points="367.12,160.27 364.26,258.99 362.87,258.5" fill="#23fbfc"/>
<polygon points="367.12,160.27 362.87,258.5 361.6,257.9" fill="#1df5f7"/>
<polygon points="367.12,160.27 361.6,257.9 360.47,257.2" fill="#18f1f4"/>
<polygon points="367.12,160.27 360.47,257.2 359.49,256.4" fill="#13ecf0"/>
<polygon points="367.12,160.27 359.49,256.4 358.69,255.52" fill="#0fe9ed"/>
<polygon points="367.12,160.27 358.69,255.52 358.07,254.58" fill="#0ce6eb"/>
<polygon points="367.12,160.27 358.07,254.58 357.65,253.6" fill="#0ae4e9"/>
<polygon points="367.12,160.27 357.65,253.6 357.44,252.58" fill="#09e2e8"/>
<polygon points="367.12,160.27 357.44,252.58 357.42,251.55" fill="#08e2e8"/>
<polygon points="367.12,160.27 381.33,250.79 381.38,251.81" fill="#00c0cc"/>
<polygon points="367.12,160.27 381.38,251.81 381.23,252.84" fill="#00c0cc"/>
<polygon points="367.12,160.27 381.23,252.84 380.88,253.85" fill="#00c2cd"/>
<polygon points="367.12,160.27 380.88,253.85 380.32,254.83" fill="#01c4cf"/>
<polygon points="367.12,160.27 380.32,254.83 379.58,255.76" fill="#01c7d2"/>
<polygon points="367.12,160.27 379.58,255.76 378.66,256.61" fill="#02cbd5"/>
<polygon points="367.12,160.27 378.66,256.61 377.58,257.39" fill="#03d0d9"/>
<polygon points="387.59,272.91 387.73,271.81 400.29,188.18 412.39,272.1 412.5,273.21 412.4,274.31 412.09,275.4 411.58,276.46 410.86,277.46 409.95,278.38 408.87,279.22 407.63,279.95 406.25,280.57 404.77,281.05 403.2,281.4 401.58,281.6 399.93,281.66 398.28,281.56 396.66,281.32 395.11,280.94 393.64,280.42 392.28,279.77 391.06,279.01 390,278.15 389.12,277.2 388.43,276.18 387.94,275.12 387.65,274.02" fill="#0af0f2"/>
<polygon points="400.29,188.18 408.87,279.22 407.63,279.95" fill="#04d4dc"/>
<polygon points="400.29,188.18 407.63,279.95 406.25,280.57" fill="#06dbe1"/>
<polygon points="400.29,188.18 406.25,280.57 404.77,281.05" fill="#07e2e7"/>
<polygon points="400.29,188.18 404.77,281.05 403.2,281.4" fill="#09e9ec"/>
<polygon points="400.29,188.18 403.2,281.4 401.58,281.6" fill="#0bf0f2"/>
<polygon points="400.29,188.18 401.58,281.6 399.93,281.66" fill="#11f4f5"/>
<polygon points="400.29,188.18 399.93,281.66 398.28,281.56" fill="#18f7f8"/>
<polygon points="400.29,188.18 398.28,281.56 396.66,281.32" fill="#1efafb"/>
<polygon points="400.29,188.18 396.66,281.32 395.11,280.94" fill="#25fdfe"/>
<polygon points="400.29,188.18 395.11,280.94 393.64,280.42" fill="#25fcfd"/>
<polygon points="400.29,188.18 393.64,280.42 392.28,279.77" fill="#1ff7f9"/>
<polygon points="400.29,188.18 392.28,279.77 391.06,279.01" fill="#19f2f5"/>
<polygon points="400.29,188.18 391.06,279.01 390,278.15" fill="#15edf1"/>
<polygon points="400.29,188.18 390,278.15 389.12,277.2" fill="#10eaee"/>
<polygon points="400.29,188.18 389.12,277.2 388.43,276.18" fill="#0de7ec"/>
<polygon points="400.29,188.18 388.43,276.18 387.94,275.12" fill="#0be4ea"/>
<polygon points="400.29,188.18 387.94,275.12 387.65,274.02" fill="#09e3e9"/>
<polygon points="400.29,188.18 387.65,274.02 387.59,272.91" fill="#08e2e8"/>
<polygon points="400.29,188.18 387.59,272.91 387.73,271.81" fill="#08e2e8"/>
<polygon points="400.29,188.18 412.39,272.1 412.5,273.21" fill="#00c0cc"/>
<polygon points="400.29,188.18 412.5,273.21 412.4,274.31" fill="#00c0cc"/>
<polygon points="400.29,188.18 412.4,274.31 412.09,275.4" fill="#00c1cd"/>
<polygon points="400.29,188.18 412.09,275.4 411.58,276.46" fill="#01c3cf"/>
<polygon points="400.29,188.18 411.58,276.46 410.86,277.46" fill="#01c6d1"/>
<polygon points="400.29,188.18 410.86,277.46 409.95,278.38" fill="#02cad4"/>
<polygon points="400.29,188.18 409.95,278.38 408.87,279.22" fill="#03cfd8"/>
<path d="M279.57,85.82 C284.13,89.6 297.48,100.46 306.9,108.48 C316.31,116.49 326.04,125.57 336.07,133.89 C346.09,142.22 356.36,149.68 367.07,158.42 C377.77,167.15 394.76,181.66 400.3,186.31" fill="none" stroke="#00eef0" stroke-width="1.7" stroke-linejoin="round" stroke-linecap="round"/>
</g>
<rect x="9.5" y="10.5" width="14.2" height="5" fill="#96c80a"/>
<text class="ln" x="26.5" y="14.84" font-size="6.8" textLength="5.8" lengthAdjust="spacingAndGlyphs">#1</text>
<text class="lt" x="34.7" y="14.84" font-size="6.8" textLength="64.7" lengthAdjust="spacingAndGlyphs">with complex powder</text>
<rect x="9.5" y="17.5" width="14.2" height="5" fill="#0a378c"/>
<text class="ln" x="26.5" y="21.84" font-size="6.8" textLength="5.8" lengthAdjust="spacingAndGlyphs">#2</text>
<text class="lt" x="34.7" y="21.84" font-size="6.8" textLength="64.7" lengthAdjust="spacingAndGlyphs">with complex powder</text>
<rect x="9.5" y="24.5" width="14.2" height="5" fill="#ff3705"/>
<text class="ln" x="26.5" y="28.84" font-size="6.8" textLength="5.8" lengthAdjust="spacingAndGlyphs">#3</text>
<text class="lt" x="34.7" y="28.84" font-size="6.8" textLength="64.7" lengthAdjust="spacingAndGlyphs">with complex powder</text>
<rect x="9.5" y="31.5" width="14.2" height="5" fill="#14fafa"/>
<text class="ln" x="26.5" y="35.84" font-size="6.8" textLength="5.8" lengthAdjust="spacingAndGlyphs">#4</text>
<text class="lt" x="34.7" y="35.84" font-size="6.8" textLength="64.7" lengthAdjust="spacingAndGlyphs">with complex powder</text>
<rect x="273.5" y="4.9" width="17.4" height="5.2" fill="#96c80a"/>
<text class="ln" x="293.3" y="9.44" font-size="7.2" textLength="6.2" lengthAdjust="spacingAndGlyphs">#1</text>
<text class="lt" x="302.7" y="9.44" font-size="7.2" textLength="69.9" lengthAdjust="spacingAndGlyphs">with complex powder</text>
<rect x="273.5" y="12.75" width="17.4" height="5.2" fill="#0a378c"/>
<text class="ln" x="293.3" y="17.29" font-size="7.2" textLength="6.2" lengthAdjust="spacingAndGlyphs">#2</text>
<text class="lt" x="302.7" y="17.29" font-size="7.2" textLength="69.9" lengthAdjust="spacingAndGlyphs">with complex powder</text>
<rect x="273.5" y="20.6" width="17.4" height="5.2" fill="#ff3705"/>
<text class="ln" x="293.3" y="25.14" font-size="7.2" textLength="6.2" lengthAdjust="spacingAndGlyphs">#3</text>
<text class="lt" x="302.7" y="25.14" font-size="7.2" textLength="69.9" lengthAdjust="spacingAndGlyphs">with complex powder</text>
<rect x="273.5" y="28.45" width="17.4" height="5.2" fill="#14fafa"/>
<text class="ln" x="293.3" y="32.99" font-size="7.2" textLength="6.2" lengthAdjust="spacingAndGlyphs">#4</text>
<text class="lt" x="302.7" y="32.99" font-size="7.2" textLength="69.9" lengthAdjust="spacingAndGlyphs">with complex powder</text>
<text class="tt" x="37" y="52.6" font-size="10.4">37℃</text>
<text class="tt" x="312" y="53" font-size="11.6">47℃</text>
<text class="tt" x="65.8" y="278.4" font-size="12.8">(a)</text>
<text class="tt" x="343.6" y="285.6" font-size="12.8">(b)</text>
</svg>
</body></html>
